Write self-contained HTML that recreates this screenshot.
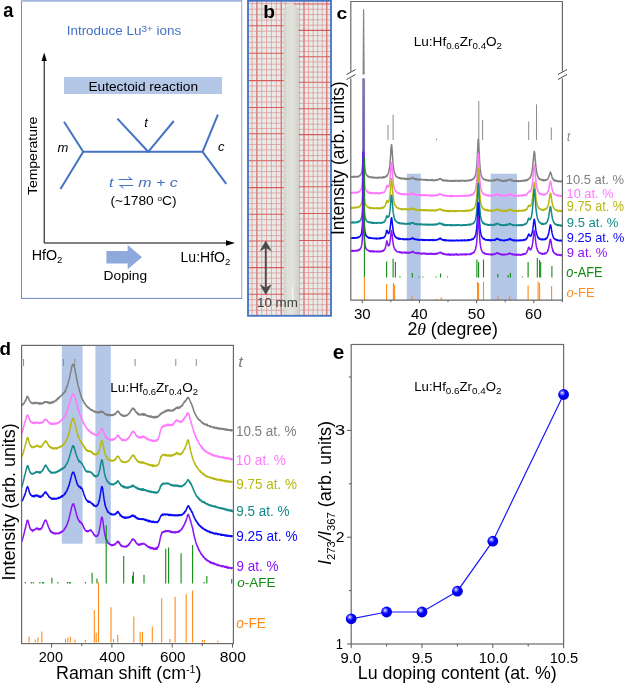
<!DOCTYPE html>
<html><head><meta charset="utf-8"><title>Figure</title><style>
html,body{margin:0;padding:0;background:#fff;width:625px;height:685px;overflow:hidden}
svg{display:block}
text{font-family:"Liberation Sans", Arial, sans-serif}
</style></head><body>
<svg width="625" height="685" viewBox="0 0 625 685">
<line x1="21.5" y1="0.5" x2="21.5" y2="298.9" stroke="#6F8CC8" stroke-width="1"/>
<line x1="21" y1="0.9" x2="242.2" y2="0.9" stroke="#A4B6DC" stroke-width="1.6"/>
<line x1="241.7" y1="0.5" x2="241.7" y2="298.9" stroke="#9CB0DA" stroke-width="1.1"/>
<line x1="21" y1="298.4" x2="242.2" y2="298.4" stroke="#6A88C4" stroke-width="1"/>
<text id="a" x="3.34" y="17.24" font-size="19.57" textLength="10.17" lengthAdjust="spacingAndGlyphs" font-weight="bold">a</text>
<text id="intro" x="66.68" y="34.59" font-size="13.00" textLength="114.45" lengthAdjust="spacingAndGlyphs" fill="#4472C4">Introduce Lu<tspan dy="-2.6" font-size="9.5">3+</tspan><tspan dy="2.6"> ions</tspan></text>
<line x1="44.2" y1="243" x2="44.2" y2="58" stroke="#000" stroke-width="1"/>
<polygon points="44.2,52.5 41.6,61 46.8,61" fill="#000"/>
<line x1="44.2" y1="243" x2="228" y2="243" stroke="#000" stroke-width="1"/>
<polygon points="235,243 226,240.3 226,245.7" fill="#000"/>
<rect x="64" y="77" width="158" height="17" fill="#B4C7E7"/>
<text id="eut" x="88.45" y="91.37" font-size="13.40" textLength="109.58" lengthAdjust="spacingAndGlyphs" >Eutectoid reaction</text>
<polyline points="64,121.8 83.2,151.8 60.5,189" stroke="#4472C4" stroke-width="2" fill="none"/>
<line x1="83.2" y1="151.8" x2="202.6" y2="151.8" stroke="#4472C4" stroke-width="2" fill="none"/>
<polyline points="117.4,118.6 148.2,151.8 173.8,121" stroke="#4472C4" stroke-width="2" fill="none"/>
<polyline points="217.9,114.7 202.6,151.8 226.2,183.8" stroke="#4472C4" stroke-width="2" fill="none"/>
<text id="am" x="57.50" y="152.00" font-size="13.00" font-style="italic">m</text>
<text id="at" x="144.30" y="127.30" font-size="13.00" font-style="italic">t</text>
<text id="ac" x="218.00" y="151.30" font-size="13.00" font-style="italic">c</text>
<text id="eq" x="109.02" y="187.38" font-size="13.13" textLength="68.75" lengthAdjust="spacingAndGlyphs" font-style="italic" fill="#4472C4">t <tspan font-style="normal" font-family="Noto Sans CJK SC" font-weight="400" font-size="13">&#8652;</tspan> m + c</text>
<text id="temp1780" x="110.55" y="204.54" font-size="13.50" textLength="66.00" lengthAdjust="spacingAndGlyphs" >(~1780 <tspan dy="-3.9" font-size="8">o</tspan><tspan dy="3.9">C)</tspan></text>
<text id="temper" transform="translate(37.40,194.99) rotate(-90)" font-size="13.61" textLength="78.31" lengthAdjust="spacingAndGlyphs" >Temperature</text>
<text id="hfo2" x="31.70" y="260.02" font-size="14.22" textLength="30.69" lengthAdjust="spacingAndGlyphs" >HfO<tspan dy="3" font-size="9.5">2</tspan></text>
<text id="luhfo2" x="180.53" y="262.06" font-size="13.92" textLength="49.84" lengthAdjust="spacingAndGlyphs" >Lu:HfO<tspan dy="3" font-size="9.5">2</tspan></text>
<polygon points="106.4,251 127.7,251 127.7,244.9 142,257.2 127.7,269.2 127.7,263.5 106.4,263.5" fill="#8EA9DB"/>
<text id="doping" x="103.61" y="279.86" font-size="13.56" textLength="43.53" lengthAdjust="spacingAndGlyphs" >Doping</text>
<defs><clipPath id="cpb"><rect x="248" y="0.8" width="83" height="315"/></clipPath><linearGradient id="rodg" x1="0" x2="1" y1="0" y2="0"><stop offset="0" stop-color="#D0D0C6"/><stop offset="0.25" stop-color="#DFE0D8"/><stop offset="0.6" stop-color="#E1E2DB"/><stop offset="1" stop-color="#CFCFC4"/></linearGradient></defs>
<g clip-path="url(#cpb)">
<rect x="248" y="0.8" width="83" height="315" fill="#E8EBE8"/>
<line x1="247.18" y1="0" x2="247.18" y2="320" stroke="#DC8A8A" stroke-width="0.65"/><line x1="252.04" y1="0" x2="252.04" y2="320" stroke="#DC8A8A" stroke-width="0.65"/><line x1="256.90" y1="0" x2="256.90" y2="320" stroke="#D65A58" stroke-width="1.1"/><line x1="261.76" y1="0" x2="261.76" y2="320" stroke="#DC8A8A" stroke-width="0.65"/><line x1="266.62" y1="0" x2="266.62" y2="320" stroke="#DC8A8A" stroke-width="0.65"/><line x1="271.48" y1="0" x2="271.48" y2="320" stroke="#DC8A8A" stroke-width="0.65"/><line x1="276.34" y1="0" x2="276.34" y2="320" stroke="#DC8A8A" stroke-width="0.65"/><line x1="281.20" y1="0" x2="281.20" y2="320" stroke="#D65A58" stroke-width="1.1"/><line x1="285.76" y1="0" x2="285.76" y2="320" stroke="#DC8A8A" stroke-width="0.65"/><line x1="290.32" y1="0" x2="290.32" y2="320" stroke="#DC8A8A" stroke-width="0.65"/><line x1="294.88" y1="0" x2="294.88" y2="320" stroke="#DC8A8A" stroke-width="0.65"/><line x1="299.44" y1="0" x2="299.44" y2="320" stroke="#DC8A8A" stroke-width="0.65"/><line x1="304.00" y1="0" x2="304.00" y2="320" stroke="#D65A58" stroke-width="1.1"/><line x1="308.56" y1="0" x2="308.56" y2="320" stroke="#DC8A8A" stroke-width="0.65"/><line x1="313.12" y1="0" x2="313.12" y2="320" stroke="#DC8A8A" stroke-width="0.65"/><line x1="317.68" y1="0" x2="317.68" y2="320" stroke="#DC8A8A" stroke-width="0.65"/><line x1="322.24" y1="0" x2="322.24" y2="320" stroke="#DC8A8A" stroke-width="0.65"/><line x1="326.80" y1="0" x2="326.80" y2="320" stroke="#D65A58" stroke-width="1.1"/><line x1="331.36" y1="0" x2="331.36" y2="320" stroke="#DC8A8A" stroke-width="0.65"/><line x1="248" y1="-12.94" x2="290" y2="-12.94" stroke="#DC8A8A" stroke-width="0.65"/><line x1="290" y1="-6.56" x2="332" y2="-6.56" stroke="#DC8A8A" stroke-width="0.65"/><line x1="248" y1="-7.42" x2="290" y2="-7.42" stroke="#DC8A8A" stroke-width="0.65"/><line x1="290" y1="-1.28" x2="332" y2="-1.28" stroke="#DC8A8A" stroke-width="0.65"/><line x1="248" y1="-1.90" x2="290" y2="-1.90" stroke="#D65A58" stroke-width="1.1"/><line x1="290" y1="4.00" x2="332" y2="4.00" stroke="#D65A58" stroke-width="1.1"/><line x1="248" y1="3.62" x2="290" y2="3.62" stroke="#DC8A8A" stroke-width="0.65"/><line x1="290" y1="9.28" x2="332" y2="9.28" stroke="#DC8A8A" stroke-width="0.65"/><line x1="248" y1="9.14" x2="290" y2="9.14" stroke="#DC8A8A" stroke-width="0.65"/><line x1="290" y1="14.56" x2="332" y2="14.56" stroke="#DC8A8A" stroke-width="0.65"/><line x1="248" y1="14.66" x2="290" y2="14.66" stroke="#DC8A8A" stroke-width="0.65"/><line x1="290" y1="19.84" x2="332" y2="19.84" stroke="#DC8A8A" stroke-width="0.65"/><line x1="248" y1="20.18" x2="290" y2="20.18" stroke="#DC8A8A" stroke-width="0.65"/><line x1="290" y1="25.12" x2="332" y2="25.12" stroke="#DC8A8A" stroke-width="0.65"/><line x1="248" y1="25.70" x2="290" y2="25.70" stroke="#D65A58" stroke-width="1.1"/><line x1="290" y1="30.40" x2="332" y2="30.40" stroke="#D65A58" stroke-width="1.1"/><line x1="248" y1="31.22" x2="290" y2="31.22" stroke="#DC8A8A" stroke-width="0.65"/><line x1="290" y1="35.68" x2="332" y2="35.68" stroke="#DC8A8A" stroke-width="0.65"/><line x1="248" y1="36.74" x2="290" y2="36.74" stroke="#DC8A8A" stroke-width="0.65"/><line x1="290" y1="40.96" x2="332" y2="40.96" stroke="#DC8A8A" stroke-width="0.65"/><line x1="248" y1="42.26" x2="290" y2="42.26" stroke="#DC8A8A" stroke-width="0.65"/><line x1="290" y1="46.24" x2="332" y2="46.24" stroke="#DC8A8A" stroke-width="0.65"/><line x1="248" y1="47.78" x2="290" y2="47.78" stroke="#DC8A8A" stroke-width="0.65"/><line x1="290" y1="51.52" x2="332" y2="51.52" stroke="#DC8A8A" stroke-width="0.65"/><line x1="248" y1="53.30" x2="290" y2="53.30" stroke="#D65A58" stroke-width="1.1"/><line x1="290" y1="56.80" x2="332" y2="56.80" stroke="#D65A58" stroke-width="1.1"/><line x1="248" y1="58.76" x2="290" y2="58.76" stroke="#DC8A8A" stroke-width="0.65"/><line x1="290" y1="61.90" x2="332" y2="61.90" stroke="#DC8A8A" stroke-width="0.65"/><line x1="248" y1="64.22" x2="290" y2="64.22" stroke="#DC8A8A" stroke-width="0.65"/><line x1="290" y1="67.00" x2="332" y2="67.00" stroke="#DC8A8A" stroke-width="0.65"/><line x1="248" y1="69.68" x2="290" y2="69.68" stroke="#DC8A8A" stroke-width="0.65"/><line x1="290" y1="72.10" x2="332" y2="72.10" stroke="#DC8A8A" stroke-width="0.65"/><line x1="248" y1="75.14" x2="290" y2="75.14" stroke="#DC8A8A" stroke-width="0.65"/><line x1="290" y1="77.20" x2="332" y2="77.20" stroke="#DC8A8A" stroke-width="0.65"/><line x1="248" y1="80.60" x2="290" y2="80.60" stroke="#D65A58" stroke-width="1.1"/><line x1="290" y1="82.30" x2="332" y2="82.30" stroke="#D65A58" stroke-width="1.1"/><line x1="248" y1="85.98" x2="290" y2="85.98" stroke="#DC8A8A" stroke-width="0.65"/><line x1="290" y1="87.58" x2="332" y2="87.58" stroke="#DC8A8A" stroke-width="0.65"/><line x1="248" y1="91.36" x2="290" y2="91.36" stroke="#DC8A8A" stroke-width="0.65"/><line x1="290" y1="92.86" x2="332" y2="92.86" stroke="#DC8A8A" stroke-width="0.65"/><line x1="248" y1="96.74" x2="290" y2="96.74" stroke="#DC8A8A" stroke-width="0.65"/><line x1="290" y1="98.14" x2="332" y2="98.14" stroke="#DC8A8A" stroke-width="0.65"/><line x1="248" y1="102.12" x2="290" y2="102.12" stroke="#DC8A8A" stroke-width="0.65"/><line x1="290" y1="103.42" x2="332" y2="103.42" stroke="#DC8A8A" stroke-width="0.65"/><line x1="248" y1="107.50" x2="290" y2="107.50" stroke="#D65A58" stroke-width="1.1"/><line x1="290" y1="108.70" x2="332" y2="108.70" stroke="#D65A58" stroke-width="1.1"/><line x1="248" y1="112.74" x2="290" y2="112.74" stroke="#DC8A8A" stroke-width="0.65"/><line x1="290" y1="113.88" x2="332" y2="113.88" stroke="#DC8A8A" stroke-width="0.65"/><line x1="248" y1="117.98" x2="290" y2="117.98" stroke="#DC8A8A" stroke-width="0.65"/><line x1="290" y1="119.06" x2="332" y2="119.06" stroke="#DC8A8A" stroke-width="0.65"/><line x1="248" y1="123.22" x2="290" y2="123.22" stroke="#DC8A8A" stroke-width="0.65"/><line x1="290" y1="124.24" x2="332" y2="124.24" stroke="#DC8A8A" stroke-width="0.65"/><line x1="248" y1="128.46" x2="290" y2="128.46" stroke="#DC8A8A" stroke-width="0.65"/><line x1="290" y1="129.42" x2="332" y2="129.42" stroke="#DC8A8A" stroke-width="0.65"/><line x1="248" y1="133.70" x2="290" y2="133.70" stroke="#D65A58" stroke-width="1.1"/><line x1="290" y1="134.60" x2="332" y2="134.60" stroke="#D65A58" stroke-width="1.1"/><line x1="248" y1="139.12" x2="290" y2="139.12" stroke="#DC8A8A" stroke-width="0.65"/><line x1="290" y1="139.84" x2="332" y2="139.84" stroke="#DC8A8A" stroke-width="0.65"/><line x1="248" y1="144.54" x2="290" y2="144.54" stroke="#DC8A8A" stroke-width="0.65"/><line x1="290" y1="145.08" x2="332" y2="145.08" stroke="#DC8A8A" stroke-width="0.65"/><line x1="248" y1="149.96" x2="290" y2="149.96" stroke="#DC8A8A" stroke-width="0.65"/><line x1="290" y1="150.32" x2="332" y2="150.32" stroke="#DC8A8A" stroke-width="0.65"/><line x1="248" y1="155.38" x2="290" y2="155.38" stroke="#DC8A8A" stroke-width="0.65"/><line x1="290" y1="155.56" x2="332" y2="155.56" stroke="#DC8A8A" stroke-width="0.65"/><line x1="248" y1="160.80" x2="290" y2="160.80" stroke="#D65A58" stroke-width="1.1"/><line x1="290" y1="160.80" x2="332" y2="160.80" stroke="#D65A58" stroke-width="1.1"/><line x1="248" y1="166.16" x2="290" y2="166.16" stroke="#DC8A8A" stroke-width="0.65"/><line x1="290" y1="166.00" x2="332" y2="166.00" stroke="#DC8A8A" stroke-width="0.65"/><line x1="248" y1="171.52" x2="290" y2="171.52" stroke="#DC8A8A" stroke-width="0.65"/><line x1="290" y1="171.20" x2="332" y2="171.20" stroke="#DC8A8A" stroke-width="0.65"/><line x1="248" y1="176.88" x2="290" y2="176.88" stroke="#DC8A8A" stroke-width="0.65"/><line x1="290" y1="176.40" x2="332" y2="176.40" stroke="#DC8A8A" stroke-width="0.65"/><line x1="248" y1="182.24" x2="290" y2="182.24" stroke="#DC8A8A" stroke-width="0.65"/><line x1="290" y1="181.60" x2="332" y2="181.60" stroke="#DC8A8A" stroke-width="0.65"/><line x1="248" y1="187.60" x2="290" y2="187.60" stroke="#D65A58" stroke-width="1.1"/><line x1="290" y1="186.80" x2="332" y2="186.80" stroke="#D65A58" stroke-width="1.1"/><line x1="248" y1="192.94" x2="290" y2="192.94" stroke="#DC8A8A" stroke-width="0.65"/><line x1="290" y1="192.14" x2="332" y2="192.14" stroke="#DC8A8A" stroke-width="0.65"/><line x1="248" y1="198.28" x2="290" y2="198.28" stroke="#DC8A8A" stroke-width="0.65"/><line x1="290" y1="197.48" x2="332" y2="197.48" stroke="#DC8A8A" stroke-width="0.65"/><line x1="248" y1="203.62" x2="290" y2="203.62" stroke="#DC8A8A" stroke-width="0.65"/><line x1="290" y1="202.82" x2="332" y2="202.82" stroke="#DC8A8A" stroke-width="0.65"/><line x1="248" y1="208.96" x2="290" y2="208.96" stroke="#DC8A8A" stroke-width="0.65"/><line x1="290" y1="208.16" x2="332" y2="208.16" stroke="#DC8A8A" stroke-width="0.65"/><line x1="248" y1="214.30" x2="290" y2="214.30" stroke="#D65A58" stroke-width="1.1"/><line x1="290" y1="213.50" x2="332" y2="213.50" stroke="#D65A58" stroke-width="1.1"/><line x1="248" y1="219.64" x2="290" y2="219.64" stroke="#DC8A8A" stroke-width="0.65"/><line x1="290" y1="218.90" x2="332" y2="218.90" stroke="#DC8A8A" stroke-width="0.65"/><line x1="248" y1="224.98" x2="290" y2="224.98" stroke="#DC8A8A" stroke-width="0.65"/><line x1="290" y1="224.30" x2="332" y2="224.30" stroke="#DC8A8A" stroke-width="0.65"/><line x1="248" y1="230.32" x2="290" y2="230.32" stroke="#DC8A8A" stroke-width="0.65"/><line x1="290" y1="229.70" x2="332" y2="229.70" stroke="#DC8A8A" stroke-width="0.65"/><line x1="248" y1="235.66" x2="290" y2="235.66" stroke="#DC8A8A" stroke-width="0.65"/><line x1="290" y1="235.10" x2="332" y2="235.10" stroke="#DC8A8A" stroke-width="0.65"/><line x1="248" y1="241.00" x2="290" y2="241.00" stroke="#D65A58" stroke-width="1.1"/><line x1="290" y1="240.50" x2="332" y2="240.50" stroke="#D65A58" stroke-width="1.1"/><line x1="248" y1="246.32" x2="290" y2="246.32" stroke="#DC8A8A" stroke-width="0.65"/><line x1="290" y1="245.84" x2="332" y2="245.84" stroke="#DC8A8A" stroke-width="0.65"/><line x1="248" y1="251.64" x2="290" y2="251.64" stroke="#DC8A8A" stroke-width="0.65"/><line x1="290" y1="251.18" x2="332" y2="251.18" stroke="#DC8A8A" stroke-width="0.65"/><line x1="248" y1="256.96" x2="290" y2="256.96" stroke="#DC8A8A" stroke-width="0.65"/><line x1="290" y1="256.52" x2="332" y2="256.52" stroke="#DC8A8A" stroke-width="0.65"/><line x1="248" y1="262.28" x2="290" y2="262.28" stroke="#DC8A8A" stroke-width="0.65"/><line x1="290" y1="261.86" x2="332" y2="261.86" stroke="#DC8A8A" stroke-width="0.65"/><line x1="248" y1="267.60" x2="290" y2="267.60" stroke="#D65A58" stroke-width="1.1"/><line x1="290" y1="267.20" x2="332" y2="267.20" stroke="#D65A58" stroke-width="1.1"/><line x1="248" y1="272.94" x2="290" y2="272.94" stroke="#DC8A8A" stroke-width="0.65"/><line x1="290" y1="272.56" x2="332" y2="272.56" stroke="#DC8A8A" stroke-width="0.65"/><line x1="248" y1="278.28" x2="290" y2="278.28" stroke="#DC8A8A" stroke-width="0.65"/><line x1="290" y1="277.92" x2="332" y2="277.92" stroke="#DC8A8A" stroke-width="0.65"/><line x1="248" y1="283.62" x2="290" y2="283.62" stroke="#DC8A8A" stroke-width="0.65"/><line x1="290" y1="283.28" x2="332" y2="283.28" stroke="#DC8A8A" stroke-width="0.65"/><line x1="248" y1="288.96" x2="290" y2="288.96" stroke="#DC8A8A" stroke-width="0.65"/><line x1="290" y1="288.64" x2="332" y2="288.64" stroke="#DC8A8A" stroke-width="0.65"/><line x1="248" y1="294.30" x2="290" y2="294.30" stroke="#D65A58" stroke-width="1.1"/><line x1="290" y1="294.00" x2="332" y2="294.00" stroke="#D65A58" stroke-width="1.1"/><line x1="248" y1="299.64" x2="290" y2="299.64" stroke="#DC8A8A" stroke-width="0.65"/><line x1="290" y1="299.36" x2="332" y2="299.36" stroke="#DC8A8A" stroke-width="0.65"/><line x1="248" y1="304.98" x2="290" y2="304.98" stroke="#DC8A8A" stroke-width="0.65"/><line x1="290" y1="304.72" x2="332" y2="304.72" stroke="#DC8A8A" stroke-width="0.65"/><line x1="248" y1="310.32" x2="290" y2="310.32" stroke="#DC8A8A" stroke-width="0.65"/><line x1="290" y1="310.08" x2="332" y2="310.08" stroke="#DC8A8A" stroke-width="0.65"/><line x1="248" y1="315.66" x2="290" y2="315.66" stroke="#DC8A8A" stroke-width="0.65"/><line x1="290" y1="315.44" x2="332" y2="315.44" stroke="#DC8A8A" stroke-width="0.65"/><line x1="248" y1="321.00" x2="290" y2="321.00" stroke="#D65A58" stroke-width="1.1"/><line x1="290" y1="320.80" x2="332" y2="320.80" stroke="#D65A58" stroke-width="1.1"/><line x1="248" y1="326.34" x2="290" y2="326.34" stroke="#DC8A8A" stroke-width="0.65"/><line x1="290" y1="326.16" x2="332" y2="326.16" stroke="#DC8A8A" stroke-width="0.65"/>
<path d="M283.6,316 L283.6,12 L290.5,2.2 L297.2,6 L298.6,14 L299.2,316 Z" fill="url(#rodg)"/>
<path d="M291.6,288 L293,286 L293.6,300 L292.2,301 Z" fill="#F4F4F0"/>
</g>
<rect x="248" y="0.8" width="83" height="315" fill="none" stroke="#4472C4" stroke-width="1.8"/>
<text id="b" x="263.28" y="17.52" font-size="19.02" textLength="11.77" lengthAdjust="spacingAndGlyphs" font-weight="bold">b</text>
<line x1="265.75" y1="245" x2="265.75" y2="290" stroke="#4A4A4A" stroke-width="1.9"/>
<path d="M265.75,241.2 L271,250.5 L265.75,247.5 L260.5,250.5 Z" fill="#4A4A4A" stroke="#4A4A4A" stroke-width="0.8" stroke-linejoin="round"/>
<path d="M265.75,294.3 L271,285 L265.75,288 L260.5,285 Z" fill="#4A4A4A" stroke="#4A4A4A" stroke-width="0.8" stroke-linejoin="round"/>
<text id="tenmm" x="256.98" y="307.30" font-size="11.91" textLength="40.81" lengthAdjust="spacingAndGlyphs" fill="#404040">10 mm</text>
<text id="c" x="336.50" y="19.32" font-size="15.86" textLength="10.74" lengthAdjust="spacingAndGlyphs" font-weight="bold">c</text>
<rect x="406.8" y="173.7" width="13.9" height="126.3" fill="#B4C7E7"/>
<rect x="490.7" y="173.7" width="26.3" height="126.3" fill="#B4C7E7"/>
<line x1="388.0" y1="140" x2="388.0" y2="125" stroke="#8C8C8C" stroke-width="1"/>
<line x1="393.1" y1="140" x2="393.1" y2="114.6" stroke="#8C8C8C" stroke-width="1"/>
<line x1="436.6" y1="140" x2="436.6" y2="138.5" stroke="#8C8C8C" stroke-width="1"/>
<line x1="478.8" y1="140" x2="478.8" y2="101" stroke="#8C8C8C" stroke-width="1"/>
<line x1="482.6" y1="140" x2="482.6" y2="120" stroke="#8C8C8C" stroke-width="1"/>
<line x1="528.7" y1="140" x2="528.7" y2="121.5" stroke="#8C8C8C" stroke-width="1"/>
<line x1="536.5" y1="140" x2="536.5" y2="104.4" stroke="#8C8C8C" stroke-width="1"/>
<line x1="551.3" y1="140" x2="551.3" y2="127.5" stroke="#8C8C8C" stroke-width="1"/>
<polyline points="350.91,177.01 351.05,177.07 351.18,176.94 351.31,176.80 351.44,176.89 351.58,176.77 351.71,177.00 351.84,177.27 351.97,176.87 352.10,176.83 352.24,177.07 352.37,177.04 352.50,176.98 352.63,176.74 352.77,176.94 352.90,177.09 353.03,176.64 353.16,176.82 353.29,176.50 353.43,176.63 353.56,176.50 353.69,176.85 353.82,176.62 353.96,176.95 354.09,176.93 354.22,176.85 354.35,176.33 354.48,176.76 354.62,176.87 354.75,176.90 354.88,176.53 355.01,176.76 355.15,176.64 355.28,176.67 355.41,177.08 355.54,176.66 355.67,176.82 355.81,177.01 355.94,176.68 356.07,176.77 356.20,176.81 356.34,176.79 356.47,176.49 356.60,176.76 356.73,177.03 356.86,176.38 357.00,176.89 357.13,176.71 357.26,176.52 357.39,177.08 357.53,176.78 357.66,176.33 357.79,176.58 357.92,176.66 358.05,176.46 358.19,176.62 358.32,176.42 358.45,176.54 358.58,176.67 358.72,176.15 358.85,176.30 358.98,176.10 359.11,176.17 359.24,175.81 359.38,175.87 359.51,175.88 359.64,176.04 359.77,176.00 359.90,175.35 360.04,175.35 360.17,175.54 360.30,174.82 360.43,175.00 360.57,174.91 360.70,175.01 360.83,174.67 360.96,174.20 361.09,173.92 361.23,173.63 361.36,173.66 361.49,172.82 361.62,172.38 361.76,171.98 361.89,171.24 362.02,170.47 362.15,169.37 362.28,168.52 362.42,167.09 362.55,165.74 362.68,163.37 362.81,160.08 362.95,155.47 363.08,150.00 363.21,150.00 363.34,150.00 363.47,150.00 363.61,150.00 363.74,150.00 363.87,150.00 364.00,150.00 364.14,150.00 364.27,154.63 364.40,159.83 364.53,163.55 364.66,165.20 364.80,167.00 364.93,168.56 365.06,169.73 365.19,170.51 365.33,171.27 365.46,172.13 365.59,172.65 365.72,172.80 365.85,173.43 365.99,173.83 366.12,173.91 366.25,174.49 366.38,174.50 366.52,175.13 366.65,175.16 366.78,175.32 366.91,175.34 367.04,175.59 367.18,175.32 367.31,175.63 367.44,176.07 367.57,175.63 367.71,176.38 367.84,175.90 367.97,176.53 368.10,176.25 368.23,176.68 368.37,176.60 368.50,176.29 368.63,176.96 368.76,177.05 368.90,176.77 369.03,176.77 369.16,176.84 369.29,176.70 369.42,177.19 369.56,176.87 369.69,177.01 369.82,176.88 369.95,176.95 370.09,176.83 370.22,177.42 370.35,177.13 370.48,177.40 370.61,177.22 370.75,177.08 370.88,177.18 371.01,177.15 371.14,177.30 371.28,177.23 371.41,177.27 371.54,177.05 371.67,177.19 371.80,177.75 371.94,177.25 372.07,177.18 372.20,177.50 372.33,177.75 372.47,177.13 372.60,177.42 372.73,177.34 372.86,177.10 372.99,177.66 373.13,177.50 373.26,177.54 373.39,177.36 373.52,177.64 373.66,177.43 373.79,177.53 373.92,177.32 374.05,177.31 374.18,177.88 374.32,177.48 374.45,177.66 374.58,177.60 374.71,177.52 374.85,177.51 374.98,177.76 375.11,177.57 375.24,177.60 375.37,177.65 375.51,177.91 375.64,177.80 375.77,177.74 375.90,177.54 376.04,177.36 376.17,177.88 376.30,177.89 376.43,177.65 376.56,177.80 376.70,177.86 376.83,177.87 376.96,177.90 377.09,177.60 377.23,178.03 377.36,177.43 377.49,177.89 377.62,177.81 377.75,177.90 377.89,178.12 378.02,178.03 378.15,177.46 378.28,177.34 378.42,177.89 378.55,177.49 378.68,177.71 378.81,177.89 378.94,177.35 379.08,177.24 379.21,177.76 379.34,177.71 379.47,177.65 379.60,177.71 379.74,177.51 379.87,177.36 380.00,177.65 380.13,177.47 380.27,177.32 380.40,177.79 380.53,177.66 380.66,177.75 380.79,177.44 380.93,177.50 381.06,177.42 381.19,177.44 381.32,177.67 381.46,177.44 381.59,177.68 381.72,177.67 381.85,178.03 381.98,177.27 382.12,177.76 382.25,177.53 382.38,177.53 382.51,177.20 382.65,177.40 382.78,177.65 382.91,177.45 383.04,177.46 383.17,177.36 383.31,177.66 383.44,177.37 383.57,176.87 383.70,177.18 383.84,176.87 383.97,176.55 384.10,177.12 384.23,177.50 384.36,177.18 384.50,176.87 384.63,176.88 384.76,177.30 384.89,177.04 385.03,176.96 385.16,176.89 385.29,176.85 385.42,176.96 385.55,176.84 385.69,176.70 385.82,176.35 385.95,176.61 386.08,176.27 386.22,176.57 386.35,175.95 386.48,176.09 386.61,176.01 386.74,175.60 386.88,176.14 387.01,175.94 387.14,175.36 387.27,175.46 387.41,175.20 387.54,174.34 387.67,174.75 387.80,174.44 387.93,174.22 388.07,173.67 388.20,173.54 388.33,173.21 388.46,173.13 388.60,172.52 388.73,171.97 388.86,171.78 388.99,170.74 389.12,170.12 389.26,169.08 389.39,169.01 389.52,167.96 389.65,166.92 389.79,165.72 389.92,164.31 390.05,162.90 390.18,161.21 390.31,159.48 390.45,157.65 390.58,155.95 390.71,153.64 390.84,151.39 390.98,149.25 391.11,147.42 391.24,146.44 391.37,145.21 391.50,144.71 391.64,144.83 391.77,145.48 391.90,147.04 392.03,148.97 392.17,150.68 392.30,152.82 392.43,154.95 392.56,157.08 392.69,158.65 392.83,160.76 392.96,162.27 393.09,164.15 393.22,165.13 393.36,166.63 393.49,167.92 393.62,168.47 393.75,169.27 393.88,170.21 394.02,170.86 394.15,171.26 394.28,172.13 394.41,172.97 394.55,172.92 394.68,173.34 394.81,173.53 394.94,174.16 395.07,174.12 395.21,174.43 395.34,175.22 395.47,174.97 395.60,175.62 395.74,175.92 395.87,175.82 396.00,176.06 396.13,176.52 396.26,176.20 396.40,176.25 396.53,176.20 396.66,176.63 396.79,177.06 396.93,177.05 397.06,176.72 397.19,176.83 397.32,177.00 397.45,177.25 397.59,177.22 397.72,177.38 397.85,177.47 397.98,177.40 398.12,177.52 398.25,177.63 398.38,177.63 398.51,177.81 398.64,178.16 398.78,177.92 398.91,177.85 399.04,177.51 399.17,178.01 399.30,177.53 399.44,177.69 399.57,178.23 399.70,178.23 399.83,178.07 399.97,177.76 400.10,178.09 400.23,178.05 400.36,178.37 400.49,178.75 400.63,178.33 400.76,178.14 400.89,178.08 401.02,178.34 401.16,178.34 401.29,178.15 401.42,178.45 401.55,178.19 401.68,178.71 401.82,178.72 401.95,178.74 402.08,178.42 402.21,178.65 402.35,178.53 402.48,178.49 402.61,178.52 402.74,178.32 402.87,178.31 403.01,178.81 403.14,178.61 403.27,178.72 403.40,178.90 403.54,178.31 403.67,178.54 403.80,178.76 403.93,178.82 404.06,178.66 404.20,178.98 404.33,178.82 404.46,178.51 404.59,178.59 404.73,178.98 404.86,178.91 404.99,178.40 405.12,179.13 405.25,178.97 405.39,179.15 405.52,178.77 405.65,178.80 405.78,178.63 405.92,179.44 406.05,178.85 406.18,179.25 406.31,178.76 406.44,178.95 406.58,178.55 406.71,178.84 406.84,179.14 406.97,178.65 407.11,179.17 407.24,179.01 407.37,178.71 407.50,178.83 407.63,178.84 407.77,178.93 407.90,178.83 408.03,178.76 408.16,178.88 408.30,178.72 408.43,178.66 408.56,178.93 408.69,179.13 408.82,178.59 408.96,178.92 409.09,178.77 409.22,178.68 409.35,179.08 409.49,178.76 409.62,179.19 409.75,178.67 409.88,178.90 410.01,178.74 410.15,178.60 410.28,178.87 410.41,178.67 410.54,178.80 410.68,178.61 410.81,178.34 410.94,178.51 411.07,178.48 411.20,178.62 411.34,178.15 411.47,178.28 411.60,177.84 411.73,178.29 411.87,177.85 412.00,177.63 412.13,177.96 412.26,178.18 412.39,177.57 412.53,177.66 412.66,177.75 412.79,177.69 412.92,178.06 413.06,177.86 413.19,177.95 413.32,178.31 413.45,178.09 413.58,178.44 413.72,178.21 413.85,178.23 413.98,178.17 414.11,179.06 414.25,178.65 414.38,178.84 414.51,178.83 414.64,178.93 414.77,178.96 414.91,179.41 415.04,178.81 415.17,178.74 415.30,178.89 415.44,178.86 415.57,179.35 415.70,179.39 415.83,179.03 415.96,178.96 416.10,179.21 416.23,179.62 416.36,178.72 416.49,179.47 416.63,179.14 416.76,179.62 416.89,179.17 417.02,179.37 417.15,179.11 417.29,179.24 417.42,179.78 417.55,179.67 417.68,179.41 417.82,179.32 417.95,179.11 418.08,179.45 418.21,179.54 418.34,179.54 418.48,179.55 418.61,179.34 418.74,179.58 418.87,179.59 419.00,179.90 419.14,180.03 419.27,179.60 419.40,179.47 419.53,179.64 419.67,179.53 419.80,179.50 419.93,179.66 420.06,179.45 420.19,179.83 420.33,179.68 420.46,179.76 420.59,179.68 420.72,179.56 420.86,179.52 420.99,179.69 421.12,179.63 421.25,179.81 421.38,179.76 421.52,179.47 421.65,179.79 421.78,179.49 421.91,179.65 422.05,179.73 422.18,179.35 422.31,179.83 422.44,179.85 422.57,179.79 422.71,179.74 422.84,179.75 422.97,179.63 423.10,179.79 423.24,179.73 423.37,179.88 423.50,179.60 423.63,179.93 423.76,179.91 423.90,179.85 424.03,179.79 424.16,180.02 424.29,179.54 424.43,180.01 424.56,179.97 424.69,179.98 424.82,180.01 424.95,179.79 425.09,179.88 425.22,180.08 425.35,180.04 425.48,180.00 425.62,179.63 425.75,180.08 425.88,180.23 426.01,180.20 426.14,180.03 426.28,179.65 426.41,180.20 426.54,179.97 426.67,179.45 426.81,180.09 426.94,179.69 427.07,179.73 427.20,179.88 427.33,180.31 427.47,179.95 427.60,180.10 427.73,180.43 427.86,180.40 428.00,180.03 428.13,180.01 428.26,179.79 428.39,179.92 428.52,180.17 428.66,180.16 428.79,180.11 428.92,180.31 429.05,179.92 429.19,180.08 429.32,180.26 429.45,180.23 429.58,180.34 429.71,180.20 429.85,180.05 429.98,180.20 430.11,179.90 430.24,179.77 430.38,180.26 430.51,180.12 430.64,180.21 430.77,179.77 430.90,180.07 431.04,180.02 431.17,179.96 431.30,179.66 431.43,180.08 431.57,180.36 431.70,180.25 431.83,180.03 431.96,180.17 432.09,180.34 432.23,179.57 432.36,180.15 432.49,180.30 432.62,180.33 432.76,180.55 432.89,180.43 433.02,180.25 433.15,180.25 433.28,180.36 433.42,180.06 433.55,180.17 433.68,180.38 433.81,180.61 433.95,180.15 434.08,180.17 434.21,180.22 434.34,180.47 434.47,180.16 434.61,180.49 434.74,179.95 434.87,180.12 435.00,180.11 435.14,180.32 435.27,180.37 435.40,179.80 435.53,179.92 435.66,180.19 435.80,179.96 435.93,179.76 436.06,180.31 436.19,180.17 436.33,180.16 436.46,179.92 436.59,180.24 436.72,179.93 436.85,180.20 436.99,179.74 437.12,179.72 437.25,179.92 437.38,179.69 437.51,179.95 437.65,179.82 437.78,179.51 437.91,179.68 438.04,179.54 438.18,179.76 438.31,179.36 438.44,179.34 438.57,179.63 438.70,179.79 438.84,179.67 438.97,179.17 439.10,179.13 439.23,179.35 439.37,178.93 439.50,178.68 439.63,178.88 439.76,178.92 439.89,178.62 440.03,178.44 440.16,178.50 440.29,178.99 440.42,178.72 440.56,178.91 440.69,179.05 440.82,179.21 440.95,179.08 441.08,179.34 441.22,179.12 441.35,179.32 441.48,179.25 441.61,179.80 441.75,179.62 441.88,179.54 442.01,179.69 442.14,179.78 442.27,180.04 442.41,179.60 442.54,179.77 442.67,179.96 442.80,180.65 442.94,180.34 443.07,180.15 443.20,180.37 443.33,180.70 443.46,180.23 443.60,180.23 443.73,180.60 443.86,180.47 443.99,180.54 444.13,180.30 444.26,180.86 444.39,180.83 444.52,180.60 444.65,180.65 444.79,180.07 444.92,180.67 445.05,180.51 445.18,180.66 445.32,180.73 445.45,180.52 445.58,180.24 445.71,180.70 445.84,180.47 445.98,180.57 446.11,180.53 446.24,180.59 446.37,180.17 446.51,180.96 446.64,180.76 446.77,180.96 446.90,181.16 447.03,180.74 447.17,180.35 447.30,180.56 447.43,180.50 447.56,180.66 447.70,180.80 447.83,180.35 447.96,180.87 448.09,180.47 448.22,180.87 448.36,180.78 448.49,180.74 448.62,180.80 448.75,180.70 448.89,180.69 449.02,180.45 449.15,180.82 449.28,181.23 449.41,181.27 449.55,181.12 449.68,180.99 449.81,180.69 449.94,181.16 450.08,180.83 450.21,180.83 450.34,180.78 450.47,180.87 450.60,180.75 450.74,180.83 450.87,180.61 451.00,180.77 451.13,181.36 451.27,180.84 451.40,180.80 451.53,180.97 451.66,181.01 451.79,180.61 451.93,180.82 452.06,181.06 452.19,180.92 452.32,180.89 452.46,181.21 452.59,180.72 452.72,180.88 452.85,180.75 452.98,181.20 453.12,180.44 453.25,180.72 453.38,180.75 453.51,181.02 453.65,181.00 453.78,181.18 453.91,180.53 454.04,181.04 454.17,180.81 454.31,180.73 454.44,180.99 454.57,180.67 454.70,180.42 454.84,180.79 454.97,180.54 455.10,180.73 455.23,180.96 455.36,180.94 455.50,181.22 455.63,180.83 455.76,180.54 455.89,180.71 456.03,180.67 456.16,180.61 456.29,180.97 456.42,180.73 456.55,180.44 456.69,181.03 456.82,180.85 456.95,180.95 457.08,180.89 457.21,181.01 457.35,180.88 457.48,181.14 457.61,180.96 457.74,180.95 457.88,180.96 458.01,180.55 458.14,180.83 458.27,180.81 458.40,180.91 458.54,180.56 458.67,181.22 458.80,180.88 458.93,180.59 459.07,180.48 459.20,180.80 459.33,180.84 459.46,180.70 459.59,180.87 459.73,180.71 459.86,180.97 459.99,180.69 460.12,180.84 460.26,181.06 460.39,181.41 460.52,180.62 460.65,180.74 460.78,180.65 460.92,181.01 461.05,180.58 461.18,180.73 461.31,180.82 461.45,180.61 461.58,180.62 461.71,180.72 461.84,180.36 461.97,180.50 462.11,180.73 462.24,180.85 462.37,180.77 462.50,180.42 462.64,180.70 462.77,180.98 462.90,180.92 463.03,180.78 463.16,180.60 463.30,180.93 463.43,180.66 463.56,180.52 463.69,180.60 463.83,181.09 463.96,180.82 464.09,181.02 464.22,180.65 464.35,180.96 464.49,180.62 464.62,180.71 464.75,181.28 464.88,180.90 465.02,180.62 465.15,180.70 465.28,180.79 465.41,180.97 465.54,180.59 465.68,180.31 465.81,180.63 465.94,180.68 466.07,180.70 466.21,180.95 466.34,180.73 466.47,180.83 466.60,180.40 466.73,180.82 466.87,181.08 467.00,180.78 467.13,180.66 467.26,180.62 467.40,180.97 467.53,180.36 467.66,180.53 467.79,180.65 467.92,180.70 468.06,180.42 468.19,180.57 468.32,180.43 468.45,180.50 468.59,180.43 468.72,180.19 468.85,180.42 468.98,180.60 469.11,180.18 469.25,180.32 469.38,180.50 469.51,180.09 469.64,180.35 469.78,180.05 469.91,180.51 470.04,180.74 470.17,180.65 470.30,180.13 470.44,180.31 470.57,180.15 470.70,180.11 470.83,180.39 470.97,179.73 471.10,180.21 471.23,179.93 471.36,180.21 471.49,179.89 471.63,179.66 471.76,179.82 471.89,179.86 472.02,179.65 472.16,179.69 472.29,179.41 472.42,178.98 472.55,179.58 472.68,179.46 472.82,179.25 472.95,179.15 473.08,179.27 473.21,178.84 473.35,178.67 473.48,178.67 473.61,178.85 473.74,178.14 473.87,178.56 474.01,178.00 474.14,177.72 474.27,178.05 474.40,177.54 474.54,177.05 474.67,177.01 474.80,177.02 474.93,176.78 475.06,176.09 475.20,175.91 475.33,175.56 475.46,174.81 475.59,174.52 475.73,173.87 475.86,173.12 475.99,172.41 476.12,171.72 476.25,170.79 476.39,169.62 476.52,168.46 476.65,167.44 476.78,165.71 476.91,164.10 477.05,162.19 477.18,159.82 477.31,157.71 477.44,154.31 477.58,151.76 477.71,148.52 477.84,146.07 477.97,143.39 478.10,140.46 478.24,139.32 478.37,139.28 478.50,139.91 478.63,141.43 478.77,143.50 478.90,146.34 479.03,149.34 479.16,152.17 479.29,155.29 479.43,157.24 479.56,160.31 479.69,162.12 479.82,164.50 479.96,165.94 480.09,167.30 480.22,168.90 480.35,169.77 480.48,170.79 480.62,171.55 480.75,172.68 480.88,173.50 481.01,174.24 481.15,174.54 481.28,175.30 481.41,175.52 481.54,175.89 481.67,176.40 481.81,176.83 481.94,176.82 482.07,177.11 482.20,177.37 482.34,177.65 482.47,177.64 482.60,178.25 482.73,178.11 482.86,178.46 483.00,178.32 483.13,178.72 483.26,178.85 483.39,178.79 483.53,179.43 483.66,179.17 483.79,179.57 483.92,179.48 484.05,179.21 484.19,179.34 484.32,179.60 484.45,179.58 484.58,179.64 484.72,179.63 484.85,179.35 484.98,179.75 485.11,179.36 485.24,179.98 485.38,179.78 485.51,179.82 485.64,179.97 485.77,180.12 485.91,179.78 486.04,179.74 486.17,179.93 486.30,179.74 486.43,180.01 486.57,180.60 486.70,180.04 486.83,180.44 486.96,180.02 487.10,180.41 487.23,180.30 487.36,180.37 487.49,180.53 487.62,180.81 487.76,180.48 487.89,180.49 488.02,180.26 488.15,180.62 488.29,180.45 488.42,180.70 488.55,180.52 488.68,180.93 488.81,180.12 488.95,180.50 489.08,180.77 489.21,180.51 489.34,180.42 489.48,180.54 489.61,180.31 489.74,180.64 489.87,181.16 490.00,180.88 490.14,180.39 490.27,180.45 490.40,180.56 490.53,180.87 490.67,180.47 490.80,180.50 490.93,180.85 491.06,180.85 491.19,180.58 491.33,180.42 491.46,180.32 491.59,180.51 491.72,180.17 491.86,180.82 491.99,180.51 492.12,180.76 492.25,181.06 492.38,180.90 492.52,180.38 492.65,180.82 492.78,180.87 492.91,180.44 493.05,180.38 493.18,180.56 493.31,180.21 493.44,180.87 493.57,180.00 493.71,180.27 493.84,180.43 493.97,180.42 494.10,180.48 494.24,180.47 494.37,180.34 494.50,180.60 494.63,179.84 494.76,180.27 494.90,180.07 495.03,180.21 495.16,180.17 495.29,179.87 495.42,179.87 495.56,180.12 495.69,179.95 495.82,179.66 495.95,180.18 496.09,180.17 496.22,179.26 496.35,179.58 496.48,180.00 496.61,179.55 496.75,179.38 496.88,179.24 497.01,179.14 497.14,179.19 497.28,179.12 497.41,179.42 497.54,179.19 497.67,179.23 497.80,179.12 497.94,179.43 498.07,179.32 498.20,179.55 498.33,179.90 498.47,179.83 498.60,179.93 498.73,179.98 498.86,179.98 498.99,180.01 499.13,180.04 499.26,180.33 499.39,179.99 499.52,180.57 499.66,180.34 499.79,180.21 499.92,180.31 500.05,180.31 500.18,180.53 500.32,180.37 500.45,180.81 500.58,180.41 500.71,180.11 500.85,180.47 500.98,180.22 501.11,180.67 501.24,180.93 501.37,180.86 501.51,180.44 501.64,180.58 501.77,181.15 501.90,180.84 502.04,180.78 502.17,181.02 502.30,181.34 502.43,181.10 502.56,180.85 502.70,180.90 502.83,180.97 502.96,180.70 503.09,180.61 503.23,180.86 503.36,180.64 503.49,180.84 503.62,180.87 503.75,181.37 503.89,180.66 504.02,180.82 504.15,180.81 504.28,180.94 504.42,181.08 504.55,180.73 504.68,180.66 504.81,180.47 504.94,180.62 505.08,180.94 505.21,180.82 505.34,180.58 505.47,180.71 505.61,180.79 505.74,180.88 505.87,180.63 506.00,180.69 506.13,180.33 506.27,180.46 506.40,181.04 506.53,180.19 506.66,180.57 506.80,180.67 506.93,180.51 507.06,180.38 507.19,180.51 507.32,180.49 507.46,180.43 507.59,179.99 507.72,180.32 507.85,180.12 507.99,180.13 508.12,180.25 508.25,180.28 508.38,180.27 508.51,179.90 508.65,180.14 508.78,180.13 508.91,180.06 509.04,180.05 509.18,179.65 509.31,179.60 509.44,179.77 509.57,179.26 509.70,179.59 509.84,179.42 509.97,179.47 510.10,179.19 510.23,179.41 510.37,179.65 510.50,179.91 510.63,179.99 510.76,179.82 510.89,179.86 511.03,179.79 511.16,180.13 511.29,180.05 511.42,180.31 511.56,180.62 511.69,180.29 511.82,180.02 511.95,180.21 512.08,180.13 512.22,180.23 512.35,180.82 512.48,180.62 512.61,180.27 512.75,180.78 512.88,180.94 513.01,180.61 513.14,180.57 513.27,180.67 513.41,180.83 513.54,180.92 513.67,181.06 513.80,181.08 513.94,181.09 514.07,181.15 514.20,181.01 514.33,180.54 514.46,180.86 514.60,180.96 514.73,180.82 514.86,181.11 514.99,180.84 515.12,180.73 515.26,181.25 515.39,181.09 515.52,181.00 515.65,181.16 515.79,181.19 515.92,181.04 516.05,180.43 516.18,180.82 516.31,180.87 516.45,180.76 516.58,181.02 516.71,181.24 516.84,180.88 516.98,180.73 517.11,181.43 517.24,180.89 517.37,180.72 517.50,181.04 517.64,181.08 517.77,180.83 517.90,181.16 518.03,180.88 518.17,180.78 518.30,181.02 518.43,181.15 518.56,180.84 518.69,181.05 518.83,180.96 518.96,181.60 519.09,180.82 519.22,181.27 519.36,180.95 519.49,180.93 519.62,181.12 519.75,181.15 519.88,181.23 520.02,181.02 520.15,180.81 520.28,180.82 520.41,181.05 520.55,181.06 520.68,181.23 520.81,181.01 520.94,181.14 521.07,181.24 521.21,180.93 521.34,180.56 521.47,180.62 521.60,180.56 521.74,181.22 521.87,180.67 522.00,181.12 522.13,180.97 522.26,181.21 522.40,181.04 522.53,180.79 522.66,180.76 522.79,180.81 522.93,180.82 523.06,180.65 523.19,180.75 523.32,181.10 523.45,180.35 523.59,180.77 523.72,180.50 523.85,180.72 523.98,180.85 524.12,180.64 524.25,180.80 524.38,180.27 524.51,180.84 524.64,180.44 524.78,180.69 524.91,180.57 525.04,179.94 525.17,180.32 525.31,180.51 525.44,180.78 525.57,180.47 525.70,180.44 525.83,180.04 525.97,180.64 526.10,180.69 526.23,180.26 526.36,180.17 526.50,179.83 526.63,180.34 526.76,180.70 526.89,180.22 527.02,180.29 527.16,180.08 527.29,179.70 527.42,180.15 527.55,179.53 527.69,179.69 527.82,179.74 527.95,179.80 528.08,179.63 528.21,179.55 528.35,179.21 528.48,179.01 528.61,179.22 528.74,178.95 528.88,178.72 529.01,178.61 529.14,178.67 529.27,178.24 529.40,178.21 529.54,178.00 529.67,178.25 529.80,178.13 529.93,178.30 530.07,177.33 530.20,177.29 530.33,177.41 530.46,176.92 530.59,176.62 530.73,176.77 530.86,176.00 530.99,175.46 531.12,175.04 531.26,174.98 531.39,174.51 531.52,173.63 531.65,173.16 531.78,172.87 531.92,172.20 532.05,171.18 532.18,170.64 532.31,169.71 532.45,168.20 532.58,167.42 532.71,166.38 532.84,164.87 532.97,163.12 533.11,162.05 533.24,160.71 533.37,159.30 533.50,156.87 533.64,156.38 533.77,154.14 533.90,153.38 534.03,152.50 534.16,151.84 534.30,151.45 534.43,151.36 534.56,152.34 534.69,152.98 534.82,153.80 534.96,156.39 535.09,157.46 535.22,159.31 535.35,160.31 535.49,162.39 535.62,163.90 535.75,165.30 535.88,166.25 536.01,167.19 536.15,168.51 536.28,169.07 536.41,170.09 536.54,171.31 536.68,171.83 536.81,172.69 536.94,173.32 537.07,174.33 537.20,174.70 537.34,174.87 537.47,175.57 537.60,175.51 537.73,175.96 537.87,176.56 538.00,176.38 538.13,176.87 538.26,176.89 538.39,177.43 538.53,177.98 538.66,177.65 538.79,178.04 538.92,177.96 539.06,178.06 539.19,178.19 539.32,178.91 539.45,179.24 539.58,178.94 539.72,178.78 539.85,179.20 539.98,179.06 540.11,179.40 540.25,179.37 540.38,179.45 540.51,179.59 540.64,179.40 540.77,179.50 540.91,179.27 541.04,179.60 541.17,179.44 541.30,179.77 541.44,179.64 541.57,179.91 541.70,180.03 541.83,179.65 541.96,179.82 542.10,179.82 542.23,180.22 542.36,180.46 542.49,180.30 542.63,180.06 542.76,180.48 542.89,179.84 543.02,180.52 543.15,180.06 543.29,179.61 543.42,180.81 543.55,180.59 543.68,180.02 543.82,180.29 543.95,180.21 544.08,180.28 544.21,179.93 544.34,180.11 544.48,180.35 544.61,180.29 544.74,180.50 544.87,180.24 545.01,180.72 545.14,180.03 545.27,180.23 545.40,179.73 545.53,179.85 545.67,180.38 545.80,179.85 545.93,180.14 546.06,179.97 546.20,179.70 546.33,179.81 546.46,179.71 546.59,179.65 546.72,179.86 546.86,179.76 546.99,179.40 547.12,179.23 547.25,179.39 547.39,179.19 547.52,179.30 547.65,179.52 547.78,178.96 547.91,178.59 548.05,178.37 548.18,178.00 548.31,177.75 548.44,177.46 548.58,177.30 548.71,176.97 548.84,176.88 548.97,176.25 549.10,175.88 549.24,175.21 549.37,175.38 549.50,174.66 549.63,174.47 549.77,173.79 549.90,173.53 550.03,172.78 550.16,172.72 550.29,172.98 550.43,172.06 550.56,172.65 550.69,172.95 550.82,172.96 550.96,173.40 551.09,173.94 551.22,173.98 551.35,174.71 551.48,174.90 551.62,175.42 551.75,175.89 551.88,176.42 552.01,176.88 552.15,177.31 552.28,177.22 552.41,178.29 552.54,178.39 552.67,178.54 552.81,178.53 552.94,178.80 553.07,179.13 553.20,179.27 553.34,178.96 553.47,179.65 553.60,180.27 553.73,179.31 553.86,180.07 554.00,180.03 554.13,180.01 554.26,180.43 554.39,179.93 554.52,180.31 554.66,180.67 554.79,180.36 554.92,180.37 555.05,180.54 555.19,180.46 555.32,180.96 555.45,180.45 555.58,180.89 555.71,180.45 555.85,180.92 555.98,180.78 556.11,180.26 556.24,180.87 556.38,180.66 556.51,180.83 556.64,181.30 556.77,180.72 556.90,180.76 557.04,181.35 557.17,181.07 557.30,181.41 557.43,181.15 557.57,180.90 557.70,181.10 557.83,181.41 557.96,181.36 558.09,181.16 558.23,181.19 558.36,181.17 558.49,181.07 558.62,181.66 558.76,181.23 558.89,180.99 559.02,181.15 559.15,181.43 559.28,181.42 559.42,181.25 559.55,181.14 559.68,181.31 559.81,180.94 559.95,181.03 560.08,181.51 560.21,181.23 560.34,181.43 560.47,181.63 560.61,181.51 560.74,181.38 560.87,181.86 561.00,181.54 561.14,181.31 561.27,181.56 561.40,181.50 561.53,181.22 561.66,181.43 561.80,181.38 561.93,180.98 562.06,181.39 562.19,181.37 562.33,181.34" fill="none" stroke="#808080" stroke-width="1.5" stroke-linejoin="round"/>
<polyline points="350.91,192.44 351.05,192.73 351.18,192.80 351.31,192.83 351.44,192.54 351.58,192.94 351.71,192.51 351.84,192.73 351.97,193.08 352.10,192.62 352.24,192.65 352.37,193.01 352.50,192.67 352.63,192.69 352.77,192.80 352.90,192.98 353.03,192.24 353.16,192.54 353.29,192.49 353.43,192.47 353.56,192.51 353.69,192.51 353.82,192.76 353.96,192.49 354.09,192.72 354.22,192.77 354.35,192.51 354.48,192.70 354.62,193.04 354.75,192.73 354.88,192.51 355.01,192.63 355.15,192.43 355.28,192.69 355.41,192.82 355.54,192.43 355.67,192.55 355.81,192.84 355.94,192.47 356.07,192.61 356.20,192.32 356.34,192.35 356.47,192.41 356.60,192.98 356.73,192.40 356.86,192.35 357.00,192.32 357.13,192.39 357.26,192.55 357.39,192.42 357.53,192.80 357.66,192.37 357.79,192.61 357.92,192.31 358.05,192.35 358.19,191.86 358.32,192.11 358.45,192.07 358.58,191.98 358.72,191.51 358.85,192.12 358.98,191.77 359.11,191.69 359.24,191.65 359.38,191.58 359.51,191.62 359.64,191.15 359.77,191.12 359.90,191.26 360.04,191.09 360.17,190.82 360.30,190.61 360.43,190.37 360.57,190.33 360.70,190.36 360.83,189.60 360.96,189.86 361.09,189.37 361.23,188.69 361.36,188.50 361.49,187.48 361.62,186.81 361.76,186.19 361.89,185.53 362.02,184.52 362.15,183.21 362.28,181.75 362.42,179.18 362.55,176.90 362.68,172.26 362.81,165.54 362.95,152.61 363.08,150.00 363.21,150.00 363.34,150.00 363.47,150.00 363.61,150.00 363.74,150.00 363.87,158.47 364.00,168.57 364.14,174.20 364.27,178.12 364.40,180.10 364.53,182.70 364.66,183.79 364.80,184.90 364.93,186.11 365.06,187.07 365.19,187.61 365.33,188.35 365.46,188.65 365.59,189.33 365.72,189.72 365.85,189.76 365.99,190.39 366.12,190.38 366.25,190.59 366.38,190.58 366.52,190.91 366.65,191.31 366.78,191.01 366.91,191.58 367.04,191.64 367.18,191.73 367.31,191.29 367.44,191.85 367.57,192.11 367.71,191.88 367.84,192.14 367.97,191.67 368.10,192.40 368.23,192.17 368.37,192.56 368.50,192.02 368.63,192.62 368.76,192.46 368.90,192.74 369.03,192.39 369.16,192.50 369.29,193.16 369.42,192.52 369.56,192.58 369.69,192.70 369.82,192.57 369.95,193.08 370.09,193.22 370.22,192.71 370.35,192.51 370.48,193.17 370.61,193.18 370.75,193.13 370.88,193.22 371.01,192.80 371.14,192.97 371.28,192.72 371.41,192.72 371.54,193.27 371.67,192.92 371.80,193.58 371.94,193.11 372.07,192.96 372.20,193.29 372.33,193.52 372.47,193.24 372.60,192.88 372.73,193.24 372.86,193.47 372.99,193.07 373.13,193.02 373.26,193.42 373.39,193.23 373.52,192.97 373.66,193.13 373.79,193.06 373.92,193.30 374.05,193.26 374.18,193.50 374.32,193.40 374.45,192.91 374.58,193.35 374.71,193.46 374.85,193.37 374.98,193.50 375.11,193.16 375.24,193.07 375.37,193.49 375.51,193.05 375.64,192.82 375.77,193.52 375.90,193.14 376.04,193.23 376.17,192.99 376.30,193.01 376.43,193.05 376.56,193.22 376.70,193.39 376.83,192.80 376.96,193.47 377.09,193.05 377.23,193.07 377.36,193.45 377.49,193.29 377.62,192.96 377.75,193.71 377.89,193.11 378.02,193.35 378.15,193.34 378.28,193.60 378.42,193.19 378.55,193.50 378.68,193.12 378.81,193.52 378.94,193.10 379.08,193.18 379.21,193.67 379.34,193.32 379.47,193.27 379.60,193.73 379.74,193.31 379.87,193.04 380.00,193.37 380.13,192.94 380.27,193.43 380.40,193.44 380.53,193.03 380.66,193.01 380.79,193.17 380.93,193.12 381.06,192.88 381.19,193.21 381.32,192.61 381.46,192.94 381.59,192.93 381.72,192.93 381.85,193.04 381.98,192.67 382.12,193.04 382.25,192.84 382.38,192.70 382.51,192.51 382.65,192.51 382.78,192.81 382.91,192.47 383.04,192.65 383.17,192.82 383.31,192.75 383.44,192.81 383.57,192.33 383.70,192.08 383.84,192.46 383.97,192.21 384.10,192.29 384.23,191.94 384.36,192.08 384.50,191.87 384.63,191.69 384.76,191.47 384.89,191.26 385.03,191.01 385.16,190.77 385.29,190.67 385.42,190.03 385.55,190.18 385.69,189.38 385.82,189.19 385.95,188.48 386.08,187.93 386.22,187.90 386.35,186.85 386.48,186.15 386.61,185.86 386.74,185.65 386.88,186.04 387.01,185.61 387.14,185.89 387.27,185.67 387.41,186.23 387.54,186.56 387.67,187.05 387.80,186.70 387.93,187.12 388.07,187.13 388.20,186.85 388.33,187.01 388.46,186.83 388.60,186.19 388.73,186.57 388.86,186.22 388.99,185.60 389.12,184.92 389.26,184.97 389.39,184.03 389.52,183.43 389.65,182.64 389.79,181.22 389.92,180.38 390.05,178.87 390.18,177.48 390.31,175.90 390.45,174.21 390.58,172.62 390.71,170.49 390.84,168.50 390.98,166.62 391.11,165.09 391.24,163.48 391.37,162.67 391.50,162.41 391.64,162.51 391.77,163.38 391.90,164.52 392.03,166.71 392.17,168.41 392.30,170.18 392.43,172.05 392.56,174.47 392.69,175.87 392.83,177.46 392.96,179.08 393.09,180.48 393.22,181.97 393.36,182.78 393.49,184.25 393.62,184.49 393.75,185.64 393.88,185.98 394.02,187.25 394.15,187.35 394.28,187.93 394.41,188.61 394.55,189.11 394.68,188.97 394.81,189.48 394.94,189.56 395.07,190.19 395.21,190.40 395.34,190.58 395.47,190.73 395.60,191.00 395.74,191.11 395.87,191.56 396.00,191.93 396.13,191.32 396.26,191.86 396.40,191.92 396.53,192.24 396.66,192.03 396.79,192.32 396.93,192.22 397.06,192.69 397.19,192.64 397.32,192.67 397.45,192.86 397.59,192.80 397.72,192.58 397.85,193.11 397.98,193.11 398.12,193.07 398.25,193.37 398.38,193.48 398.51,193.02 398.64,193.13 398.78,193.69 398.91,193.70 399.04,193.27 399.17,193.21 399.30,193.37 399.44,193.43 399.57,193.23 399.70,193.62 399.83,193.36 399.97,193.41 400.10,193.90 400.23,193.58 400.36,193.74 400.49,193.92 400.63,193.99 400.76,193.76 400.89,193.86 401.02,193.70 401.16,194.28 401.29,194.06 401.42,193.70 401.55,193.96 401.68,194.14 401.82,194.10 401.95,194.42 402.08,194.33 402.21,193.93 402.35,194.05 402.48,193.80 402.61,194.15 402.74,194.14 402.87,194.72 403.01,194.16 403.14,193.69 403.27,194.02 403.40,194.20 403.54,193.92 403.67,194.01 403.80,194.14 403.93,194.30 404.06,194.20 404.20,194.05 404.33,194.43 404.46,194.15 404.59,194.17 404.73,193.99 404.86,194.13 404.99,194.45 405.12,193.96 405.25,194.31 405.39,194.49 405.52,194.26 405.65,194.40 405.78,194.11 405.92,194.65 406.05,194.61 406.18,194.42 406.31,193.99 406.44,194.15 406.58,194.60 406.71,194.77 406.84,194.46 406.97,194.67 407.11,194.27 407.24,194.36 407.37,194.41 407.50,194.50 407.63,194.07 407.77,194.62 407.90,194.70 408.03,194.16 408.16,194.11 408.30,194.48 408.43,194.26 408.56,193.87 408.69,194.57 408.82,194.42 408.96,194.27 409.09,194.83 409.22,194.38 409.35,194.18 409.49,194.35 409.62,194.08 409.75,194.12 409.88,194.35 410.01,194.12 410.15,194.12 410.28,194.55 410.41,194.34 410.54,194.29 410.68,194.19 410.81,194.13 410.94,194.29 411.07,193.91 411.20,194.26 411.34,193.58 411.47,193.67 411.60,193.35 411.73,193.51 411.87,193.64 412.00,193.78 412.13,193.26 412.26,193.37 412.39,193.26 412.53,193.17 412.66,193.08 412.79,193.38 412.92,193.03 413.06,193.49 413.19,193.54 413.32,193.46 413.45,193.46 413.58,193.46 413.72,194.26 413.85,193.63 413.98,194.34 414.11,194.20 414.25,194.06 414.38,193.95 414.51,194.49 414.64,194.70 414.77,194.16 414.91,194.35 415.04,194.69 415.17,194.57 415.30,194.97 415.44,194.44 415.57,194.71 415.70,194.35 415.83,195.11 415.96,194.52 416.10,194.21 416.23,194.69 416.36,194.71 416.49,195.18 416.63,194.71 416.76,194.80 416.89,194.95 417.02,195.18 417.15,194.83 417.29,195.09 417.42,194.99 417.55,194.82 417.68,194.92 417.82,194.92 417.95,194.72 418.08,195.20 418.21,194.64 418.34,195.21 418.48,195.18 418.61,194.95 418.74,194.82 418.87,194.94 419.00,195.11 419.14,195.18 419.27,195.08 419.40,195.25 419.53,194.91 419.67,195.10 419.80,194.71 419.93,195.23 420.06,195.10 420.19,194.98 420.33,195.34 420.46,195.24 420.59,194.48 420.72,195.11 420.86,194.79 420.99,195.35 421.12,195.67 421.25,195.01 421.38,195.15 421.52,195.09 421.65,195.23 421.78,195.30 421.91,195.44 422.05,194.95 422.18,195.52 422.31,194.97 422.44,195.24 422.57,195.44 422.71,195.35 422.84,194.99 422.97,195.05 423.10,195.11 423.24,195.21 423.37,195.47 423.50,194.94 423.63,195.34 423.76,195.37 423.90,195.37 424.03,195.35 424.16,195.59 424.29,195.37 424.43,195.45 424.56,195.39 424.69,195.67 424.82,194.86 424.95,195.57 425.09,195.23 425.22,195.23 425.35,195.08 425.48,194.89 425.62,195.22 425.75,195.16 425.88,195.43 426.01,195.00 426.14,195.64 426.28,195.39 426.41,195.28 426.54,195.18 426.67,195.17 426.81,195.10 426.94,195.23 427.07,195.36 427.20,195.32 427.33,195.05 427.47,195.31 427.60,195.18 427.73,195.41 427.86,195.79 428.00,195.52 428.13,195.32 428.26,195.04 428.39,195.09 428.52,195.03 428.66,195.56 428.79,195.24 428.92,195.43 429.05,195.28 429.19,195.44 429.32,195.73 429.45,195.28 429.58,195.35 429.71,195.26 429.85,195.63 429.98,195.21 430.11,195.19 430.24,195.14 430.38,195.14 430.51,195.55 430.64,196.02 430.77,195.24 430.90,195.67 431.04,195.52 431.17,195.22 431.30,195.40 431.43,195.42 431.57,195.32 431.70,195.90 431.83,195.05 431.96,195.56 432.09,195.55 432.23,195.35 432.36,195.51 432.49,195.67 432.62,195.51 432.76,195.57 432.89,195.63 433.02,195.03 433.15,195.81 433.28,195.98 433.42,195.69 433.55,195.70 433.68,195.17 433.81,195.45 433.95,195.29 434.08,195.34 434.21,195.68 434.34,195.29 434.47,195.43 434.61,195.04 434.74,195.42 434.87,195.46 435.00,195.28 435.14,195.27 435.27,195.84 435.40,195.15 435.53,195.17 435.66,195.22 435.80,195.65 435.93,195.83 436.06,195.43 436.19,195.18 436.33,195.23 436.46,195.54 436.59,195.08 436.72,195.58 436.85,195.55 436.99,195.22 437.12,195.32 437.25,195.31 437.38,195.45 437.51,194.84 437.65,195.29 437.78,194.90 437.91,194.77 438.04,194.90 438.18,194.78 438.31,194.55 438.44,194.35 438.57,194.42 438.70,194.88 438.84,194.92 438.97,194.56 439.10,194.60 439.23,194.16 439.37,194.19 439.50,194.22 439.63,193.87 439.76,193.86 439.89,194.08 440.03,193.98 440.16,193.83 440.29,194.18 440.42,194.08 440.56,194.41 440.69,194.25 440.82,194.26 440.95,194.43 441.08,194.44 441.22,194.41 441.35,194.55 441.48,194.89 441.61,194.94 441.75,195.15 441.88,194.57 442.01,194.92 442.14,194.98 442.27,195.17 442.41,195.08 442.54,195.12 442.67,195.45 442.80,195.37 442.94,195.11 443.07,195.70 443.20,195.66 443.33,195.35 443.46,195.69 443.60,195.38 443.73,195.81 443.86,195.54 443.99,195.44 444.13,195.56 444.26,195.49 444.39,195.72 444.52,195.74 444.65,195.73 444.79,195.61 444.92,194.95 445.05,195.79 445.18,195.37 445.32,195.85 445.45,196.06 445.58,195.88 445.71,195.75 445.84,195.81 445.98,195.83 446.11,195.75 446.24,195.75 446.37,195.69 446.51,196.16 446.64,195.91 446.77,196.13 446.90,195.88 447.03,195.96 447.17,195.91 447.30,196.06 447.43,196.15 447.56,196.03 447.70,195.83 447.83,195.82 447.96,196.36 448.09,195.94 448.22,195.94 448.36,196.33 448.49,196.25 448.62,196.13 448.75,195.93 448.89,196.53 449.02,196.10 449.15,196.14 449.28,195.98 449.41,195.71 449.55,195.73 449.68,196.11 449.81,196.11 449.94,195.97 450.08,195.77 450.21,195.71 450.34,195.96 450.47,195.71 450.60,196.23 450.74,196.29 450.87,196.66 451.00,196.23 451.13,195.90 451.27,195.84 451.40,195.28 451.53,195.91 451.66,196.00 451.79,196.25 451.93,196.17 452.06,196.17 452.19,196.08 452.32,196.18 452.46,196.36 452.59,195.80 452.72,195.94 452.85,195.73 452.98,196.39 453.12,196.32 453.25,196.20 453.38,195.77 453.51,196.07 453.65,195.98 453.78,196.05 453.91,195.99 454.04,196.15 454.17,195.95 454.31,196.22 454.44,196.09 454.57,195.97 454.70,196.01 454.84,195.93 454.97,196.21 455.10,195.97 455.23,196.09 455.36,195.94 455.50,195.70 455.63,196.23 455.76,195.79 455.89,196.17 456.03,196.12 456.16,195.66 456.29,195.81 456.42,195.91 456.55,195.84 456.69,195.76 456.82,196.18 456.95,195.96 457.08,196.10 457.21,195.92 457.35,196.08 457.48,195.85 457.61,196.00 457.74,196.14 457.88,196.02 458.01,195.90 458.14,195.76 458.27,196.04 458.40,196.08 458.54,195.94 458.67,195.83 458.80,196.11 458.93,196.54 459.07,195.92 459.20,196.06 459.33,196.07 459.46,195.42 459.59,196.01 459.73,195.82 459.86,196.28 459.99,195.92 460.12,195.80 460.26,195.92 460.39,196.00 460.52,195.84 460.65,195.95 460.78,195.66 460.92,195.91 461.05,196.12 461.18,196.38 461.31,196.10 461.45,196.00 461.58,196.20 461.71,196.16 461.84,196.30 461.97,196.17 462.11,195.90 462.24,195.98 462.37,195.96 462.50,195.98 462.64,195.96 462.77,195.74 462.90,195.44 463.03,195.75 463.16,195.45 463.30,195.90 463.43,195.89 463.56,195.51 463.69,196.03 463.83,196.06 463.96,195.89 464.09,196.23 464.22,196.27 464.35,195.58 464.49,196.07 464.62,195.93 464.75,195.92 464.88,196.03 465.02,195.66 465.15,195.68 465.28,195.62 465.41,195.63 465.54,195.77 465.68,195.46 465.81,195.54 465.94,195.89 466.07,195.74 466.21,195.83 466.34,195.32 466.47,195.56 466.60,195.60 466.73,195.72 466.87,195.57 467.00,195.89 467.13,195.66 467.26,195.67 467.40,195.66 467.53,195.80 467.66,195.52 467.79,195.86 467.92,195.70 468.06,195.62 468.19,195.58 468.32,195.67 468.45,195.76 468.59,195.73 468.72,195.59 468.85,195.68 468.98,195.49 469.11,195.72 469.25,195.42 469.38,194.95 469.51,195.68 469.64,195.38 469.78,195.08 469.91,195.27 470.04,195.09 470.17,195.72 470.30,195.33 470.44,194.85 470.57,195.28 470.70,195.04 470.83,195.51 470.97,194.82 471.10,194.52 471.23,194.99 471.36,194.85 471.49,194.79 471.63,194.36 471.76,194.87 471.89,195.09 472.02,194.25 472.16,194.86 472.29,194.41 472.42,194.99 472.55,194.49 472.68,194.27 472.82,194.47 472.95,194.25 473.08,193.91 473.21,194.09 473.35,193.71 473.48,193.31 473.61,194.02 473.74,193.35 473.87,193.14 474.01,193.19 474.14,192.59 474.27,192.44 474.40,192.41 474.54,192.17 474.67,192.05 474.80,192.00 474.93,191.34 475.06,191.21 475.20,190.86 475.33,190.07 475.46,189.89 475.59,189.11 475.73,188.97 475.86,188.18 475.99,187.35 476.12,186.22 476.25,185.59 476.39,184.33 476.52,183.44 476.65,181.87 476.78,180.14 476.91,178.73 477.05,176.65 477.18,174.08 477.31,171.92 477.44,168.81 477.58,165.84 477.71,162.86 477.84,159.67 477.97,157.03 478.10,154.91 478.24,153.90 478.37,153.48 478.50,153.71 478.63,155.68 478.77,157.62 478.90,160.51 479.03,163.65 479.16,166.57 479.29,169.98 479.43,172.24 479.56,174.42 479.69,177.20 479.82,178.80 479.96,180.57 480.09,181.52 480.22,183.75 480.35,184.89 480.48,185.93 480.62,186.89 480.75,187.86 480.88,188.20 481.01,189.05 481.15,189.25 481.28,189.84 481.41,190.61 481.54,190.87 481.67,190.86 481.81,191.57 481.94,191.75 482.07,191.88 482.20,192.41 482.34,192.45 482.47,192.40 482.60,192.70 482.73,193.51 482.86,192.95 483.00,193.48 483.13,193.70 483.26,193.83 483.39,193.54 483.53,193.85 483.66,194.05 483.79,194.30 483.92,194.07 484.05,194.04 484.19,194.59 484.32,194.68 484.45,194.59 484.58,194.44 484.72,194.72 484.85,194.71 484.98,194.93 485.11,194.52 485.24,194.87 485.38,194.85 485.51,194.68 485.64,195.02 485.77,195.01 485.91,194.95 486.04,195.16 486.17,194.79 486.30,195.13 486.43,195.26 486.57,195.26 486.70,195.46 486.83,194.98 486.96,194.94 487.10,195.34 487.23,195.41 487.36,195.80 487.49,195.49 487.62,195.18 487.76,195.56 487.89,195.22 488.02,195.09 488.15,196.01 488.29,195.52 488.42,195.62 488.55,195.59 488.68,195.88 488.81,195.56 488.95,195.77 489.08,195.29 489.21,195.22 489.34,195.85 489.48,195.86 489.61,195.66 489.74,195.60 489.87,195.60 490.00,195.41 490.14,195.91 490.27,195.72 490.40,195.69 490.53,195.67 490.67,195.82 490.80,195.70 490.93,195.75 491.06,195.33 491.19,195.70 491.33,196.07 491.46,195.48 491.59,195.56 491.72,195.78 491.86,195.79 491.99,195.72 492.12,195.22 492.25,195.68 492.38,195.30 492.52,195.37 492.65,195.67 492.78,195.47 492.91,195.70 493.05,196.21 493.18,195.67 493.31,195.64 493.44,195.27 493.57,195.31 493.71,195.20 493.84,195.29 493.97,195.14 494.10,195.21 494.24,195.28 494.37,195.07 494.50,194.95 494.63,194.92 494.76,195.28 494.90,195.15 495.03,195.31 495.16,195.26 495.29,194.90 495.42,195.06 495.56,194.53 495.69,195.28 495.82,194.97 495.95,194.59 496.09,194.31 496.22,194.57 496.35,194.00 496.48,194.17 496.61,194.45 496.75,194.24 496.88,194.07 497.01,194.36 497.14,193.91 497.28,194.20 497.41,194.04 497.54,193.99 497.67,194.32 497.80,194.05 497.94,194.75 498.07,194.28 498.20,194.92 498.33,194.32 498.47,194.77 498.60,194.45 498.73,194.49 498.86,194.89 498.99,195.07 499.13,194.71 499.26,195.31 499.39,194.93 499.52,195.19 499.66,195.29 499.79,195.38 499.92,194.90 500.05,195.69 500.18,195.49 500.32,195.31 500.45,195.21 500.58,195.09 500.71,195.19 500.85,195.63 500.98,195.46 501.11,195.30 501.24,195.45 501.37,195.93 501.51,195.53 501.64,195.48 501.77,195.92 501.90,195.74 502.04,195.66 502.17,195.52 502.30,195.32 502.43,195.42 502.56,195.57 502.70,195.64 502.83,195.77 502.96,195.82 503.09,195.75 503.23,195.75 503.36,195.48 503.49,195.23 503.62,195.59 503.75,195.50 503.89,195.56 504.02,195.64 504.15,195.43 504.28,195.45 504.42,195.67 504.55,195.72 504.68,195.54 504.81,195.79 504.94,195.63 505.08,195.44 505.21,195.67 505.34,196.06 505.47,195.49 505.61,195.88 505.74,195.92 505.87,195.93 506.00,195.40 506.13,196.01 506.27,195.57 506.40,195.47 506.53,195.45 506.66,195.61 506.80,195.46 506.93,195.38 507.06,195.67 507.19,195.20 507.32,195.09 507.46,195.45 507.59,195.39 507.72,195.42 507.85,194.90 507.99,195.32 508.12,195.13 508.25,195.35 508.38,194.62 508.51,194.88 508.65,194.70 508.78,194.34 508.91,194.47 509.04,194.81 509.18,194.40 509.31,194.29 509.44,194.60 509.57,194.59 509.70,194.58 509.84,194.18 509.97,194.35 510.10,194.61 510.23,194.27 510.37,194.30 510.50,194.70 510.63,194.92 510.76,194.39 510.89,194.14 511.03,194.46 511.16,194.62 511.29,194.88 511.42,195.11 511.56,195.00 511.69,194.94 511.82,195.18 511.95,194.98 512.08,195.23 512.22,195.14 512.35,195.91 512.48,195.54 512.61,195.21 512.75,195.21 512.88,195.36 513.01,195.12 513.14,195.34 513.27,195.36 513.41,195.74 513.54,195.47 513.67,195.41 513.80,195.30 513.94,195.35 514.07,195.61 514.20,195.59 514.33,195.90 514.46,195.52 514.60,195.90 514.73,195.73 514.86,195.68 514.99,195.25 515.12,195.41 515.26,195.87 515.39,196.02 515.52,195.76 515.65,195.88 515.79,195.63 515.92,195.64 516.05,195.58 516.18,195.94 516.31,195.80 516.45,195.68 516.58,195.66 516.71,195.86 516.84,195.80 516.98,195.55 517.11,196.11 517.24,195.79 517.37,195.73 517.50,196.05 517.64,195.95 517.77,195.71 517.90,195.84 518.03,195.49 518.17,195.58 518.30,195.22 518.43,195.98 518.56,195.29 518.69,195.86 518.83,195.52 518.96,195.48 519.09,195.65 519.22,195.75 519.36,195.82 519.49,196.07 519.62,195.75 519.75,195.86 519.88,195.53 520.02,195.81 520.15,195.68 520.28,195.54 520.41,195.61 520.55,195.61 520.68,195.66 520.81,195.70 520.94,195.49 521.07,195.43 521.21,195.75 521.34,195.20 521.47,195.43 521.60,195.89 521.74,194.94 521.87,195.38 522.00,195.67 522.13,195.14 522.26,196.06 522.40,194.91 522.53,195.78 522.66,195.79 522.79,195.63 522.93,195.36 523.06,195.47 523.19,195.18 523.32,195.54 523.45,195.09 523.59,195.26 523.72,195.52 523.85,195.03 523.98,195.17 524.12,195.26 524.25,194.90 524.38,195.43 524.51,195.22 524.64,194.78 524.78,195.07 524.91,194.87 525.04,194.86 525.17,194.98 525.31,194.77 525.44,195.09 525.57,194.68 525.70,194.99 525.83,194.71 525.97,194.85 526.10,194.48 526.23,194.42 526.36,194.20 526.50,194.50 526.63,194.49 526.76,194.66 526.89,194.37 527.02,194.02 527.16,193.79 527.29,193.78 527.42,193.54 527.55,193.70 527.69,193.40 527.82,192.81 527.95,192.64 528.08,192.88 528.21,192.44 528.35,192.13 528.48,192.27 528.61,191.78 528.74,191.70 528.88,191.59 529.01,191.22 529.14,191.83 529.27,191.37 529.40,191.50 529.54,191.45 529.67,191.74 529.80,191.52 529.93,191.46 530.07,190.99 530.20,191.21 530.33,190.75 530.46,190.96 530.59,190.75 530.73,190.42 530.86,190.60 530.99,189.95 531.12,189.61 531.26,189.11 531.39,188.59 531.52,188.35 531.65,187.84 531.78,186.70 531.92,186.55 532.05,185.68 532.18,184.95 532.31,183.93 532.45,182.55 532.58,181.46 532.71,180.91 532.84,179.26 532.97,177.47 533.11,176.36 533.24,174.62 533.37,172.68 533.50,170.96 533.64,169.54 533.77,168.52 533.90,167.21 534.03,166.21 534.16,165.72 534.30,165.59 534.43,165.20 534.56,166.19 534.69,167.03 534.82,168.17 534.96,169.76 535.09,171.43 535.22,173.02 535.35,174.39 535.49,176.19 535.62,178.25 535.75,179.00 535.88,180.18 536.01,181.83 536.15,183.02 536.28,184.01 536.41,184.59 536.54,185.89 536.68,186.26 536.81,186.88 536.94,187.62 537.07,188.30 537.20,189.00 537.34,189.45 537.47,189.74 537.60,190.34 537.73,190.51 537.87,191.01 538.00,190.80 538.13,191.04 538.26,191.81 538.39,191.56 538.53,192.02 538.66,192.26 538.79,192.35 538.92,192.53 539.06,193.09 539.19,192.37 539.32,193.26 539.45,193.69 539.58,193.30 539.72,193.40 539.85,193.67 539.98,194.00 540.11,193.42 540.25,193.78 540.38,193.80 540.51,194.03 540.64,194.01 540.77,194.18 540.91,194.00 541.04,194.15 541.17,194.04 541.30,194.09 541.44,194.24 541.57,194.28 541.70,194.09 541.83,194.72 541.96,194.38 542.10,194.13 542.23,194.70 542.36,194.31 542.49,194.61 542.63,194.51 542.76,194.58 542.89,194.57 543.02,194.42 543.15,194.56 543.29,195.00 543.42,194.06 543.55,194.57 543.68,194.65 543.82,194.31 543.95,194.23 544.08,195.00 544.21,194.43 544.34,194.95 544.48,194.59 544.61,194.47 544.74,194.53 544.87,194.53 545.01,194.62 545.14,194.41 545.27,194.31 545.40,194.27 545.53,194.47 545.67,194.30 545.80,193.84 545.93,193.85 546.06,193.98 546.20,193.69 546.33,193.65 546.46,193.42 546.59,193.47 546.72,193.49 546.86,193.49 546.99,193.12 547.12,193.41 547.25,192.76 547.39,193.29 547.52,192.59 547.65,192.24 547.78,191.75 547.91,190.95 548.05,191.21 548.18,190.93 548.31,190.92 548.44,189.76 548.58,190.00 548.71,189.00 548.84,188.64 548.97,187.29 549.10,187.21 549.24,186.38 549.37,185.86 549.50,184.96 549.63,183.91 549.77,183.62 549.90,182.88 550.03,182.27 550.16,181.91 550.29,181.65 550.43,181.30 550.56,181.11 550.69,181.40 550.82,182.46 550.96,182.91 551.09,183.47 551.22,184.11 551.35,184.99 551.48,185.77 551.62,186.46 551.75,187.11 551.88,188.42 552.01,188.63 552.15,189.04 552.28,189.42 552.41,190.04 552.54,190.81 552.67,191.22 552.81,191.38 552.94,191.77 553.07,192.00 553.20,192.10 553.34,192.88 553.47,192.91 553.60,193.58 553.73,193.06 553.86,193.37 554.00,193.76 554.13,193.66 554.26,193.54 554.39,193.76 554.52,194.11 554.66,194.27 554.79,194.27 554.92,194.60 555.05,194.69 555.19,194.62 555.32,194.63 555.45,194.64 555.58,194.88 555.71,195.02 555.85,194.89 555.98,195.02 556.11,194.90 556.24,194.71 556.38,194.85 556.51,195.28 556.64,195.25 556.77,195.53 556.90,195.23 557.04,195.44 557.17,195.58 557.30,195.53 557.43,195.21 557.57,195.33 557.70,195.42 557.83,195.20 557.96,195.55 558.09,195.69 558.23,195.38 558.36,195.94 558.49,195.46 558.62,195.50 558.76,195.51 558.89,195.43 559.02,195.69 559.15,195.62 559.28,195.99 559.42,195.78 559.55,195.78 559.68,195.62 559.81,195.37 559.95,195.68 560.08,195.52 560.21,195.93 560.34,195.72 560.47,196.11 560.61,195.91 560.74,195.95 560.87,195.82 561.00,195.83 561.14,195.93 561.27,196.00 561.40,195.65 561.53,195.92 561.66,196.40 561.80,195.81 561.93,195.78 562.06,195.69 562.19,195.53 562.33,196.12" fill="none" stroke="#FF78FF" stroke-width="1.5" stroke-linejoin="round"/>
<polyline points="350.91,207.83 351.05,207.88 351.18,208.21 351.31,208.35 351.44,207.60 351.58,208.03 351.71,207.93 351.84,207.87 351.97,207.89 352.10,207.77 352.24,208.12 352.37,207.90 352.50,207.83 352.63,208.03 352.77,207.94 352.90,207.84 353.03,207.81 353.16,208.11 353.29,207.83 353.43,207.69 353.56,207.52 353.69,207.62 353.82,207.47 353.96,207.72 354.09,207.74 354.22,207.23 354.35,207.68 354.48,207.82 354.62,207.70 354.75,207.45 354.88,207.93 355.01,207.49 355.15,207.37 355.28,207.39 355.41,207.62 355.54,207.83 355.67,207.86 355.81,207.64 355.94,207.32 356.07,207.42 356.20,207.36 356.34,207.50 356.47,207.13 356.60,207.53 356.73,207.63 356.86,207.44 357.00,207.55 357.13,207.22 357.26,207.08 357.39,207.24 357.53,207.60 357.66,207.55 357.79,207.19 357.92,207.52 358.05,207.15 358.19,207.51 358.32,207.24 358.45,206.99 358.58,207.21 358.72,206.81 358.85,206.72 358.98,206.54 359.11,206.85 359.24,206.70 359.38,206.61 359.51,206.44 359.64,206.75 359.77,206.23 359.90,206.04 360.04,206.33 360.17,206.22 360.30,205.81 360.43,205.17 360.57,205.21 360.70,205.24 360.83,204.84 360.96,204.87 361.09,203.88 361.23,203.94 361.36,203.20 361.49,203.10 361.62,202.18 361.76,201.70 361.89,200.48 362.02,199.28 362.15,198.08 362.28,196.60 362.42,194.42 362.55,192.06 362.68,187.87 362.81,180.74 362.95,167.48 363.08,150.00 363.21,150.00 363.34,150.00 363.47,150.00 363.61,150.00 363.74,152.27 363.87,173.25 364.00,183.57 364.14,189.16 364.27,193.11 364.40,195.57 364.53,197.26 364.66,198.81 364.80,200.42 364.93,200.83 365.06,201.65 365.19,202.48 365.33,202.97 365.46,203.53 365.59,204.18 365.72,204.83 365.85,204.39 365.99,205.07 366.12,205.35 366.25,205.56 366.38,205.74 366.52,205.90 366.65,206.36 366.78,206.19 366.91,206.41 367.04,206.56 367.18,206.70 367.31,206.74 367.44,207.10 367.57,206.96 367.71,207.09 367.84,207.11 367.97,206.97 368.10,207.08 368.23,207.09 368.37,207.42 368.50,207.27 368.63,207.24 368.76,207.57 368.90,207.68 369.03,207.21 369.16,208.01 369.29,207.68 369.42,207.68 369.56,207.97 369.69,207.78 369.82,207.66 369.95,208.31 370.09,207.61 370.22,207.85 370.35,208.08 370.48,207.68 370.61,207.91 370.75,208.04 370.88,208.50 371.01,207.80 371.14,208.00 371.28,208.17 371.41,208.06 371.54,207.79 371.67,208.16 371.80,208.11 371.94,208.19 372.07,208.36 372.20,208.34 372.33,208.22 372.47,208.21 372.60,207.91 372.73,208.13 372.86,208.22 372.99,208.09 373.13,208.21 373.26,208.02 373.39,208.55 373.52,208.69 373.66,208.14 373.79,208.32 373.92,208.19 374.05,208.52 374.18,208.35 374.32,208.27 374.45,208.21 374.58,208.29 374.71,208.05 374.85,208.43 374.98,208.12 375.11,208.40 375.24,208.32 375.37,208.53 375.51,208.29 375.64,208.53 375.77,208.10 375.90,208.44 376.04,208.26 376.17,208.35 376.30,208.33 376.43,208.52 376.56,207.87 376.70,208.39 376.83,207.99 376.96,208.58 377.09,207.88 377.23,208.10 377.36,207.95 377.49,208.68 377.62,208.03 377.75,208.34 377.89,208.19 378.02,207.91 378.15,208.23 378.28,208.45 378.42,208.26 378.55,208.51 378.68,208.21 378.81,208.29 378.94,208.20 379.08,208.35 379.21,208.69 379.34,208.35 379.47,208.30 379.60,208.12 379.74,208.08 379.87,208.56 380.00,207.98 380.13,208.02 380.27,208.18 380.40,208.10 380.53,208.61 380.66,207.65 380.79,208.23 380.93,208.30 381.06,207.88 381.19,207.96 381.32,208.18 381.46,208.42 381.59,207.84 381.72,207.67 381.85,208.21 381.98,208.31 382.12,207.87 382.25,207.42 382.38,208.20 382.51,207.80 382.65,208.05 382.78,207.75 382.91,207.64 383.04,207.57 383.17,207.94 383.31,207.88 383.44,207.03 383.57,207.23 383.70,207.75 383.84,207.20 383.97,206.89 384.10,207.10 384.23,206.96 384.36,206.85 384.50,206.63 384.63,206.52 384.76,206.32 384.89,206.31 385.03,205.84 385.16,205.72 385.29,205.48 385.42,205.50 385.55,204.95 385.69,204.46 385.82,204.17 385.95,203.67 386.08,203.31 386.22,202.66 386.35,202.41 386.48,201.83 386.61,201.12 386.74,200.74 386.88,200.88 387.01,200.80 387.14,200.80 387.27,200.71 387.41,200.90 387.54,201.65 387.67,201.99 387.80,202.21 387.93,201.90 388.07,202.49 388.20,202.17 388.33,202.33 388.46,202.23 388.60,201.79 388.73,201.60 388.86,200.96 388.99,200.84 389.12,200.18 389.26,200.14 389.39,199.43 389.52,198.89 389.65,197.93 389.79,196.76 389.92,195.90 390.05,194.53 390.18,193.40 390.31,191.83 390.45,189.92 390.58,188.39 390.71,186.58 390.84,184.66 390.98,183.17 391.11,181.77 391.24,180.03 391.37,179.18 391.50,178.42 391.64,179.10 391.77,179.76 391.90,180.58 392.03,182.65 392.17,184.48 392.30,186.06 392.43,188.03 392.56,189.73 392.69,191.83 392.83,192.94 392.96,194.67 393.09,196.49 393.22,197.27 393.36,198.43 393.49,199.25 393.62,199.88 393.75,200.89 393.88,201.67 394.02,201.97 394.15,202.82 394.28,203.51 394.41,203.92 394.55,203.74 394.68,204.23 394.81,204.42 394.94,205.31 395.07,205.49 395.21,205.76 395.34,205.64 395.47,205.78 395.60,206.25 395.74,206.43 395.87,206.39 396.00,206.76 396.13,207.01 396.26,207.05 396.40,206.89 396.53,206.77 396.66,207.29 396.79,207.48 396.93,207.48 397.06,207.53 397.19,207.55 397.32,207.94 397.45,207.84 397.59,207.95 397.72,207.77 397.85,207.91 397.98,208.14 398.12,207.94 398.25,207.94 398.38,208.19 398.51,208.58 398.64,208.40 398.78,208.72 398.91,208.41 399.04,208.41 399.17,208.21 399.30,208.43 399.44,208.90 399.57,208.69 399.70,208.81 399.83,208.84 399.97,208.71 400.10,208.69 400.23,208.79 400.36,208.94 400.49,208.92 400.63,208.95 400.76,208.90 400.89,208.72 401.02,208.85 401.16,208.72 401.29,209.17 401.42,208.51 401.55,208.94 401.68,209.53 401.82,208.95 401.95,208.79 402.08,209.05 402.21,209.36 402.35,209.05 402.48,209.24 402.61,209.14 402.74,209.05 402.87,209.84 403.01,209.18 403.14,209.05 403.27,209.08 403.40,209.28 403.54,209.30 403.67,209.39 403.80,209.26 403.93,208.93 404.06,209.37 404.20,209.20 404.33,209.21 404.46,208.96 404.59,209.17 404.73,209.14 404.86,209.30 404.99,209.00 405.12,209.34 405.25,209.36 405.39,209.10 405.52,209.21 405.65,209.17 405.78,209.57 405.92,208.82 406.05,209.30 406.18,209.02 406.31,209.29 406.44,209.58 406.58,209.26 406.71,209.43 406.84,209.22 406.97,209.84 407.11,209.61 407.24,209.66 407.37,209.13 407.50,209.18 407.63,209.66 407.77,209.38 407.90,209.36 408.03,209.49 408.16,209.14 408.30,209.58 408.43,209.41 408.56,209.51 408.69,209.25 408.82,209.50 408.96,209.23 409.09,209.58 409.22,209.61 409.35,209.55 409.49,209.45 409.62,209.46 409.75,208.70 409.88,209.46 410.01,209.19 410.15,209.24 410.28,209.13 410.41,208.85 410.54,209.00 410.68,209.22 410.81,209.34 410.94,208.84 411.07,208.72 411.20,209.18 411.34,208.60 411.47,209.19 411.60,208.67 411.73,208.40 411.87,208.74 412.00,208.84 412.13,208.10 412.26,208.72 412.39,208.29 412.53,208.67 412.66,208.26 412.79,208.03 412.92,208.53 413.06,208.67 413.19,209.00 413.32,208.99 413.45,208.84 413.58,208.72 413.72,208.74 413.85,208.86 413.98,208.82 414.11,209.02 414.25,208.58 414.38,209.25 414.51,209.26 414.64,209.88 414.77,209.54 414.91,209.31 415.04,209.58 415.17,209.23 415.30,209.40 415.44,209.16 415.57,209.91 415.70,209.76 415.83,209.40 415.96,209.67 416.10,209.91 416.23,209.83 416.36,209.83 416.49,209.58 416.63,209.64 416.76,209.82 416.89,210.02 417.02,209.65 417.15,209.60 417.29,210.12 417.42,209.67 417.55,210.13 417.68,209.96 417.82,210.11 417.95,210.31 418.08,210.09 418.21,210.12 418.34,209.76 418.48,209.82 418.61,210.12 418.74,210.32 418.87,210.30 419.00,210.52 419.14,210.08 419.27,210.07 419.40,210.25 419.53,210.04 419.67,210.03 419.80,209.82 419.93,210.28 420.06,209.83 420.19,210.19 420.33,209.77 420.46,210.33 420.59,209.87 420.72,210.29 420.86,209.76 420.99,210.02 421.12,210.38 421.25,209.95 421.38,210.15 421.52,210.04 421.65,209.64 421.78,210.22 421.91,210.26 422.05,209.92 422.18,210.30 422.31,210.00 422.44,209.96 422.57,210.19 422.71,210.05 422.84,210.71 422.97,209.87 423.10,210.38 423.24,210.44 423.37,209.79 423.50,209.85 423.63,210.36 423.76,210.13 423.90,210.33 424.03,210.50 424.16,210.17 424.29,210.03 424.43,209.67 424.56,210.32 424.69,210.07 424.82,210.35 424.95,210.34 425.09,209.99 425.22,210.67 425.35,210.54 425.48,210.49 425.62,210.05 425.75,210.22 425.88,210.20 426.01,210.23 426.14,210.08 426.28,210.43 426.41,210.39 426.54,210.42 426.67,210.23 426.81,210.63 426.94,210.39 427.07,209.76 427.20,210.22 427.33,210.35 427.47,210.58 427.60,210.31 427.73,210.32 427.86,210.24 428.00,210.53 428.13,210.29 428.26,210.26 428.39,210.23 428.52,210.52 428.66,210.29 428.79,210.04 428.92,210.55 429.05,210.26 429.19,210.50 429.32,210.51 429.45,210.69 429.58,210.66 429.71,210.31 429.85,210.40 429.98,210.16 430.11,210.81 430.24,210.54 430.38,210.76 430.51,210.38 430.64,210.00 430.77,210.79 430.90,210.48 431.04,210.49 431.17,210.48 431.30,210.61 431.43,210.59 431.57,210.12 431.70,210.71 431.83,210.36 431.96,210.37 432.09,210.86 432.23,210.68 432.36,210.40 432.49,210.07 432.62,210.52 432.76,210.60 432.89,210.46 433.02,210.21 433.15,210.31 433.28,210.20 433.42,210.53 433.55,210.66 433.68,210.70 433.81,210.31 433.95,210.52 434.08,210.59 434.21,210.36 434.34,210.43 434.47,210.93 434.61,210.50 434.74,210.65 434.87,210.35 435.00,210.45 435.14,210.06 435.27,210.42 435.40,210.68 435.53,210.87 435.66,210.66 435.80,210.54 435.93,210.38 436.06,210.22 436.19,210.31 436.33,210.46 436.46,210.13 436.59,210.49 436.72,210.05 436.85,209.85 436.99,209.99 437.12,209.81 437.25,209.85 437.38,210.36 437.51,210.03 437.65,210.08 437.78,210.24 437.91,210.21 438.04,209.77 438.18,210.12 438.31,209.85 438.44,209.70 438.57,209.73 438.70,209.25 438.84,209.31 438.97,209.39 439.10,209.48 439.23,209.19 439.37,209.18 439.50,209.37 439.63,209.42 439.76,209.25 439.89,209.34 440.03,208.97 440.16,209.00 440.29,209.16 440.42,209.07 440.56,209.08 440.69,209.61 440.82,209.28 440.95,209.19 441.08,209.59 441.22,209.96 441.35,209.66 441.48,209.99 441.61,209.70 441.75,209.76 441.88,209.79 442.01,209.98 442.14,210.47 442.27,209.87 442.41,210.54 442.54,210.01 442.67,210.23 442.80,210.51 442.94,210.51 443.07,210.47 443.20,210.08 443.33,210.56 443.46,210.28 443.60,211.10 443.73,210.52 443.86,210.63 443.99,210.36 444.13,210.53 444.26,210.38 444.39,210.90 444.52,210.64 444.65,210.84 444.79,210.58 444.92,210.64 445.05,211.05 445.18,210.57 445.32,210.40 445.45,210.90 445.58,210.57 445.71,210.74 445.84,211.05 445.98,210.68 446.11,211.06 446.24,210.73 446.37,211.22 446.51,211.19 446.64,210.81 446.77,210.87 446.90,210.75 447.03,210.98 447.17,211.20 447.30,210.64 447.43,211.17 447.56,210.68 447.70,210.79 447.83,210.59 447.96,211.46 448.09,211.01 448.22,211.06 448.36,210.86 448.49,211.24 448.62,210.55 448.75,211.02 448.89,211.50 449.02,210.94 449.15,211.03 449.28,211.17 449.41,210.85 449.55,211.03 449.68,211.24 449.81,211.07 449.94,211.11 450.08,210.96 450.21,211.11 450.34,211.05 450.47,211.36 450.60,211.20 450.74,210.99 450.87,210.50 451.00,211.20 451.13,211.21 451.27,210.84 451.40,210.61 451.53,210.80 451.66,211.25 451.79,210.81 451.93,210.95 452.06,211.10 452.19,211.32 452.32,211.05 452.46,211.03 452.59,210.93 452.72,211.41 452.85,211.29 452.98,211.03 453.12,210.75 453.25,210.88 453.38,211.18 453.51,210.90 453.65,211.25 453.78,211.13 453.91,211.12 454.04,211.20 454.17,211.16 454.31,210.87 454.44,210.98 454.57,211.57 454.70,210.79 454.84,210.95 454.97,211.29 455.10,211.02 455.23,210.87 455.36,210.76 455.50,211.17 455.63,211.28 455.76,211.36 455.89,211.06 456.03,211.28 456.16,210.82 456.29,211.09 456.42,210.90 456.55,211.09 456.69,211.21 456.82,211.28 456.95,210.83 457.08,211.32 457.21,210.94 457.35,210.82 457.48,211.00 457.61,210.72 457.74,211.04 457.88,211.10 458.01,210.99 458.14,211.15 458.27,210.97 458.40,211.03 458.54,210.71 458.67,211.04 458.80,210.84 458.93,210.93 459.07,211.01 459.20,211.07 459.33,210.66 459.46,210.68 459.59,210.95 459.73,211.12 459.86,211.09 459.99,211.21 460.12,211.30 460.26,211.12 460.39,211.00 460.52,210.78 460.65,210.79 460.78,210.90 460.92,211.06 461.05,211.04 461.18,210.99 461.31,210.96 461.45,211.13 461.58,211.03 461.71,211.05 461.84,211.05 461.97,210.86 462.11,210.75 462.24,211.08 462.37,211.06 462.50,210.91 462.64,210.87 462.77,211.46 462.90,210.78 463.03,210.90 463.16,211.00 463.30,210.69 463.43,210.96 463.56,211.33 463.69,211.13 463.83,211.06 463.96,211.05 464.09,210.94 464.22,211.12 464.35,210.87 464.49,210.80 464.62,210.91 464.75,211.08 464.88,210.95 465.02,211.02 465.15,210.42 465.28,211.12 465.41,211.37 465.54,211.14 465.68,210.77 465.81,210.64 465.94,210.88 466.07,210.60 466.21,210.96 466.34,210.68 466.47,211.00 466.60,211.08 466.73,210.32 466.87,210.82 467.00,210.59 467.13,210.43 467.26,210.59 467.40,210.67 467.53,210.93 467.66,210.36 467.79,210.91 467.92,211.11 468.06,210.78 468.19,210.76 468.32,210.62 468.45,210.35 468.59,210.71 468.72,210.66 468.85,210.71 468.98,211.10 469.11,210.68 469.25,210.59 469.38,210.82 469.51,210.16 469.64,210.18 469.78,210.32 469.91,210.24 470.04,210.51 470.17,210.26 470.30,210.68 470.44,210.60 470.57,210.40 470.70,210.12 470.83,210.30 470.97,210.31 471.10,209.85 471.23,210.12 471.36,210.16 471.49,210.01 471.63,210.25 471.76,210.12 471.89,209.62 472.02,209.77 472.16,209.50 472.29,209.74 472.42,209.36 472.55,209.68 472.68,209.48 472.82,209.52 472.95,209.19 473.08,208.80 473.21,209.40 473.35,208.87 473.48,209.09 473.61,208.75 473.74,208.66 473.87,208.76 474.01,208.27 474.14,208.32 474.27,207.49 474.40,207.80 474.54,207.32 474.67,207.09 474.80,206.84 474.93,206.61 475.06,206.56 475.20,205.41 475.33,205.40 475.46,204.77 475.59,204.67 475.73,203.73 475.86,203.27 475.99,202.35 476.12,201.75 476.25,200.88 476.39,199.50 476.52,198.38 476.65,196.67 476.78,195.48 476.91,193.80 477.05,191.46 477.18,189.55 477.31,186.30 477.44,183.57 477.58,180.69 477.71,177.83 477.84,174.94 477.97,172.20 478.10,170.03 478.24,168.82 478.37,168.15 478.50,168.59 478.63,170.15 478.77,173.20 478.90,175.01 479.03,178.51 479.16,181.93 479.29,184.66 479.43,187.11 479.56,189.78 479.69,192.21 479.82,194.26 479.96,195.55 480.09,197.45 480.22,198.69 480.35,200.06 480.48,201.17 480.62,201.70 480.75,202.27 480.88,203.40 481.01,204.34 481.15,204.67 481.28,205.08 481.41,206.01 481.54,205.66 481.67,206.46 481.81,206.47 481.94,206.91 482.07,207.19 482.20,207.76 482.34,207.45 482.47,207.74 482.60,207.70 482.73,208.34 482.86,208.29 483.00,208.63 483.13,208.44 483.26,208.73 483.39,209.15 483.53,209.00 483.66,209.28 483.79,209.35 483.92,209.25 484.05,209.06 484.19,209.70 484.32,209.60 484.45,209.84 484.58,209.25 484.72,209.39 484.85,209.34 484.98,209.67 485.11,210.14 485.24,210.08 485.38,210.00 485.51,210.08 485.64,210.26 485.77,210.06 485.91,210.25 486.04,210.23 486.17,209.75 486.30,210.18 486.43,210.59 486.57,210.23 486.70,210.31 486.83,210.24 486.96,210.29 487.10,210.66 487.23,210.38 487.36,210.23 487.49,209.79 487.62,210.37 487.76,210.08 487.89,210.13 488.02,210.72 488.15,210.72 488.29,210.15 488.42,210.78 488.55,210.70 488.68,210.44 488.81,210.79 488.95,210.28 489.08,210.38 489.21,210.34 489.34,210.42 489.48,210.87 489.61,210.39 489.74,210.43 489.87,210.48 490.00,210.74 490.14,210.63 490.27,210.90 490.40,210.56 490.53,210.44 490.67,210.61 490.80,210.73 490.93,210.52 491.06,210.79 491.19,211.13 491.33,210.60 491.46,210.74 491.59,211.02 491.72,210.58 491.86,210.53 491.99,210.48 492.12,210.80 492.25,210.82 492.38,210.67 492.52,210.70 492.65,210.97 492.78,210.87 492.91,210.36 493.05,210.65 493.18,210.66 493.31,210.78 493.44,210.56 493.57,210.45 493.71,210.47 493.84,210.16 493.97,210.52 494.10,210.37 494.24,210.57 494.37,210.21 494.50,210.31 494.63,210.15 494.76,210.09 494.90,210.43 495.03,210.13 495.16,210.27 495.29,209.87 495.42,210.08 495.56,209.62 495.69,209.82 495.82,209.75 495.95,209.91 496.09,209.75 496.22,209.59 496.35,209.74 496.48,209.53 496.61,209.55 496.75,209.54 496.88,209.31 497.01,209.23 497.14,209.35 497.28,209.19 497.41,209.38 497.54,209.57 497.67,209.56 497.80,209.34 497.94,209.20 498.07,209.54 498.20,209.60 498.33,209.95 498.47,209.70 498.60,209.82 498.73,210.10 498.86,209.91 498.99,210.04 499.13,210.52 499.26,210.53 499.39,210.40 499.52,210.37 499.66,210.15 499.79,210.53 499.92,210.46 500.05,210.54 500.18,210.41 500.32,210.56 500.45,210.55 500.58,210.69 500.71,210.96 500.85,210.75 500.98,210.33 501.11,210.50 501.24,210.38 501.37,210.57 501.51,210.88 501.64,210.86 501.77,210.66 501.90,210.86 502.04,210.64 502.17,210.51 502.30,210.52 502.43,210.65 502.56,211.16 502.70,210.56 502.83,211.13 502.96,211.15 503.09,210.82 503.23,210.86 503.36,210.74 503.49,210.87 503.62,211.02 503.75,210.87 503.89,211.09 504.02,211.13 504.15,210.95 504.28,210.94 504.42,210.85 504.55,210.94 504.68,210.61 504.81,210.94 504.94,210.89 505.08,210.65 505.21,211.30 505.34,210.61 505.47,210.62 505.61,210.86 505.74,210.36 505.87,210.60 506.00,210.42 506.13,210.53 506.27,210.69 506.40,210.77 506.53,210.92 506.66,210.83 506.80,210.89 506.93,210.73 507.06,210.46 507.19,210.78 507.32,210.39 507.46,210.32 507.59,210.75 507.72,210.54 507.85,210.36 507.99,210.42 508.12,210.39 508.25,209.84 508.38,210.05 508.51,209.75 508.65,209.97 508.78,209.73 508.91,210.11 509.04,209.86 509.18,209.51 509.31,209.63 509.44,209.33 509.57,209.57 509.70,209.66 509.84,209.60 509.97,209.12 510.10,209.50 510.23,209.72 510.37,209.72 510.50,209.96 510.63,209.48 510.76,209.94 510.89,209.75 511.03,210.01 511.16,210.12 511.29,210.25 511.42,210.04 511.56,210.26 511.69,210.02 511.82,210.02 511.95,210.51 512.08,210.42 512.22,210.12 512.35,210.33 512.48,210.56 512.61,210.93 512.75,210.85 512.88,210.82 513.01,210.28 513.14,210.68 513.27,210.83 513.41,210.83 513.54,210.85 513.67,210.73 513.80,211.18 513.94,211.13 514.07,210.80 514.20,210.62 514.33,211.30 514.46,210.73 514.60,211.13 514.73,211.29 514.86,210.67 514.99,210.95 515.12,210.82 515.26,211.02 515.39,210.98 515.52,211.34 515.65,211.05 515.79,210.92 515.92,211.17 516.05,210.87 516.18,210.85 516.31,211.42 516.45,210.75 516.58,210.83 516.71,210.94 516.84,210.70 516.98,210.47 517.11,211.17 517.24,210.76 517.37,210.82 517.50,210.85 517.64,210.72 517.77,210.69 517.90,210.96 518.03,211.45 518.17,211.09 518.30,211.09 518.43,210.59 518.56,210.91 518.69,210.65 518.83,211.08 518.96,210.85 519.09,210.91 519.22,210.88 519.36,210.76 519.49,210.55 519.62,211.01 519.75,210.57 519.88,210.61 520.02,210.79 520.15,210.70 520.28,210.90 520.41,211.06 520.55,210.89 520.68,210.87 520.81,210.82 520.94,210.99 521.07,210.39 521.21,210.87 521.34,210.57 521.47,210.49 521.60,210.75 521.74,210.65 521.87,210.86 522.00,210.96 522.13,210.19 522.26,210.67 522.40,211.10 522.53,210.85 522.66,210.96 522.79,210.64 522.93,210.29 523.06,210.34 523.19,210.72 523.32,210.75 523.45,210.36 523.59,210.44 523.72,210.53 523.85,210.06 523.98,210.34 524.12,210.74 524.25,210.84 524.38,210.30 524.51,210.69 524.64,210.14 524.78,210.04 524.91,209.68 525.04,210.34 525.17,210.00 525.31,210.54 525.44,210.04 525.57,209.95 525.70,209.45 525.83,210.10 525.97,209.62 526.10,209.58 526.23,209.04 526.36,209.63 526.50,209.53 526.63,209.06 526.76,209.08 526.89,208.99 527.02,208.95 527.16,208.58 527.29,208.74 527.42,208.08 527.55,207.75 527.69,207.51 527.82,206.77 527.95,206.85 528.08,206.94 528.21,206.48 528.35,205.97 528.48,206.00 528.61,205.31 528.74,205.58 528.88,205.73 529.01,205.80 529.14,205.54 529.27,206.01 529.40,206.33 529.54,205.92 529.67,206.26 529.80,205.80 529.93,205.74 530.07,206.29 530.20,206.12 530.33,206.08 530.46,205.79 530.59,205.70 530.73,205.76 530.86,205.74 530.99,205.05 531.12,204.43 531.26,204.74 531.39,204.20 531.52,203.78 531.65,203.18 531.78,203.10 531.92,201.99 532.05,201.41 532.18,200.13 532.31,199.57 532.45,198.61 532.58,197.74 532.71,196.70 532.84,195.24 532.97,194.47 533.11,192.46 533.24,191.12 533.37,189.77 533.50,187.93 533.64,186.87 533.77,185.55 533.90,184.19 534.03,183.79 534.16,182.83 534.30,182.68 534.43,182.60 534.56,183.01 534.69,184.13 534.82,185.35 534.96,186.67 535.09,188.41 535.22,189.23 535.35,191.03 535.49,192.36 535.62,194.48 535.75,195.39 535.88,196.64 536.01,197.65 536.15,199.13 536.28,199.80 536.41,200.80 536.54,201.09 536.68,202.51 536.81,202.99 536.94,203.61 537.07,204.29 537.20,204.46 537.34,204.91 537.47,205.50 537.60,205.80 537.73,205.99 537.87,206.36 538.00,206.52 538.13,207.04 538.26,207.32 538.39,207.33 538.53,207.95 538.66,207.38 538.79,207.83 538.92,208.42 539.06,208.09 539.19,207.96 539.32,208.75 539.45,208.68 539.58,208.40 539.72,208.93 539.85,208.63 539.98,208.64 540.11,208.98 540.25,208.98 540.38,208.91 540.51,209.14 540.64,209.06 540.77,209.34 540.91,209.38 541.04,209.59 541.17,209.37 541.30,209.21 541.44,209.25 541.57,209.52 541.70,209.94 541.83,209.82 541.96,209.51 542.10,209.88 542.23,209.44 542.36,209.93 542.49,209.63 542.63,209.90 542.76,209.87 542.89,209.68 543.02,209.82 543.15,209.51 543.29,209.72 543.42,209.97 543.55,210.63 543.68,209.87 543.82,209.72 543.95,209.46 544.08,209.90 544.21,209.28 544.34,209.44 544.48,209.66 544.61,209.28 544.74,209.85 544.87,209.71 545.01,209.30 545.14,209.25 545.27,209.03 545.40,208.95 545.53,209.28 545.67,209.25 545.80,209.11 545.93,209.00 546.06,208.72 546.20,208.82 546.33,208.30 546.46,208.50 546.59,208.68 546.72,208.49 546.86,207.93 546.99,207.78 547.12,207.95 547.25,207.82 547.39,206.85 547.52,206.82 547.65,206.67 547.78,206.56 547.91,205.74 548.05,205.67 548.18,205.02 548.31,205.12 548.44,204.15 548.58,203.43 548.71,202.74 548.84,202.33 548.97,201.48 549.10,200.25 549.24,199.66 549.37,198.38 549.50,197.56 549.63,196.48 549.77,195.56 549.90,194.85 550.03,194.06 550.16,193.83 550.29,193.54 550.43,193.19 550.56,193.12 550.69,193.90 550.82,193.84 550.96,194.60 551.09,196.04 551.22,196.95 551.35,197.99 551.48,198.69 551.62,199.40 551.75,200.46 551.88,201.55 552.01,202.04 552.15,202.77 552.28,203.29 552.41,203.94 552.54,204.94 552.67,205.35 552.81,205.45 552.94,205.88 553.07,206.37 553.20,206.96 553.34,206.89 553.47,207.39 553.60,207.21 553.73,207.64 553.86,208.23 554.00,208.53 554.13,208.26 554.26,208.51 554.39,209.01 554.52,208.89 554.66,208.99 554.79,209.35 554.92,209.39 555.05,209.70 555.19,209.72 555.32,209.51 555.45,209.70 555.58,209.79 555.71,209.58 555.85,209.73 555.98,210.23 556.11,209.72 556.24,210.35 556.38,210.25 556.51,210.21 556.64,210.40 556.77,210.44 556.90,210.64 557.04,210.33 557.17,210.40 557.30,210.44 557.43,210.94 557.57,210.77 557.70,210.39 557.83,210.55 557.96,210.50 558.09,210.68 558.23,210.75 558.36,211.24 558.49,210.35 558.62,211.00 558.76,210.90 558.89,210.67 559.02,210.81 559.15,210.75 559.28,210.89 559.42,211.12 559.55,210.58 559.68,211.22 559.81,210.86 559.95,211.29 560.08,211.07 560.21,211.26 560.34,211.13 560.47,211.26 560.61,211.04 560.74,210.86 560.87,211.20 561.00,211.22 561.14,211.54 561.27,210.65 561.40,211.06 561.53,211.34 561.66,210.84 561.80,211.08 561.93,211.60 562.06,211.46 562.19,210.96 562.33,211.48" fill="none" stroke="#B8B812" stroke-width="1.5" stroke-linejoin="round"/>
<polyline points="350.91,222.87 351.05,222.77 351.18,222.68 351.31,222.65 351.44,222.40 351.58,222.47 351.71,222.74 351.84,222.61 351.97,222.98 352.10,222.49 352.24,222.03 352.37,222.48 352.50,222.61 352.63,222.63 352.77,222.56 352.90,222.35 353.03,222.86 353.16,222.37 353.29,222.67 353.43,222.44 353.56,222.24 353.69,222.80 353.82,221.94 353.96,222.30 354.09,222.57 354.22,222.39 354.35,222.63 354.48,222.44 354.62,222.35 354.75,222.92 354.88,222.39 355.01,222.40 355.15,222.18 355.28,222.25 355.41,222.55 355.54,222.52 355.67,222.38 355.81,222.22 355.94,222.51 356.07,221.97 356.20,222.25 356.34,222.26 356.47,222.11 356.60,222.31 356.73,222.11 356.86,222.06 357.00,222.62 357.13,222.36 357.26,222.44 357.39,222.16 357.53,222.33 357.66,222.26 357.79,222.32 357.92,222.54 358.05,221.93 358.19,222.00 358.32,221.89 358.45,221.08 358.58,221.49 358.72,221.75 358.85,221.82 358.98,221.49 359.11,221.80 359.24,221.75 359.38,221.29 359.51,221.60 359.64,221.57 359.77,221.18 359.90,220.74 360.04,221.14 360.17,220.62 360.30,220.41 360.43,220.33 360.57,219.97 360.70,220.09 360.83,219.75 360.96,219.54 361.09,219.06 361.23,218.36 361.36,218.04 361.49,217.74 361.62,216.85 361.76,216.86 361.89,215.31 362.02,214.20 362.15,213.32 362.28,211.63 362.42,209.38 362.55,206.48 362.68,202.40 362.81,195.60 362.95,182.60 363.08,152.29 363.21,150.00 363.34,150.00 363.47,150.00 363.61,150.00 363.74,166.89 363.87,188.25 364.00,198.42 364.14,204.17 364.27,207.95 364.40,210.41 364.53,212.13 364.66,213.62 364.80,215.18 364.93,215.63 365.06,216.64 365.19,217.60 365.33,217.91 365.46,217.89 365.59,218.86 365.72,219.07 365.85,219.47 365.99,220.02 366.12,220.16 366.25,220.23 366.38,220.69 366.52,220.78 366.65,220.87 366.78,221.07 366.91,221.20 367.04,221.19 367.18,221.28 367.31,221.49 367.44,221.37 367.57,221.39 367.71,222.03 367.84,221.77 367.97,221.89 368.10,221.93 368.23,222.02 368.37,222.07 368.50,222.13 368.63,221.99 368.76,222.42 368.90,222.10 369.03,222.52 369.16,221.91 369.29,222.13 369.42,222.61 369.56,222.39 369.69,222.31 369.82,222.57 369.95,222.28 370.09,222.55 370.22,222.07 370.35,222.48 370.48,222.46 370.61,222.74 370.75,222.83 370.88,222.47 371.01,223.03 371.14,222.56 371.28,222.25 371.41,222.19 371.54,223.07 371.67,222.73 371.80,222.61 371.94,222.60 372.07,222.54 372.20,223.09 372.33,222.78 372.47,223.21 372.60,222.78 372.73,222.31 372.86,223.03 372.99,222.77 373.13,222.80 373.26,223.21 373.39,222.81 373.52,223.13 373.66,222.88 373.79,222.73 373.92,223.01 374.05,222.77 374.18,223.18 374.32,223.13 374.45,222.93 374.58,223.06 374.71,223.05 374.85,222.87 374.98,223.13 375.11,222.89 375.24,223.08 375.37,222.74 375.51,222.97 375.64,223.04 375.77,222.78 375.90,222.86 376.04,222.84 376.17,223.12 376.30,222.80 376.43,223.06 376.56,223.30 376.70,223.04 376.83,222.61 376.96,222.99 377.09,223.19 377.23,222.90 377.36,223.21 377.49,223.10 377.62,223.05 377.75,222.90 377.89,222.84 378.02,222.90 378.15,222.96 378.28,223.06 378.42,223.04 378.55,222.87 378.68,222.95 378.81,223.02 378.94,222.57 379.08,222.75 379.21,222.74 379.34,222.86 379.47,222.84 379.60,222.84 379.74,222.69 379.87,223.02 380.00,222.93 380.13,222.50 380.27,222.85 380.40,222.59 380.53,223.20 380.66,222.71 380.79,222.71 380.93,222.80 381.06,222.72 381.19,222.73 381.32,223.07 381.46,222.76 381.59,222.87 381.72,222.92 381.85,222.43 381.98,222.99 382.12,222.74 382.25,222.77 382.38,222.34 382.51,222.68 382.65,222.55 382.78,222.31 382.91,222.88 383.04,222.46 383.17,222.23 383.31,222.28 383.44,222.38 383.57,222.36 383.70,222.17 383.84,222.24 383.97,222.21 384.10,221.52 384.23,221.59 384.36,221.38 384.50,221.48 384.63,221.64 384.76,221.31 384.89,220.76 385.03,220.73 385.16,220.80 385.29,220.21 385.42,220.03 385.55,219.80 385.69,218.97 385.82,219.15 385.95,218.62 386.08,218.20 386.22,217.37 386.35,216.93 386.48,216.52 386.61,216.33 386.74,216.02 386.88,215.89 387.01,216.25 387.14,216.26 387.27,216.01 387.41,216.26 387.54,217.02 387.67,216.80 387.80,217.35 387.93,217.53 388.07,217.13 388.20,217.20 388.33,217.23 388.46,216.91 388.60,216.71 388.73,216.61 388.86,216.58 388.99,215.93 389.12,215.54 389.26,214.97 389.39,214.17 389.52,214.10 389.65,212.47 389.79,211.93 389.92,211.18 390.05,209.59 390.18,208.74 390.31,207.46 390.45,205.45 390.58,204.02 390.71,202.00 390.84,200.61 390.98,198.84 391.11,197.37 391.24,196.41 391.37,195.40 391.50,195.26 391.64,195.30 391.77,195.60 391.90,197.05 392.03,198.56 392.17,199.81 392.30,202.19 392.43,203.70 392.56,205.51 392.69,206.87 392.83,208.61 392.96,210.05 393.09,211.17 393.22,212.39 393.36,212.92 393.49,214.59 393.62,214.86 393.75,215.35 393.88,216.27 394.02,216.88 394.15,217.70 394.28,217.85 394.41,218.53 394.55,218.64 394.68,219.68 394.81,219.63 394.94,220.22 395.07,219.83 395.21,220.43 395.34,220.29 395.47,220.83 395.60,221.04 395.74,220.70 395.87,220.96 396.00,221.10 396.13,221.16 396.26,221.45 396.40,221.51 396.53,221.51 396.66,221.95 396.79,222.15 396.93,221.82 397.06,222.07 397.19,222.27 397.32,222.29 397.45,222.26 397.59,222.66 397.72,222.72 397.85,222.74 397.98,222.60 398.12,223.14 398.25,223.13 398.38,222.71 398.51,222.81 398.64,223.14 398.78,222.75 398.91,223.05 399.04,223.01 399.17,222.88 399.30,223.01 399.44,222.75 399.57,223.01 399.70,222.72 399.83,223.68 399.97,223.54 400.10,223.51 400.23,223.33 400.36,223.50 400.49,223.59 400.63,223.55 400.76,223.55 400.89,223.17 401.02,223.48 401.16,223.29 401.29,223.17 401.42,223.19 401.55,223.56 401.68,223.71 401.82,223.19 401.95,223.89 402.08,223.85 402.21,223.45 402.35,223.45 402.48,223.55 402.61,223.80 402.74,223.51 402.87,223.36 403.01,223.69 403.14,223.17 403.27,223.67 403.40,223.90 403.54,223.73 403.67,223.84 403.80,223.79 403.93,223.85 404.06,223.73 404.20,223.53 404.33,223.67 404.46,223.71 404.59,224.01 404.73,224.10 404.86,223.84 404.99,223.59 405.12,223.60 405.25,223.73 405.39,224.08 405.52,223.86 405.65,223.78 405.78,223.62 405.92,223.99 406.05,223.87 406.18,223.80 406.31,223.83 406.44,224.19 406.58,223.78 406.71,224.19 406.84,224.10 406.97,223.84 407.11,224.02 407.24,223.80 407.37,223.65 407.50,223.77 407.63,223.63 407.77,223.94 407.90,223.83 408.03,223.95 408.16,224.00 408.30,223.13 408.43,223.88 408.56,223.41 408.69,223.84 408.82,223.60 408.96,223.80 409.09,224.07 409.22,223.38 409.35,223.79 409.49,223.71 409.62,223.29 409.75,223.83 409.88,223.67 410.01,223.53 410.15,223.45 410.28,224.29 410.41,223.46 410.54,223.11 410.68,223.26 410.81,223.33 410.94,223.27 411.07,223.28 411.20,223.01 411.34,223.29 411.47,223.00 411.60,222.74 411.73,222.79 411.87,222.82 412.00,223.03 412.13,222.89 412.26,222.67 412.39,222.72 412.53,222.76 412.66,223.16 412.79,222.60 412.92,222.88 413.06,223.00 413.19,222.69 413.32,223.02 413.45,223.09 413.58,223.03 413.72,223.34 413.85,223.51 413.98,223.61 414.11,223.39 414.25,223.54 414.38,224.08 414.51,223.38 414.64,223.72 414.77,223.92 414.91,223.80 415.04,223.95 415.17,223.88 415.30,224.05 415.44,224.20 415.57,223.89 415.70,224.01 415.83,223.99 415.96,223.93 416.10,224.04 416.23,223.82 416.36,224.25 416.49,224.48 416.63,224.50 416.76,224.42 416.89,223.94 417.02,224.50 417.15,224.02 417.29,224.18 417.42,224.61 417.55,223.98 417.68,224.42 417.82,224.30 417.95,224.22 418.08,224.07 418.21,224.36 418.34,224.18 418.48,224.52 418.61,224.57 418.74,224.00 418.87,224.20 419.00,224.25 419.14,224.07 419.27,224.09 419.40,224.37 419.53,224.31 419.67,224.00 419.80,224.25 419.93,224.49 420.06,224.11 420.19,224.18 420.33,224.74 420.46,224.69 420.59,224.05 420.72,224.11 420.86,224.50 420.99,224.16 421.12,224.37 421.25,224.33 421.38,224.56 421.52,223.89 421.65,223.96 421.78,224.18 421.91,224.68 422.05,224.43 422.18,224.09 422.31,224.58 422.44,224.63 422.57,224.43 422.71,224.41 422.84,224.59 422.97,224.76 423.10,224.53 423.24,224.62 423.37,224.50 423.50,224.43 423.63,224.32 423.76,224.58 423.90,224.46 424.03,224.48 424.16,224.74 424.29,224.65 424.43,224.73 424.56,224.20 424.69,224.67 424.82,224.42 424.95,224.38 425.09,224.37 425.22,224.83 425.35,224.75 425.48,224.42 425.62,224.33 425.75,224.58 425.88,224.48 426.01,224.95 426.14,224.27 426.28,224.19 426.41,224.54 426.54,224.60 426.67,224.63 426.81,224.77 426.94,225.07 427.07,224.54 427.20,224.50 427.33,224.23 427.47,224.68 427.60,224.81 427.73,224.57 427.86,224.89 428.00,224.64 428.13,224.97 428.26,224.72 428.39,224.41 428.52,224.51 428.66,224.31 428.79,224.27 428.92,224.71 429.05,224.85 429.19,225.09 429.32,224.65 429.45,224.61 429.58,224.42 429.71,224.89 429.85,224.76 429.98,224.54 430.11,224.83 430.24,224.80 430.38,224.27 430.51,224.85 430.64,224.71 430.77,224.60 430.90,224.60 431.04,225.07 431.17,225.03 431.30,225.09 431.43,224.44 431.57,224.55 431.70,224.89 431.83,224.43 431.96,224.54 432.09,224.30 432.23,225.10 432.36,224.93 432.49,224.80 432.62,224.74 432.76,224.60 432.89,224.61 433.02,224.83 433.15,224.54 433.28,224.96 433.42,224.58 433.55,224.49 433.68,224.97 433.81,224.65 433.95,224.80 434.08,224.58 434.21,224.18 434.34,224.79 434.47,224.37 434.61,224.89 434.74,224.31 434.87,224.23 435.00,224.70 435.14,224.72 435.27,224.64 435.40,224.34 435.53,224.79 435.66,224.27 435.80,224.47 435.93,224.39 436.06,224.46 436.19,224.72 436.33,224.37 436.46,224.62 436.59,224.62 436.72,224.07 436.85,224.16 436.99,224.31 437.12,224.23 437.25,224.40 437.38,223.87 437.51,224.41 437.65,224.37 437.78,224.12 437.91,223.81 438.04,224.06 438.18,223.88 438.31,224.06 438.44,223.85 438.57,223.96 438.70,223.63 438.84,223.97 438.97,223.08 439.10,223.29 439.23,223.55 439.37,223.04 439.50,223.48 439.63,223.01 439.76,223.26 439.89,223.02 440.03,223.12 440.16,223.26 440.29,223.23 440.42,223.21 440.56,223.82 440.69,223.41 440.82,223.26 440.95,223.76 441.08,223.81 441.22,223.98 441.35,224.18 441.48,223.66 441.61,224.18 441.75,224.27 441.88,224.09 442.01,224.21 442.14,223.55 442.27,224.15 442.41,224.72 442.54,223.98 442.67,224.30 442.80,224.53 442.94,224.63 443.07,224.90 443.20,224.19 443.33,224.62 443.46,224.83 443.60,224.38 443.73,224.69 443.86,225.14 443.99,225.04 444.13,224.89 444.26,224.21 444.39,224.78 444.52,224.91 444.65,224.78 444.79,224.85 444.92,225.55 445.05,224.84 445.18,224.69 445.32,224.97 445.45,224.86 445.58,224.87 445.71,224.93 445.84,225.14 445.98,225.03 446.11,224.72 446.24,224.97 446.37,225.11 446.51,224.91 446.64,225.28 446.77,225.20 446.90,224.82 447.03,225.12 447.17,225.49 447.30,225.41 447.43,225.06 447.56,225.27 447.70,224.93 447.83,224.77 447.96,225.22 448.09,225.16 448.22,225.22 448.36,225.10 448.49,225.18 448.62,225.00 448.75,225.22 448.89,225.30 449.02,225.11 449.15,225.31 449.28,224.74 449.41,224.96 449.55,225.45 449.68,225.52 449.81,225.19 449.94,225.12 450.08,224.86 450.21,225.22 450.34,225.32 450.47,224.82 450.60,225.27 450.74,225.26 450.87,225.25 451.00,224.91 451.13,225.28 451.27,224.83 451.40,225.49 451.53,225.19 451.66,224.91 451.79,225.46 451.93,225.42 452.06,225.02 452.19,225.65 452.32,224.95 452.46,225.24 452.59,225.43 452.72,224.67 452.85,225.39 452.98,225.16 453.12,225.17 453.25,224.94 453.38,225.25 453.51,224.93 453.65,224.96 453.78,225.08 453.91,224.91 454.04,225.52 454.17,224.89 454.31,225.01 454.44,225.11 454.57,225.18 454.70,225.35 454.84,225.36 454.97,225.11 455.10,225.10 455.23,225.19 455.36,225.36 455.50,225.34 455.63,225.07 455.76,224.73 455.89,225.65 456.03,225.39 456.16,225.24 456.29,225.26 456.42,225.07 456.55,224.96 456.69,225.11 456.82,225.13 456.95,225.04 457.08,224.86 457.21,225.11 457.35,225.31 457.48,225.07 457.61,225.18 457.74,224.72 457.88,225.13 458.01,225.15 458.14,224.91 458.27,224.80 458.40,225.27 458.54,225.00 458.67,225.28 458.80,225.08 458.93,225.31 459.07,225.10 459.20,224.84 459.33,225.15 459.46,225.09 459.59,225.31 459.73,225.07 459.86,225.08 459.99,225.35 460.12,225.42 460.26,225.33 460.39,225.39 460.52,225.26 460.65,225.32 460.78,225.35 460.92,225.24 461.05,225.16 461.18,225.18 461.31,225.67 461.45,225.15 461.58,225.09 461.71,225.06 461.84,225.13 461.97,225.19 462.11,224.88 462.24,224.69 462.37,225.19 462.50,224.77 462.64,225.18 462.77,225.15 462.90,225.37 463.03,225.48 463.16,225.19 463.30,224.98 463.43,224.84 463.56,224.92 463.69,225.10 463.83,224.63 463.96,225.10 464.09,225.08 464.22,225.22 464.35,225.00 464.49,225.09 464.62,224.90 464.75,224.95 464.88,224.66 465.02,225.07 465.15,225.38 465.28,225.07 465.41,225.11 465.54,224.80 465.68,225.33 465.81,224.84 465.94,225.17 466.07,225.01 466.21,224.77 466.34,225.20 466.47,224.97 466.60,225.00 466.73,225.05 466.87,224.94 467.00,224.85 467.13,225.02 467.26,224.82 467.40,224.91 467.53,224.74 467.66,224.55 467.79,224.72 467.92,224.74 468.06,224.84 468.19,225.09 468.32,224.44 468.45,224.82 468.59,224.29 468.72,224.53 468.85,224.64 468.98,224.23 469.11,224.30 469.25,224.73 469.38,224.69 469.51,224.63 469.64,224.45 469.78,225.08 469.91,224.55 470.04,224.37 470.17,224.90 470.30,224.64 470.44,224.39 470.57,224.70 470.70,224.44 470.83,224.52 470.97,224.39 471.10,224.08 471.23,224.48 471.36,224.26 471.49,223.95 471.63,223.96 471.76,224.29 471.89,223.94 472.02,223.98 472.16,224.05 472.29,223.87 472.42,223.44 472.55,223.85 472.68,223.83 472.82,223.74 472.95,223.81 473.08,223.44 473.21,223.43 473.35,223.50 473.48,222.97 473.61,223.29 473.74,223.15 473.87,222.80 474.01,222.87 474.14,222.48 474.27,221.90 474.40,222.14 474.54,221.74 474.67,221.51 474.80,221.18 474.93,221.14 475.06,220.63 475.20,219.99 475.33,219.84 475.46,219.44 475.59,218.61 475.73,218.11 475.86,217.48 475.99,216.71 476.12,216.11 476.25,215.34 476.39,214.48 476.52,213.14 476.65,211.75 476.78,210.24 476.91,208.53 477.05,206.17 477.18,204.17 477.31,201.61 477.44,198.79 477.58,195.81 477.71,192.81 477.84,189.93 477.97,187.07 478.10,185.33 478.24,183.86 478.37,183.49 478.50,184.14 478.63,185.75 478.77,187.71 478.90,190.55 479.03,193.17 479.16,196.03 479.29,198.96 479.43,202.40 479.56,204.10 479.69,206.78 479.82,208.94 479.96,210.22 480.09,212.18 480.22,213.55 480.35,214.51 480.48,215.85 480.62,216.36 480.75,216.86 480.88,217.83 481.01,218.25 481.15,218.61 481.28,219.12 481.41,220.35 481.54,220.13 481.67,220.60 481.81,220.79 481.94,221.26 482.07,221.44 482.20,221.65 482.34,221.70 482.47,221.86 482.60,222.19 482.73,222.60 482.86,223.15 483.00,223.07 483.13,223.37 483.26,223.20 483.39,223.20 483.53,223.03 483.66,223.42 483.79,223.05 483.92,223.54 484.05,224.05 484.19,223.84 484.32,224.08 484.45,223.82 484.58,223.66 484.72,223.92 484.85,224.00 484.98,224.40 485.11,224.62 485.24,224.07 485.38,224.20 485.51,224.29 485.64,224.28 485.77,224.12 485.91,224.45 486.04,224.55 486.17,224.58 486.30,224.27 486.43,224.53 486.57,224.20 486.70,224.81 486.83,224.41 486.96,224.60 487.10,224.59 487.23,224.58 487.36,224.49 487.49,224.36 487.62,225.15 487.76,224.84 487.89,224.86 488.02,225.28 488.15,224.81 488.29,224.97 488.42,224.86 488.55,225.13 488.68,224.99 488.81,224.96 488.95,224.85 489.08,224.98 489.21,225.18 489.34,224.48 489.48,224.92 489.61,224.86 489.74,224.89 489.87,224.53 490.00,225.13 490.14,224.79 490.27,224.93 490.40,224.88 490.53,224.63 490.67,224.90 490.80,224.59 490.93,224.79 491.06,224.93 491.19,225.00 491.33,225.02 491.46,224.97 491.59,225.47 491.72,225.10 491.86,224.73 491.99,224.86 492.12,224.85 492.25,224.95 492.38,224.85 492.52,224.79 492.65,225.33 492.78,224.97 492.91,224.87 493.05,224.88 493.18,224.88 493.31,225.22 493.44,225.00 493.57,225.12 493.71,224.17 493.84,224.91 493.97,225.05 494.10,225.22 494.24,224.76 494.37,224.35 494.50,224.82 494.63,224.52 494.76,224.22 494.90,224.43 495.03,224.75 495.16,224.73 495.29,224.57 495.42,224.12 495.56,224.84 495.69,223.97 495.82,224.13 495.95,223.76 496.09,224.29 496.22,224.03 496.35,224.05 496.48,223.81 496.61,223.71 496.75,223.71 496.88,223.21 497.01,223.82 497.14,223.78 497.28,223.50 497.41,223.59 497.54,223.69 497.67,224.02 497.80,223.82 497.94,223.80 498.07,223.75 498.20,223.60 498.33,223.88 498.47,224.11 498.60,224.11 498.73,224.26 498.86,224.48 498.99,224.48 499.13,224.51 499.26,224.66 499.39,224.61 499.52,224.62 499.66,224.78 499.79,224.34 499.92,225.04 500.05,224.52 500.18,225.02 500.32,224.87 500.45,225.15 500.58,224.94 500.71,224.75 500.85,225.22 500.98,225.04 501.11,225.05 501.24,225.06 501.37,225.28 501.51,225.26 501.64,225.14 501.77,224.76 501.90,225.03 502.04,225.15 502.17,225.53 502.30,225.23 502.43,225.13 502.56,225.43 502.70,225.14 502.83,225.17 502.96,225.21 503.09,224.85 503.23,225.40 503.36,225.28 503.49,225.13 503.62,224.94 503.75,225.24 503.89,225.50 504.02,225.05 504.15,224.96 504.28,225.28 504.42,224.84 504.55,224.70 504.68,225.08 504.81,225.02 504.94,225.11 505.08,225.04 505.21,225.23 505.34,225.10 505.47,225.00 505.61,225.02 505.74,225.25 505.87,225.31 506.00,225.28 506.13,225.22 506.27,224.32 506.40,224.81 506.53,224.94 506.66,225.03 506.80,224.60 506.93,225.24 507.06,224.96 507.19,224.73 507.32,224.86 507.46,224.71 507.59,224.57 507.72,224.81 507.85,224.54 507.99,224.28 508.12,224.39 508.25,224.45 508.38,224.17 508.51,224.62 508.65,224.03 508.78,224.59 508.91,224.34 509.04,223.87 509.18,224.05 509.31,224.23 509.44,223.88 509.57,223.63 509.70,223.90 509.84,224.31 509.97,223.55 510.10,224.03 510.23,223.94 510.37,223.96 510.50,223.95 510.63,224.03 510.76,224.39 510.89,224.36 511.03,224.08 511.16,224.71 511.29,224.15 511.42,224.65 511.56,224.60 511.69,224.88 511.82,224.75 511.95,224.95 512.08,224.76 512.22,225.03 512.35,224.93 512.48,225.36 512.61,224.77 512.75,225.22 512.88,225.09 513.01,225.05 513.14,224.91 513.27,225.16 513.41,224.75 513.54,224.80 513.67,225.27 513.80,224.79 513.94,225.46 514.07,225.10 514.20,225.23 514.33,225.20 514.46,225.28 514.60,225.14 514.73,225.13 514.86,225.19 514.99,225.45 515.12,225.48 515.26,225.52 515.39,225.32 515.52,225.20 515.65,224.88 515.79,225.39 515.92,225.44 516.05,225.17 516.18,225.44 516.31,225.54 516.45,225.28 516.58,225.50 516.71,225.33 516.84,224.88 516.98,225.16 517.11,225.17 517.24,225.38 517.37,225.07 517.50,225.16 517.64,225.04 517.77,225.24 517.90,225.27 518.03,225.46 518.17,225.42 518.30,225.28 518.43,225.29 518.56,225.26 518.69,225.25 518.83,225.56 518.96,224.67 519.09,225.17 519.22,225.27 519.36,225.45 519.49,224.95 519.62,225.26 519.75,225.37 519.88,225.07 520.02,224.74 520.15,225.07 520.28,224.88 520.41,225.28 520.55,224.94 520.68,225.50 520.81,225.13 520.94,224.91 521.07,224.97 521.21,224.82 521.34,225.14 521.47,225.37 521.60,224.98 521.74,225.21 521.87,224.78 522.00,225.04 522.13,225.46 522.26,224.63 522.40,225.19 522.53,225.16 522.66,224.47 522.79,224.54 522.93,224.62 523.06,225.02 523.19,224.69 523.32,224.72 523.45,224.89 523.59,224.73 523.72,224.72 523.85,224.57 523.98,224.85 524.12,224.39 524.25,224.89 524.38,224.41 524.51,224.27 524.64,224.54 524.78,224.44 524.91,223.86 525.04,224.28 525.17,223.88 525.31,223.92 525.44,224.21 525.57,223.77 525.70,223.95 525.83,223.70 525.97,224.11 526.10,223.56 526.23,223.21 526.36,223.10 526.50,223.00 526.63,223.07 526.76,222.87 526.89,222.89 527.02,222.51 527.16,222.26 527.29,222.05 527.42,221.66 527.55,221.44 527.69,221.20 527.82,220.83 527.95,220.16 528.08,219.50 528.21,219.33 528.35,219.22 528.48,218.31 528.61,218.54 528.74,218.61 528.88,218.35 529.01,218.27 529.14,219.00 529.27,219.04 529.40,218.82 529.54,219.30 529.67,219.40 529.80,218.94 529.93,219.81 530.07,219.00 530.20,219.09 530.33,218.81 530.46,218.93 530.59,218.44 530.73,218.49 530.86,218.45 530.99,217.94 531.12,217.45 531.26,217.42 531.39,216.39 531.52,216.25 531.65,215.35 531.78,214.78 531.92,213.96 532.05,213.12 532.18,212.13 532.31,210.91 532.45,209.78 532.58,208.71 532.71,207.18 532.84,205.41 532.97,203.85 533.11,202.09 533.24,200.37 533.37,198.52 533.50,196.59 533.64,194.59 533.77,193.05 533.90,191.29 534.03,189.84 534.16,189.75 534.30,189.16 534.43,189.56 534.56,190.22 534.69,191.75 534.82,192.80 534.96,194.83 535.09,196.52 535.22,198.28 535.35,200.13 535.49,202.45 535.62,204.23 535.75,205.99 535.88,207.79 536.01,208.89 536.15,210.21 536.28,211.33 536.41,212.47 536.54,213.37 536.68,214.15 536.81,215.60 536.94,215.50 537.07,216.64 537.20,217.29 537.34,217.78 537.47,218.04 537.60,218.68 537.73,219.04 537.87,219.29 538.00,219.87 538.13,220.11 538.26,220.38 538.39,220.93 538.53,220.80 538.66,221.36 538.79,221.34 538.92,221.77 539.06,221.87 539.19,222.08 539.32,221.97 539.45,222.16 539.58,222.28 539.72,222.64 539.85,222.88 539.98,223.06 540.11,222.82 540.25,223.04 540.38,222.75 540.51,222.70 540.64,223.08 540.77,223.19 540.91,223.06 541.04,223.07 541.17,223.64 541.30,223.40 541.44,223.25 541.57,224.18 541.70,223.74 541.83,223.67 541.96,223.93 542.10,223.64 542.23,224.18 542.36,223.52 542.49,223.59 542.63,223.86 542.76,223.74 542.89,224.23 543.02,223.58 543.15,223.77 543.29,223.99 543.42,224.06 543.55,224.15 543.68,224.00 543.82,224.40 543.95,223.80 544.08,223.92 544.21,224.05 544.34,223.77 544.48,223.75 544.61,223.68 544.74,223.61 544.87,223.46 545.01,223.54 545.14,223.27 545.27,223.64 545.40,223.14 545.53,223.88 545.67,223.72 545.80,223.51 545.93,223.13 546.06,222.95 546.20,223.23 546.33,222.88 546.46,222.83 546.59,222.41 546.72,222.64 546.86,222.06 546.99,222.07 547.12,221.45 547.25,221.46 547.39,221.45 547.52,220.96 547.65,220.65 547.78,220.58 547.91,220.01 548.05,219.88 548.18,218.61 548.31,218.75 548.44,218.17 548.58,217.10 548.71,216.46 548.84,216.19 548.97,214.95 549.10,214.17 549.24,213.51 549.37,212.32 549.50,211.49 549.63,210.19 549.77,209.48 549.90,208.76 550.03,207.83 550.16,206.69 550.29,206.94 550.43,206.69 550.56,206.61 550.69,207.49 550.82,207.40 550.96,208.97 551.09,209.32 551.22,210.79 551.35,211.45 551.48,212.19 551.62,213.50 551.75,214.50 551.88,215.44 552.01,216.38 552.15,216.72 552.28,217.72 552.41,218.42 552.54,218.78 552.67,219.16 552.81,219.64 552.94,220.45 553.07,220.86 553.20,220.86 553.34,221.08 553.47,221.94 553.60,221.61 553.73,222.23 553.86,222.25 554.00,222.25 554.13,222.85 554.26,222.96 554.39,223.48 554.52,223.82 554.66,223.42 554.79,223.81 554.92,223.94 555.05,223.70 555.19,223.73 555.32,224.37 555.45,224.03 555.58,224.19 555.71,224.21 555.85,224.32 555.98,224.29 556.11,224.65 556.24,224.82 556.38,224.52 556.51,224.36 556.64,224.72 556.77,224.43 556.90,224.67 557.04,225.12 557.17,225.40 557.30,225.01 557.43,224.74 557.57,225.18 557.70,224.55 557.83,224.92 557.96,225.44 558.09,225.30 558.23,224.86 558.36,224.83 558.49,225.40 558.62,225.23 558.76,225.14 558.89,225.38 559.02,225.18 559.15,224.91 559.28,225.53 559.42,225.23 559.55,225.17 559.68,225.12 559.81,225.48 559.95,225.27 560.08,225.60 560.21,225.42 560.34,225.73 560.47,225.42 560.61,225.38 560.74,225.10 560.87,225.31 561.00,225.72 561.14,226.24 561.27,225.31 561.40,225.37 561.53,225.68 561.66,225.72 561.80,225.48 561.93,225.65 562.06,225.29 562.19,225.59 562.33,225.86" fill="none" stroke="#148A8A" stroke-width="1.5" stroke-linejoin="round"/>
<polyline points="350.91,238.46 351.05,238.06 351.18,238.04 351.31,238.19 351.44,238.33 351.58,238.19 351.71,237.91 351.84,238.15 351.97,238.28 352.10,237.91 352.24,237.76 352.37,238.16 352.50,238.13 352.63,238.25 352.77,238.05 352.90,237.89 353.03,237.93 353.16,237.79 353.29,237.80 353.43,237.88 353.56,237.89 353.69,238.23 353.82,237.71 353.96,237.97 354.09,237.84 354.22,238.29 354.35,238.02 354.48,237.87 354.62,238.13 354.75,237.96 354.88,237.83 355.01,238.26 355.15,238.07 355.28,238.29 355.41,238.15 355.54,238.06 355.67,237.90 355.81,237.63 355.94,238.01 356.07,237.85 356.20,237.97 356.34,237.80 356.47,237.64 356.60,237.55 356.73,237.91 356.86,238.02 357.00,237.65 357.13,237.79 357.26,237.97 357.39,237.46 357.53,237.54 357.66,237.33 357.79,237.80 357.92,237.57 358.05,237.37 358.19,237.07 358.32,237.35 358.45,237.56 358.58,237.23 358.72,237.14 358.85,237.31 358.98,236.84 359.11,237.05 359.24,237.09 359.38,236.70 359.51,236.60 359.64,236.73 359.77,236.54 359.90,236.39 360.04,236.35 360.17,236.20 360.30,235.78 360.43,235.64 360.57,235.68 360.70,235.58 360.83,235.37 360.96,234.58 361.09,234.66 361.23,234.19 361.36,233.56 361.49,233.15 361.62,232.61 361.76,232.10 361.89,230.62 362.02,229.95 362.15,228.52 362.28,226.91 362.42,225.13 362.55,222.20 362.68,217.58 362.81,210.84 362.95,197.97 363.08,167.54 363.21,150.00 363.34,150.00 363.47,150.00 363.61,150.00 363.74,182.97 363.87,203.92 364.00,213.88 364.14,220.00 364.27,223.13 364.40,225.65 364.53,227.34 364.66,229.34 364.80,230.34 364.93,231.35 365.06,232.09 365.19,232.71 365.33,233.15 365.46,233.66 365.59,234.36 365.72,234.67 365.85,235.34 365.99,235.11 366.12,235.44 366.25,235.55 366.38,236.28 366.52,235.90 366.65,236.51 366.78,236.81 366.91,236.60 367.04,236.91 367.18,236.41 367.31,236.89 367.44,236.71 367.57,237.20 367.71,237.24 367.84,237.15 367.97,237.59 368.10,237.52 368.23,237.39 368.37,237.45 368.50,237.29 368.63,237.62 368.76,238.16 368.90,237.59 369.03,237.88 369.16,237.70 369.29,238.03 369.42,237.98 369.56,237.87 369.69,237.56 369.82,237.86 369.95,238.26 370.09,237.97 370.22,238.18 370.35,237.97 370.48,237.68 370.61,238.20 370.75,238.20 370.88,238.02 371.01,238.08 371.14,238.24 371.28,238.07 371.41,238.29 371.54,238.18 371.67,237.73 371.80,238.22 371.94,238.13 372.07,238.09 372.20,238.37 372.33,238.19 372.47,238.43 372.60,238.56 372.73,238.36 372.86,238.00 372.99,238.19 373.13,238.55 373.26,238.31 373.39,238.19 373.52,238.36 373.66,238.49 373.79,238.45 373.92,238.54 374.05,238.22 374.18,238.35 374.32,238.36 374.45,238.41 374.58,237.97 374.71,238.38 374.85,238.14 374.98,238.74 375.11,238.78 375.24,238.81 375.37,238.62 375.51,238.35 375.64,238.66 375.77,238.41 375.90,238.59 376.04,238.27 376.17,238.34 376.30,238.57 376.43,238.85 376.56,238.46 376.70,238.96 376.83,239.07 376.96,238.19 377.09,238.46 377.23,238.26 377.36,238.44 377.49,238.35 377.62,238.45 377.75,238.68 377.89,238.67 378.02,238.52 378.15,238.46 378.28,238.49 378.42,238.48 378.55,238.58 378.68,238.45 378.81,238.55 378.94,238.16 379.08,238.61 379.21,238.81 379.34,238.46 379.47,238.11 379.60,238.71 379.74,238.33 379.87,237.75 380.00,238.34 380.13,238.51 380.27,238.45 380.40,238.63 380.53,238.48 380.66,238.36 380.79,237.89 380.93,238.06 381.06,238.33 381.19,238.42 381.32,238.03 381.46,238.10 381.59,238.32 381.72,237.78 381.85,237.75 381.98,238.10 382.12,238.17 382.25,237.99 382.38,237.56 382.51,238.03 382.65,237.70 382.78,238.09 382.91,237.88 383.04,237.91 383.17,237.94 383.31,237.63 383.44,237.87 383.57,237.89 383.70,237.63 383.84,237.75 383.97,237.24 384.10,237.47 384.23,237.22 384.36,236.82 384.50,236.88 384.63,236.63 384.76,236.44 384.89,236.39 385.03,236.37 385.16,235.82 385.29,235.62 385.42,234.95 385.55,234.92 385.69,234.72 385.82,234.18 385.95,233.59 386.08,232.81 386.22,232.13 386.35,231.75 386.48,230.96 386.61,230.55 386.74,230.74 386.88,230.22 387.01,230.87 387.14,230.38 387.27,231.11 387.41,231.14 387.54,231.84 387.67,231.95 387.80,232.53 387.93,232.77 388.07,232.92 388.20,233.29 388.33,233.60 388.46,233.18 388.60,233.47 388.73,233.21 388.86,233.04 388.99,233.32 389.12,232.11 389.26,232.11 389.39,231.46 389.52,231.32 389.65,230.79 389.79,231.03 389.92,229.55 390.05,229.04 390.18,228.01 390.31,226.60 390.45,225.68 390.58,224.73 390.71,223.15 390.84,221.89 390.98,220.73 391.11,219.20 391.24,218.47 391.37,218.13 391.50,217.94 391.64,217.78 391.77,218.43 391.90,219.31 392.03,220.39 392.17,221.82 392.30,223.00 392.43,224.34 392.56,225.28 392.69,226.58 392.83,228.00 392.96,228.61 393.09,229.95 393.22,230.59 393.36,231.31 393.49,232.30 393.62,232.61 393.75,233.11 393.88,233.63 394.02,234.22 394.15,235.20 394.28,234.48 394.41,235.26 394.55,235.49 394.68,236.01 394.81,235.95 394.94,235.71 395.07,236.73 395.21,236.38 395.34,236.76 395.47,236.63 395.60,236.82 395.74,237.08 395.87,237.49 396.00,237.60 396.13,237.38 396.26,237.72 396.40,237.61 396.53,237.80 396.66,237.88 396.79,238.06 396.93,237.85 397.06,238.02 397.19,238.15 397.32,238.18 397.45,238.04 397.59,238.64 397.72,238.21 397.85,238.52 397.98,238.44 398.12,238.70 398.25,237.99 398.38,238.95 398.51,238.49 398.64,238.30 398.78,238.63 398.91,239.12 399.04,238.77 399.17,238.42 399.30,238.61 399.44,239.03 399.57,238.45 399.70,238.74 399.83,238.74 399.97,239.30 400.10,238.78 400.23,239.15 400.36,238.73 400.49,238.72 400.63,239.14 400.76,239.07 400.89,238.57 401.02,239.11 401.16,239.12 401.29,238.86 401.42,239.06 401.55,239.08 401.68,238.93 401.82,238.92 401.95,238.91 402.08,239.01 402.21,238.79 402.35,239.09 402.48,238.78 402.61,239.13 402.74,239.11 402.87,238.91 403.01,239.33 403.14,239.58 403.27,239.45 403.40,238.87 403.54,239.46 403.67,239.24 403.80,239.18 403.93,239.07 404.06,239.21 404.20,239.52 404.33,239.34 404.46,239.14 404.59,239.09 404.73,239.15 404.86,239.38 404.99,239.66 405.12,239.03 405.25,239.27 405.39,239.19 405.52,239.11 405.65,239.37 405.78,239.40 405.92,238.98 406.05,239.07 406.18,239.56 406.31,239.37 406.44,239.41 406.58,239.19 406.71,239.22 406.84,239.41 406.97,239.20 407.11,239.07 407.24,239.31 407.37,239.50 407.50,239.08 407.63,239.54 407.77,239.46 407.90,239.11 408.03,239.30 408.16,239.28 408.30,239.43 408.43,239.43 408.56,238.99 408.69,238.97 408.82,239.48 408.96,239.27 409.09,239.33 409.22,239.30 409.35,239.54 409.49,238.93 409.62,239.41 409.75,238.97 409.88,239.29 410.01,239.39 410.15,238.77 410.28,239.13 410.41,238.94 410.54,238.90 410.68,238.93 410.81,238.64 410.94,238.61 411.07,238.90 411.20,238.88 411.34,238.51 411.47,238.24 411.60,238.99 411.73,238.66 411.87,238.43 412.00,238.07 412.13,238.11 412.26,238.25 412.39,237.96 412.53,238.51 412.66,238.19 412.79,238.27 412.92,238.01 413.06,238.09 413.19,238.18 413.32,238.48 413.45,238.44 413.58,238.51 413.72,238.72 413.85,238.78 413.98,239.13 414.11,238.83 414.25,238.72 414.38,239.00 414.51,239.38 414.64,238.99 414.77,239.17 414.91,239.13 415.04,239.34 415.17,239.34 415.30,239.15 415.44,239.30 415.57,239.59 415.70,239.65 415.83,239.64 415.96,239.65 416.10,239.41 416.23,239.42 416.36,239.72 416.49,239.29 416.63,239.55 416.76,239.17 416.89,239.51 417.02,239.45 417.15,239.36 417.29,239.76 417.42,239.48 417.55,239.57 417.68,239.61 417.82,239.52 417.95,239.99 418.08,239.59 418.21,239.75 418.34,239.43 418.48,239.62 418.61,239.66 418.74,239.67 418.87,239.62 419.00,239.79 419.14,240.10 419.27,239.74 419.40,239.75 419.53,239.70 419.67,240.34 419.80,240.14 419.93,239.92 420.06,239.96 420.19,239.66 420.33,239.79 420.46,239.87 420.59,239.86 420.72,239.65 420.86,239.67 420.99,239.96 421.12,239.92 421.25,239.40 421.38,239.88 421.52,240.14 421.65,239.73 421.78,239.93 421.91,239.57 422.05,240.07 422.18,239.65 422.31,239.63 422.44,239.83 422.57,240.42 422.71,239.78 422.84,239.64 422.97,240.02 423.10,239.97 423.24,240.29 423.37,239.66 423.50,239.59 423.63,239.87 423.76,240.03 423.90,240.02 424.03,240.19 424.16,239.63 424.29,239.78 424.43,239.93 424.56,240.15 424.69,240.07 424.82,239.88 424.95,239.76 425.09,240.17 425.22,240.19 425.35,240.57 425.48,239.95 425.62,240.35 425.75,239.74 425.88,239.89 426.01,239.86 426.14,239.91 426.28,239.82 426.41,239.90 426.54,240.01 426.67,239.93 426.81,240.17 426.94,240.01 427.07,240.03 427.20,240.35 427.33,240.11 427.47,240.07 427.60,240.04 427.73,240.06 427.86,240.17 428.00,239.88 428.13,240.30 428.26,240.40 428.39,240.31 428.52,239.96 428.66,239.72 428.79,239.97 428.92,240.10 429.05,240.25 429.19,240.04 429.32,240.01 429.45,240.41 429.58,239.94 429.71,240.31 429.85,240.28 429.98,239.80 430.11,240.15 430.24,239.97 430.38,239.89 430.51,239.70 430.64,239.76 430.77,240.19 430.90,240.01 431.04,240.16 431.17,239.87 431.30,240.03 431.43,240.04 431.57,239.77 431.70,239.75 431.83,240.20 431.96,240.14 432.09,239.90 432.23,240.08 432.36,240.25 432.49,240.50 432.62,239.91 432.76,240.24 432.89,240.56 433.02,240.12 433.15,240.42 433.28,239.54 433.42,240.41 433.55,240.09 433.68,239.69 433.81,240.26 433.95,240.31 434.08,240.34 434.21,240.34 434.34,240.07 434.47,239.91 434.61,239.96 434.74,240.05 434.87,240.14 435.00,239.94 435.14,240.04 435.27,240.21 435.40,240.09 435.53,240.50 435.66,240.46 435.80,239.73 435.93,239.84 436.06,239.67 436.19,239.68 436.33,240.03 436.46,239.68 436.59,239.65 436.72,239.79 436.85,240.00 436.99,239.72 437.12,239.69 437.25,239.93 437.38,239.80 437.51,239.75 437.65,239.82 437.78,239.35 437.91,239.56 438.04,239.32 438.18,239.62 438.31,239.51 438.44,239.05 438.57,239.49 438.70,238.88 438.84,239.31 438.97,239.03 439.10,238.72 439.23,238.60 439.37,238.71 439.50,238.72 439.63,238.52 439.76,238.76 439.89,238.32 440.03,238.61 440.16,238.62 440.29,238.25 440.42,238.76 440.56,238.47 440.69,238.26 440.82,238.74 440.95,238.90 441.08,239.23 441.22,239.00 441.35,239.51 441.48,239.58 441.61,239.58 441.75,239.70 441.88,239.56 442.01,239.43 442.14,239.75 442.27,239.88 442.41,239.78 442.54,239.72 442.67,239.48 442.80,240.01 442.94,239.98 443.07,239.66 443.20,240.00 443.33,240.17 443.46,240.02 443.60,240.24 443.73,240.26 443.86,239.80 443.99,240.08 444.13,240.27 444.26,240.38 444.39,240.51 444.52,239.81 444.65,240.22 444.79,240.41 444.92,240.54 445.05,240.65 445.18,240.10 445.32,240.23 445.45,240.10 445.58,240.51 445.71,240.06 445.84,240.62 445.98,240.57 446.11,240.49 446.24,239.92 446.37,240.25 446.51,240.57 446.64,240.11 446.77,240.37 446.90,240.41 447.03,240.63 447.17,240.51 447.30,240.52 447.43,240.37 447.56,240.47 447.70,240.45 447.83,240.64 447.96,240.45 448.09,240.72 448.22,240.13 448.36,240.76 448.49,240.47 448.62,240.75 448.75,240.53 448.89,240.70 449.02,240.84 449.15,240.39 449.28,240.53 449.41,240.48 449.55,240.57 449.68,240.17 449.81,240.49 449.94,240.47 450.08,240.36 450.21,240.49 450.34,240.20 450.47,240.84 450.60,240.63 450.74,240.94 450.87,240.35 451.00,240.28 451.13,240.60 451.27,240.18 451.40,240.59 451.53,240.39 451.66,240.47 451.79,240.60 451.93,240.55 452.06,240.95 452.19,240.68 452.32,240.26 452.46,240.76 452.59,240.25 452.72,240.56 452.85,240.27 452.98,240.37 453.12,240.83 453.25,240.43 453.38,240.41 453.51,240.43 453.65,240.48 453.78,240.86 453.91,240.29 454.04,240.28 454.17,240.67 454.31,240.20 454.44,240.47 454.57,240.79 454.70,240.55 454.84,240.44 454.97,240.39 455.10,240.35 455.23,240.42 455.36,240.57 455.50,240.82 455.63,240.75 455.76,240.42 455.89,240.38 456.03,240.69 456.16,240.15 456.29,240.45 456.42,240.47 456.55,240.30 456.69,240.32 456.82,240.61 456.95,240.18 457.08,240.34 457.21,240.39 457.35,240.55 457.48,240.24 457.61,240.77 457.74,240.46 457.88,240.47 458.01,240.45 458.14,240.38 458.27,240.31 458.40,240.77 458.54,240.57 458.67,240.50 458.80,240.74 458.93,240.36 459.07,240.65 459.20,240.52 459.33,240.32 459.46,240.68 459.59,240.19 459.73,240.65 459.86,240.32 459.99,240.59 460.12,240.80 460.26,240.62 460.39,240.37 460.52,240.49 460.65,240.42 460.78,240.24 460.92,240.25 461.05,240.50 461.18,240.60 461.31,240.10 461.45,240.47 461.58,240.59 461.71,240.50 461.84,240.26 461.97,240.69 462.11,240.20 462.24,240.60 462.37,240.81 462.50,240.02 462.64,240.51 462.77,240.52 462.90,240.50 463.03,240.28 463.16,240.37 463.30,240.13 463.43,240.46 463.56,240.54 463.69,240.28 463.83,240.22 463.96,240.31 464.09,240.41 464.22,240.42 464.35,240.38 464.49,240.41 464.62,240.11 464.75,239.80 464.88,240.51 465.02,240.68 465.15,240.06 465.28,240.22 465.41,240.42 465.54,240.56 465.68,240.48 465.81,240.61 465.94,240.32 466.07,240.41 466.21,240.40 466.34,240.21 466.47,240.56 466.60,240.43 466.73,240.49 466.87,240.19 467.00,240.49 467.13,240.03 467.26,240.33 467.40,239.67 467.53,240.01 467.66,240.37 467.79,240.10 467.92,240.23 468.06,239.83 468.19,240.50 468.32,240.28 468.45,240.13 468.59,240.21 468.72,240.18 468.85,240.40 468.98,240.12 469.11,239.74 469.25,239.99 469.38,240.30 469.51,240.13 469.64,239.89 469.78,240.09 469.91,239.96 470.04,240.05 470.17,239.55 470.30,239.67 470.44,239.98 470.57,239.76 470.70,239.86 470.83,240.17 470.97,239.65 471.10,239.73 471.23,239.52 471.36,239.47 471.49,239.55 471.63,239.21 471.76,239.02 471.89,239.72 472.02,239.35 472.16,239.56 472.29,239.29 472.42,239.23 472.55,239.28 472.68,239.22 472.82,238.73 472.95,239.17 473.08,238.62 473.21,238.78 473.35,239.18 473.48,238.54 473.61,238.77 473.74,238.21 473.87,238.28 474.01,238.02 474.14,237.94 474.27,237.49 474.40,237.29 474.54,237.35 474.67,236.72 474.80,236.63 474.93,236.67 475.06,236.10 475.20,235.71 475.33,235.30 475.46,235.15 475.59,234.58 475.73,234.18 475.86,233.53 475.99,233.31 476.12,232.09 476.25,230.93 476.39,230.43 476.52,229.33 476.65,228.14 476.78,226.36 476.91,225.37 477.05,223.32 477.18,221.30 477.31,218.72 477.44,216.70 477.58,213.96 477.71,211.55 477.84,208.52 477.97,205.95 478.10,204.32 478.24,202.88 478.37,202.80 478.50,203.02 478.63,204.60 478.77,206.62 478.90,209.13 479.03,211.70 479.16,214.34 479.29,217.10 479.43,219.41 479.56,221.77 479.69,223.65 479.82,224.98 479.96,226.99 480.09,228.66 480.22,229.62 480.35,230.73 480.48,231.62 480.62,232.24 480.75,232.77 480.88,233.86 481.01,234.48 481.15,234.88 481.28,235.30 481.41,235.69 481.54,235.97 481.67,236.36 481.81,236.60 481.94,236.93 482.07,236.90 482.20,237.19 482.34,237.65 482.47,237.64 482.60,237.36 482.73,238.06 482.86,237.69 483.00,238.72 483.13,238.59 483.26,238.69 483.39,238.51 483.53,238.51 483.66,238.79 483.79,238.93 483.92,238.84 484.05,239.11 484.19,239.29 484.32,239.34 484.45,239.05 484.58,238.87 484.72,239.38 484.85,239.29 484.98,239.57 485.11,239.87 485.24,239.91 485.38,239.67 485.51,239.88 485.64,240.02 485.77,239.72 485.91,239.80 486.04,239.95 486.17,239.79 486.30,239.72 486.43,239.70 486.57,239.88 486.70,239.77 486.83,240.09 486.96,239.88 487.10,240.27 487.23,240.24 487.36,239.74 487.49,240.25 487.62,239.95 487.76,240.34 487.89,240.17 488.02,240.07 488.15,240.23 488.29,239.99 488.42,240.19 488.55,240.21 488.68,240.11 488.81,240.23 488.95,239.95 489.08,240.28 489.21,239.92 489.34,240.31 489.48,240.29 489.61,240.35 489.74,240.09 489.87,240.85 490.00,240.17 490.14,240.25 490.27,240.06 490.40,240.53 490.53,240.13 490.67,240.44 490.80,240.04 490.93,240.30 491.06,240.16 491.19,240.43 491.33,240.17 491.46,240.05 491.59,240.33 491.72,239.98 491.86,240.03 491.99,240.38 492.12,239.83 492.25,240.37 492.38,240.12 492.52,240.01 492.65,240.24 492.78,240.31 492.91,240.05 493.05,240.12 493.18,240.31 493.31,240.28 493.44,240.10 493.57,239.93 493.71,239.88 493.84,239.93 493.97,240.17 494.10,240.12 494.24,240.03 494.37,240.23 494.50,239.84 494.63,239.79 494.76,239.74 494.90,240.18 495.03,239.30 495.16,239.74 495.29,239.71 495.42,239.57 495.56,239.98 495.69,239.67 495.82,239.52 495.95,239.10 496.09,239.31 496.22,239.06 496.35,239.07 496.48,239.03 496.61,238.83 496.75,239.01 496.88,239.17 497.01,239.01 497.14,238.83 497.28,238.38 497.41,239.02 497.54,239.05 497.67,238.83 497.80,238.82 497.94,239.12 498.07,238.89 498.20,239.30 498.33,238.99 498.47,239.10 498.60,239.37 498.73,239.14 498.86,239.51 498.99,239.69 499.13,239.37 499.26,239.90 499.39,239.65 499.52,239.93 499.66,239.91 499.79,239.82 499.92,239.84 500.05,239.64 500.18,239.88 500.32,239.90 500.45,240.43 500.58,240.33 500.71,239.86 500.85,240.33 500.98,240.24 501.11,240.13 501.24,240.32 501.37,240.41 501.51,240.14 501.64,240.22 501.77,240.32 501.90,240.10 502.04,240.35 502.17,240.30 502.30,240.19 502.43,240.16 502.56,240.41 502.70,240.53 502.83,240.42 502.96,240.18 503.09,240.52 503.23,240.40 503.36,240.49 503.49,240.61 503.62,240.19 503.75,240.34 503.89,240.25 504.02,240.19 504.15,240.78 504.28,240.56 504.42,240.00 504.55,240.45 504.68,240.24 504.81,240.59 504.94,240.36 505.08,240.30 505.21,240.36 505.34,240.40 505.47,240.32 505.61,240.25 505.74,240.26 505.87,240.38 506.00,240.03 506.13,240.24 506.27,240.20 506.40,240.10 506.53,240.33 506.66,239.89 506.80,240.05 506.93,239.92 507.06,240.18 507.19,239.94 507.32,240.01 507.46,240.04 507.59,239.58 507.72,239.96 507.85,239.66 507.99,239.71 508.12,239.68 508.25,239.81 508.38,239.73 508.51,239.87 508.65,239.48 508.78,239.28 508.91,239.21 509.04,239.38 509.18,239.52 509.31,239.21 509.44,238.98 509.57,239.12 509.70,239.10 509.84,239.05 509.97,238.90 510.10,238.55 510.23,239.00 510.37,239.37 510.50,239.25 510.63,238.82 510.76,239.34 510.89,239.02 511.03,239.88 511.16,239.58 511.29,239.36 511.42,239.83 511.56,239.57 511.69,239.90 511.82,239.85 511.95,239.65 512.08,240.08 512.22,239.71 512.35,240.30 512.48,240.07 512.61,239.88 512.75,239.76 512.88,240.49 513.01,240.48 513.14,239.95 513.27,240.57 513.41,240.29 513.54,240.23 513.67,240.27 513.80,240.25 513.94,240.61 514.07,240.37 514.20,239.97 514.33,240.79 514.46,240.55 514.60,240.16 514.73,240.32 514.86,240.21 514.99,240.41 515.12,240.49 515.26,240.47 515.39,240.30 515.52,240.26 515.65,240.61 515.79,240.42 515.92,240.90 516.05,240.28 516.18,240.61 516.31,240.46 516.45,240.30 516.58,240.73 516.71,240.48 516.84,240.27 516.98,240.39 517.11,240.67 517.24,240.21 517.37,240.74 517.50,240.60 517.64,240.40 517.77,240.74 517.90,240.81 518.03,240.58 518.17,240.49 518.30,240.83 518.43,240.75 518.56,240.25 518.69,240.40 518.83,240.39 518.96,240.35 519.09,240.12 519.22,240.61 519.36,240.44 519.49,240.44 519.62,240.70 519.75,240.29 519.88,240.39 520.02,240.45 520.15,240.30 520.28,240.36 520.41,240.54 520.55,240.37 520.68,240.64 520.81,240.20 520.94,240.39 521.07,240.04 521.21,240.30 521.34,240.17 521.47,240.59 521.60,240.45 521.74,240.39 521.87,240.66 522.00,240.56 522.13,240.40 522.26,240.09 522.40,239.92 522.53,240.20 522.66,240.12 522.79,240.04 522.93,240.09 523.06,239.79 523.19,240.42 523.32,239.86 523.45,239.93 523.59,240.17 523.72,239.69 523.85,240.19 523.98,240.16 524.12,239.87 524.25,239.68 524.38,239.77 524.51,239.45 524.64,240.08 524.78,239.76 524.91,239.55 525.04,239.47 525.17,239.72 525.31,239.86 525.44,239.22 525.57,239.30 525.70,238.98 525.83,239.40 525.97,239.21 526.10,239.55 526.23,238.94 526.36,238.76 526.50,238.57 526.63,238.75 526.76,238.07 526.89,238.38 527.02,238.07 527.16,237.68 527.29,237.35 527.42,237.47 527.55,237.32 527.69,236.50 527.82,236.33 527.95,236.20 528.08,235.32 528.21,235.02 528.35,234.48 528.48,234.43 528.61,234.26 528.74,234.11 528.88,234.07 529.01,234.00 529.14,234.24 529.27,234.54 529.40,235.12 529.54,235.11 529.67,235.26 529.80,235.76 529.93,235.89 530.07,235.73 530.20,235.83 530.33,236.14 530.46,236.08 530.59,235.79 530.73,235.95 530.86,235.79 530.99,235.88 531.12,235.30 531.26,235.45 531.39,235.11 531.52,234.51 531.65,234.61 531.78,234.21 531.92,233.31 532.05,233.52 532.18,232.33 532.31,231.77 532.45,231.23 532.58,230.72 532.71,229.87 532.84,228.84 532.97,228.19 533.11,226.97 533.24,226.10 533.37,225.30 533.50,223.64 533.64,221.99 533.77,221.46 533.90,220.49 534.03,220.09 534.16,219.68 534.30,219.26 534.43,219.43 534.56,220.03 534.69,220.71 534.82,221.06 534.96,222.81 535.09,223.70 535.22,224.81 535.35,226.00 535.49,226.82 535.62,228.07 535.75,229.28 535.88,230.21 536.01,230.92 536.15,231.53 536.28,232.12 536.41,233.22 536.54,233.63 536.68,233.95 536.81,234.06 536.94,234.77 537.07,234.94 537.20,235.97 537.34,236.07 537.47,236.17 537.60,236.54 537.73,237.40 537.87,237.33 538.00,236.98 538.13,237.43 538.26,237.37 538.39,237.42 538.53,237.98 538.66,238.59 538.79,238.53 538.92,238.32 539.06,238.34 539.19,238.56 539.32,238.83 539.45,238.38 539.58,238.37 539.72,239.25 539.85,238.97 539.98,239.32 540.11,239.08 540.25,239.40 540.38,239.00 540.51,239.28 540.64,239.55 540.77,239.48 540.91,239.19 541.04,239.52 541.17,239.21 541.30,239.07 541.44,239.52 541.57,239.73 541.70,239.63 541.83,239.19 541.96,239.67 542.10,239.64 542.23,239.40 542.36,238.97 542.49,239.74 542.63,239.71 542.76,239.63 542.89,239.14 543.02,239.19 543.15,239.74 543.29,239.68 543.42,239.61 543.55,239.44 543.68,239.56 543.82,239.34 543.95,239.37 544.08,239.23 544.21,239.45 544.34,239.28 544.48,239.55 544.61,239.47 544.74,239.10 544.87,239.64 545.01,238.95 545.14,239.24 545.27,239.33 545.40,239.32 545.53,238.49 545.67,239.12 545.80,239.10 545.93,239.06 546.06,238.17 546.20,238.42 546.33,238.44 546.46,238.25 546.59,238.51 546.72,237.93 546.86,238.20 546.99,237.89 547.12,237.27 547.25,237.17 547.39,237.07 547.52,236.95 547.65,236.88 547.78,236.33 547.91,236.25 548.05,235.34 548.18,234.63 548.31,234.79 548.44,234.48 548.58,233.77 548.71,233.05 548.84,232.73 548.97,232.38 549.10,231.19 549.24,230.26 549.37,229.41 549.50,229.18 549.63,227.89 549.77,227.22 549.90,226.60 550.03,225.92 550.16,224.98 550.29,225.08 550.43,224.95 550.56,224.98 550.69,225.41 550.82,225.57 550.96,226.33 551.09,226.98 551.22,228.09 551.35,228.64 551.48,229.73 551.62,230.23 551.75,231.25 551.88,231.94 552.01,232.70 552.15,233.39 552.28,233.91 552.41,234.44 552.54,234.53 552.67,235.67 552.81,235.69 552.94,236.14 553.07,236.35 553.20,237.05 553.34,236.91 553.47,237.47 553.60,237.85 553.73,238.16 553.86,238.25 554.00,238.30 554.13,238.06 554.26,238.76 554.39,238.87 554.52,238.92 554.66,239.03 554.79,238.98 554.92,238.95 555.05,239.39 555.19,239.52 555.32,239.09 555.45,239.60 555.58,239.52 555.71,239.73 555.85,239.65 555.98,239.90 556.11,239.93 556.24,239.95 556.38,239.50 556.51,240.03 556.64,239.90 556.77,239.69 556.90,240.13 557.04,239.71 557.17,240.24 557.30,240.45 557.43,240.00 557.57,240.34 557.70,240.26 557.83,240.33 557.96,239.92 558.09,240.37 558.23,240.29 558.36,240.45 558.49,240.31 558.62,240.57 558.76,240.41 558.89,240.52 559.02,240.68 559.15,240.44 559.28,240.64 559.42,240.48 559.55,240.56 559.68,240.35 559.81,240.65 559.95,240.76 560.08,240.49 560.21,240.69 560.34,240.62 560.47,240.30 560.61,240.63 560.74,240.85 560.87,240.47 561.00,240.20 561.14,240.64 561.27,240.47 561.40,241.03 561.53,240.61 561.66,240.63 561.80,240.50 561.93,240.70 562.06,240.53 562.19,240.47 562.33,240.66" fill="none" stroke="#0A0AF5" stroke-width="1.5" stroke-linejoin="round"/>
<polyline points="350.91,250.75 351.05,251.20 351.18,250.66 351.31,250.89 351.44,250.76 351.58,250.60 351.71,251.26 351.84,250.44 351.97,251.20 352.10,250.58 352.24,250.90 352.37,251.36 352.50,250.41 352.63,250.56 352.77,251.14 352.90,250.89 353.03,250.72 353.16,250.83 353.29,250.62 353.43,250.85 353.56,251.14 353.69,250.72 353.82,250.83 353.96,251.06 354.09,251.23 354.22,250.67 354.35,250.85 354.48,250.66 354.62,250.64 354.75,250.69 354.88,250.63 355.01,250.39 355.15,250.32 355.28,250.59 355.41,250.77 355.54,250.99 355.67,250.60 355.81,250.67 355.94,250.84 356.07,250.84 356.20,250.65 356.34,250.65 356.47,251.05 356.60,250.55 356.73,250.50 356.86,250.24 357.00,250.66 357.13,250.49 357.26,250.94 357.39,250.43 357.53,250.65 357.66,250.65 357.79,250.77 357.92,250.10 358.05,250.68 358.19,250.31 358.32,250.24 358.45,250.15 358.58,250.08 358.72,250.04 358.85,249.55 358.98,250.10 359.11,249.94 359.24,249.64 359.38,249.75 359.51,250.16 359.64,249.65 359.77,249.37 359.90,249.70 360.04,249.03 360.17,249.01 360.30,248.76 360.43,248.64 360.57,248.64 360.70,248.37 360.83,247.82 360.96,247.64 361.09,247.34 361.23,246.84 361.36,246.47 361.49,245.80 361.62,245.18 361.76,244.63 361.89,243.54 362.02,242.83 362.15,241.43 362.28,239.68 362.42,237.67 362.55,234.84 362.68,230.69 362.81,223.86 362.95,210.81 363.08,180.59 363.21,150.00 363.34,150.00 363.47,150.00 363.61,150.00 363.74,195.58 363.87,216.79 364.00,226.92 364.14,233.13 364.27,236.40 364.40,238.93 364.53,240.51 364.66,242.19 364.80,243.72 364.93,244.29 365.06,245.24 365.19,245.96 365.33,246.42 365.46,247.12 365.59,247.28 365.72,247.72 365.85,247.81 365.99,248.81 366.12,248.57 366.25,248.77 366.38,249.25 366.52,249.04 366.65,249.31 366.78,249.30 366.91,249.61 367.04,249.65 367.18,249.96 367.31,249.93 367.44,249.92 367.57,250.08 367.71,250.20 367.84,250.19 367.97,250.57 368.10,250.58 368.23,250.53 368.37,250.30 368.50,250.71 368.63,250.38 368.76,250.74 368.90,250.75 369.03,250.66 369.16,250.65 369.29,250.71 369.42,251.33 369.56,250.87 369.69,250.91 369.82,251.19 369.95,251.10 370.09,251.26 370.22,250.80 370.35,250.85 370.48,251.81 370.61,251.12 370.75,251.09 370.88,251.20 371.01,251.40 371.14,250.95 371.28,251.28 371.41,251.23 371.54,251.40 371.67,251.30 371.80,251.17 371.94,251.11 372.07,250.79 372.20,251.53 372.33,251.02 372.47,251.26 372.60,251.71 372.73,251.28 372.86,251.51 372.99,251.34 373.13,251.55 373.26,251.41 373.39,251.31 373.52,251.71 373.66,251.38 373.79,251.16 373.92,251.38 374.05,251.57 374.18,251.23 374.32,251.64 374.45,251.64 374.58,251.93 374.71,251.35 374.85,251.63 374.98,251.15 375.11,251.41 375.24,251.53 375.37,251.60 375.51,251.51 375.64,251.50 375.77,251.40 375.90,251.43 376.04,251.60 376.17,251.65 376.30,251.67 376.43,251.75 376.56,251.79 376.70,251.16 376.83,251.43 376.96,251.51 377.09,251.41 377.23,251.77 377.36,251.71 377.49,251.53 377.62,251.57 377.75,251.81 377.89,251.47 378.02,251.48 378.15,251.73 378.28,251.64 378.42,251.84 378.55,251.61 378.68,251.69 378.81,251.41 378.94,251.32 379.08,251.52 379.21,250.95 379.34,251.59 379.47,251.70 379.60,251.51 379.74,251.44 379.87,251.70 380.00,251.46 380.13,251.66 380.27,251.91 380.40,251.58 380.53,251.62 380.66,251.51 380.79,251.44 380.93,251.43 381.06,251.37 381.19,251.56 381.32,250.98 381.46,251.24 381.59,251.41 381.72,251.07 381.85,251.19 381.98,251.04 382.12,251.25 382.25,251.30 382.38,251.39 382.51,251.14 382.65,250.84 382.78,251.00 382.91,251.01 383.04,251.13 383.17,250.32 383.31,250.78 383.44,250.24 383.57,250.69 383.70,250.54 383.84,250.44 383.97,250.41 384.10,250.18 384.23,249.82 384.36,249.87 384.50,249.87 384.63,249.39 384.76,249.19 384.89,248.68 385.03,248.88 385.16,248.20 385.29,247.77 385.42,247.40 385.55,246.82 385.69,246.39 385.82,246.09 385.95,245.31 386.08,244.70 386.22,243.95 386.35,242.70 386.48,242.30 386.61,241.96 386.74,241.76 386.88,240.85 387.01,240.97 387.14,241.69 387.27,242.00 387.41,242.43 387.54,243.30 387.67,243.62 387.80,243.83 387.93,244.74 388.07,245.14 388.20,245.53 388.33,245.80 388.46,245.77 388.60,245.74 388.73,245.64 388.86,245.36 388.99,245.46 389.12,245.55 389.26,245.20 389.39,245.13 389.52,244.24 389.65,243.38 389.79,243.32 389.92,242.66 390.05,241.40 390.18,240.40 390.31,239.76 390.45,238.78 390.58,237.20 390.71,236.12 390.84,234.77 390.98,233.48 391.11,232.37 391.24,231.80 391.37,231.12 391.50,230.83 391.64,230.59 391.77,232.03 391.90,232.32 392.03,233.58 392.17,234.61 392.30,236.25 392.43,237.19 392.56,238.82 392.69,239.98 392.83,241.34 392.96,241.96 393.09,242.99 393.22,243.92 393.36,245.17 393.49,245.09 393.62,246.07 393.75,246.41 393.88,247.10 394.02,247.61 394.15,247.89 394.28,248.27 394.41,248.59 394.55,248.70 394.68,249.03 394.81,248.97 394.94,249.46 395.07,249.57 395.21,249.85 395.34,250.23 395.47,250.30 395.60,250.46 395.74,250.72 395.87,250.11 396.00,250.81 396.13,250.82 396.26,250.90 396.40,250.74 396.53,251.21 396.66,251.41 396.79,251.46 396.93,251.30 397.06,251.51 397.19,251.63 397.32,251.88 397.45,251.81 397.59,251.63 397.72,251.67 397.85,251.73 397.98,251.79 398.12,251.68 398.25,251.98 398.38,251.71 398.51,251.73 398.64,252.00 398.78,251.84 398.91,251.94 399.04,251.59 399.17,252.22 399.30,252.08 399.44,252.08 399.57,252.23 399.70,252.20 399.83,252.03 399.97,252.62 400.10,252.13 400.23,252.45 400.36,252.65 400.49,252.16 400.63,252.33 400.76,252.15 400.89,252.56 401.02,252.29 401.16,252.15 401.29,252.67 401.42,252.60 401.55,252.24 401.68,252.69 401.82,252.50 401.95,253.04 402.08,252.84 402.21,252.38 402.35,252.45 402.48,252.34 402.61,252.56 402.74,252.56 402.87,252.71 403.01,252.59 403.14,252.27 403.27,252.42 403.40,252.90 403.54,252.85 403.67,252.59 403.80,252.60 403.93,252.61 404.06,252.66 404.20,252.31 404.33,252.86 404.46,252.54 404.59,252.72 404.73,252.16 404.86,252.75 404.99,252.99 405.12,252.25 405.25,253.04 405.39,252.83 405.52,252.58 405.65,252.41 405.78,252.99 405.92,252.81 406.05,252.88 406.18,252.71 406.31,252.60 406.44,252.96 406.58,252.58 406.71,252.97 406.84,252.43 406.97,252.59 407.11,252.48 407.24,253.07 407.37,252.42 407.50,252.55 407.63,252.93 407.77,252.84 407.90,253.25 408.03,253.18 408.16,252.92 408.30,252.93 408.43,252.40 408.56,252.59 408.69,252.70 408.82,252.73 408.96,252.47 409.09,252.55 409.22,252.55 409.35,252.94 409.49,252.79 409.62,252.62 409.75,252.61 409.88,252.71 410.01,252.47 410.15,252.54 410.28,252.20 410.41,252.67 410.54,252.69 410.68,252.52 410.81,252.50 410.94,252.42 411.07,252.72 411.20,252.27 411.34,251.89 411.47,251.88 411.60,252.18 411.73,252.19 411.87,252.06 412.00,252.01 412.13,251.83 412.26,251.43 412.39,251.57 412.53,251.33 412.66,251.64 412.79,251.46 412.92,251.81 413.06,251.81 413.19,251.50 413.32,252.14 413.45,252.22 413.58,251.85 413.72,252.25 413.85,252.45 413.98,252.32 414.11,252.63 414.25,252.56 414.38,252.81 414.51,252.68 414.64,252.66 414.77,252.85 414.91,252.95 415.04,252.88 415.17,252.78 415.30,252.74 415.44,252.86 415.57,252.85 415.70,253.05 415.83,253.07 415.96,253.04 416.10,253.08 416.23,253.14 416.36,253.45 416.49,253.40 416.63,253.04 416.76,253.27 416.89,253.13 417.02,253.19 417.15,253.18 417.29,253.11 417.42,252.97 417.55,252.75 417.68,253.32 417.82,253.54 417.95,253.11 418.08,253.42 418.21,253.25 418.34,253.40 418.48,253.18 418.61,253.31 418.74,253.35 418.87,252.87 419.00,253.43 419.14,253.37 419.27,252.88 419.40,253.55 419.53,253.42 419.67,253.47 419.80,253.52 419.93,253.36 420.06,253.23 420.19,253.37 420.33,253.38 420.46,253.95 420.59,253.88 420.72,253.39 420.86,253.41 420.99,253.57 421.12,253.63 421.25,253.37 421.38,253.31 421.52,253.94 421.65,253.76 421.78,253.21 421.91,253.18 422.05,253.38 422.18,253.61 422.31,253.69 422.44,253.50 422.57,253.24 422.71,253.64 422.84,253.72 422.97,253.60 423.10,253.50 423.24,253.73 423.37,253.61 423.50,253.38 423.63,253.65 423.76,253.36 423.90,253.85 424.03,253.75 424.16,253.44 424.29,253.70 424.43,253.93 424.56,253.21 424.69,253.64 424.82,254.03 424.95,253.35 425.09,253.65 425.22,253.39 425.35,253.69 425.48,253.19 425.62,253.36 425.75,253.60 425.88,253.75 426.01,253.81 426.14,253.82 426.28,253.98 426.41,253.89 426.54,253.90 426.67,253.54 426.81,253.72 426.94,254.44 427.07,254.25 427.20,253.95 427.33,253.93 427.47,253.99 427.60,253.70 427.73,254.21 427.86,253.71 428.00,253.78 428.13,254.27 428.26,253.36 428.39,253.89 428.52,253.44 428.66,253.68 428.79,253.80 428.92,253.75 429.05,253.87 429.19,253.67 429.32,253.82 429.45,253.59 429.58,253.76 429.71,253.55 429.85,254.00 429.98,253.58 430.11,254.01 430.24,253.77 430.38,253.80 430.51,254.13 430.64,253.90 430.77,253.47 430.90,253.99 431.04,253.25 431.17,253.94 431.30,253.80 431.43,253.59 431.57,253.91 431.70,253.83 431.83,254.33 431.96,253.81 432.09,254.32 432.23,254.20 432.36,253.77 432.49,253.73 432.62,254.20 432.76,253.88 432.89,253.94 433.02,253.86 433.15,253.65 433.28,253.83 433.42,253.70 433.55,253.58 433.68,253.85 433.81,254.30 433.95,254.26 434.08,253.89 434.21,253.93 434.34,254.01 434.47,254.19 434.61,253.96 434.74,253.78 434.87,253.80 435.00,254.12 435.14,254.44 435.27,253.73 435.40,253.41 435.53,254.02 435.66,253.82 435.80,253.86 435.93,254.08 436.06,253.81 436.19,253.49 436.33,253.34 436.46,253.74 436.59,253.48 436.72,253.77 436.85,253.40 436.99,253.58 437.12,253.30 437.25,253.51 437.38,253.46 437.51,253.65 437.65,253.77 437.78,253.39 437.91,253.20 438.04,253.76 438.18,253.36 438.31,253.35 438.44,253.28 438.57,253.40 438.70,253.23 438.84,253.09 438.97,253.04 439.10,252.61 439.23,252.60 439.37,252.64 439.50,252.63 439.63,252.57 439.76,252.60 439.89,252.52 440.03,252.42 440.16,252.17 440.29,252.74 440.42,252.72 440.56,252.46 440.69,252.82 440.82,252.87 440.95,252.88 441.08,252.54 441.22,252.76 441.35,252.97 441.48,253.54 441.61,253.07 441.75,253.26 441.88,253.16 442.01,253.37 442.14,253.61 442.27,253.14 442.41,253.03 442.54,253.85 442.67,253.76 442.80,253.66 442.94,254.05 443.07,254.09 443.20,253.46 443.33,253.91 443.46,254.23 443.60,253.87 443.73,253.97 443.86,254.28 443.99,254.03 444.13,253.85 444.26,253.99 444.39,253.87 444.52,254.30 444.65,253.82 444.79,254.44 444.92,253.87 445.05,254.26 445.18,253.94 445.32,254.21 445.45,254.52 445.58,254.55 445.71,254.61 445.84,254.31 445.98,254.37 446.11,254.41 446.24,254.50 446.37,254.29 446.51,254.63 446.64,254.47 446.77,254.66 446.90,254.52 447.03,254.58 447.17,254.28 447.30,254.36 447.43,254.17 447.56,254.40 447.70,254.43 447.83,254.67 447.96,254.21 448.09,255.21 448.22,254.47 448.36,254.78 448.49,254.73 448.62,253.96 448.75,254.45 448.89,254.84 449.02,253.99 449.15,254.69 449.28,254.32 449.41,254.42 449.55,254.58 449.68,254.12 449.81,254.58 449.94,254.39 450.08,254.37 450.21,254.69 450.34,255.31 450.47,254.62 450.60,254.67 450.74,254.54 450.87,254.39 451.00,254.61 451.13,254.89 451.27,254.60 451.40,254.75 451.53,254.51 451.66,255.11 451.79,254.20 451.93,254.69 452.06,254.68 452.19,254.62 452.32,254.32 452.46,254.32 452.59,254.51 452.72,254.59 452.85,254.30 452.98,254.33 453.12,254.69 453.25,254.80 453.38,254.45 453.51,254.42 453.65,254.41 453.78,255.12 453.91,254.68 454.04,254.56 454.17,254.80 454.31,255.08 454.44,254.83 454.57,254.26 454.70,254.56 454.84,254.49 454.97,254.50 455.10,254.31 455.23,254.49 455.36,254.34 455.50,254.65 455.63,254.59 455.76,254.27 455.89,254.20 456.03,254.47 456.16,254.72 456.29,254.69 456.42,254.57 456.55,253.85 456.69,254.47 456.82,254.42 456.95,254.51 457.08,254.31 457.21,254.48 457.35,254.43 457.48,255.18 457.61,254.73 457.74,254.54 457.88,254.57 458.01,254.55 458.14,254.62 458.27,254.49 458.40,254.57 458.54,254.80 458.67,254.76 458.80,254.64 458.93,254.87 459.07,254.62 459.20,254.35 459.33,254.18 459.46,254.42 459.59,254.55 459.73,254.66 459.86,254.80 459.99,254.44 460.12,254.39 460.26,254.73 460.39,254.82 460.52,254.45 460.65,254.63 460.78,254.86 460.92,254.63 461.05,254.54 461.18,254.09 461.31,254.84 461.45,254.69 461.58,254.57 461.71,254.44 461.84,254.27 461.97,254.52 462.11,254.52 462.24,254.78 462.37,254.27 462.50,254.85 462.64,254.54 462.77,254.79 462.90,254.31 463.03,254.60 463.16,254.79 463.30,254.54 463.43,254.19 463.56,254.44 463.69,254.62 463.83,254.19 463.96,254.18 464.09,254.55 464.22,254.28 464.35,254.64 464.49,254.22 464.62,254.07 464.75,254.30 464.88,254.80 465.02,254.27 465.15,254.46 465.28,254.51 465.41,254.24 465.54,254.68 465.68,254.47 465.81,254.53 465.94,254.05 466.07,254.03 466.21,253.80 466.34,254.36 466.47,254.34 466.60,254.55 466.73,254.71 466.87,254.32 467.00,254.30 467.13,254.45 467.26,254.68 467.40,254.15 467.53,254.46 467.66,254.26 467.79,254.23 467.92,254.47 468.06,254.11 468.19,254.03 468.32,254.40 468.45,254.24 468.59,254.17 468.72,254.18 468.85,254.31 468.98,254.10 469.11,254.34 469.25,254.24 469.38,254.46 469.51,254.39 469.64,254.28 469.78,254.03 469.91,254.08 470.04,253.90 470.17,254.63 470.30,253.93 470.44,254.08 470.57,254.22 470.70,253.60 470.83,253.68 470.97,253.75 471.10,253.58 471.23,253.48 471.36,253.61 471.49,253.97 471.63,253.80 471.76,253.60 471.89,253.56 472.02,253.13 472.16,253.60 472.29,253.48 472.42,253.09 472.55,253.31 472.68,253.15 472.82,253.00 472.95,252.82 473.08,252.80 473.21,252.65 473.35,252.86 473.48,252.74 473.61,252.61 473.74,252.38 473.87,252.19 474.01,252.59 474.14,251.57 474.27,252.07 474.40,251.70 474.54,251.43 474.67,251.08 474.80,250.90 474.93,250.41 475.06,250.07 475.20,250.01 475.33,249.31 475.46,249.44 475.59,249.05 475.73,247.53 475.86,247.37 475.99,247.12 476.12,246.37 476.25,245.51 476.39,244.64 476.52,243.63 476.65,242.44 476.78,241.25 476.91,239.27 477.05,237.66 477.18,235.10 477.31,233.18 477.44,230.48 477.58,228.43 477.71,225.93 477.84,222.88 477.97,220.08 478.10,218.42 478.24,217.23 478.37,216.90 478.50,217.64 478.63,218.99 478.77,220.24 478.90,223.59 479.03,225.85 479.16,228.54 479.29,231.58 479.43,233.63 479.56,235.59 479.69,237.57 479.82,239.63 479.96,241.36 480.09,242.85 480.22,243.68 480.35,244.66 480.48,246.04 480.62,246.40 480.75,247.54 480.88,247.90 481.01,248.47 481.15,248.87 481.28,249.44 481.41,249.67 481.54,249.99 481.67,250.43 481.81,250.62 481.94,251.09 482.07,251.29 482.20,251.43 482.34,251.65 482.47,251.83 482.60,252.43 482.73,252.20 482.86,252.22 483.00,252.42 483.13,252.75 483.26,252.67 483.39,252.79 483.53,252.87 483.66,253.05 483.79,253.18 483.92,253.28 484.05,252.89 484.19,253.09 484.32,252.81 484.45,253.62 484.58,253.75 484.72,253.84 484.85,253.64 484.98,253.91 485.11,253.69 485.24,253.72 485.38,253.45 485.51,253.65 485.64,253.73 485.77,254.10 485.91,254.29 486.04,253.85 486.17,254.07 486.30,254.07 486.43,253.87 486.57,253.69 486.70,253.92 486.83,253.79 486.96,254.06 487.10,254.12 487.23,254.13 487.36,254.15 487.49,254.31 487.62,254.02 487.76,254.44 487.89,253.89 488.02,254.28 488.15,254.37 488.29,254.12 488.42,253.96 488.55,254.46 488.68,254.18 488.81,254.51 488.95,254.52 489.08,254.36 489.21,254.37 489.34,254.59 489.48,254.47 489.61,254.19 489.74,254.43 489.87,254.53 490.00,254.45 490.14,254.46 490.27,254.39 490.40,254.40 490.53,254.22 490.67,254.11 490.80,254.68 490.93,254.29 491.06,254.48 491.19,254.10 491.33,254.47 491.46,254.25 491.59,255.08 491.72,254.21 491.86,254.21 491.99,254.63 492.12,254.67 492.25,253.95 492.38,254.46 492.52,254.59 492.65,254.12 492.78,254.53 492.91,254.26 493.05,254.14 493.18,254.27 493.31,254.23 493.44,254.01 493.57,254.79 493.71,254.18 493.84,254.09 493.97,254.42 494.10,254.19 494.24,254.47 494.37,254.09 494.50,254.19 494.63,254.09 494.76,254.07 494.90,253.94 495.03,253.92 495.16,254.25 495.29,253.68 495.42,253.65 495.56,253.63 495.69,253.76 495.82,253.66 495.95,253.70 496.09,253.13 496.22,253.40 496.35,253.24 496.48,253.14 496.61,253.18 496.75,252.66 496.88,253.10 497.01,253.05 497.14,252.69 497.28,252.98 497.41,253.35 497.54,252.96 497.67,253.21 497.80,253.09 497.94,253.03 498.07,253.07 498.20,253.26 498.33,253.71 498.47,253.68 498.60,253.43 498.73,253.88 498.86,253.70 498.99,253.65 499.13,253.96 499.26,253.73 499.39,253.64 499.52,254.32 499.66,253.69 499.79,254.25 499.92,253.84 500.05,254.21 500.18,254.21 500.32,254.19 500.45,253.84 500.58,254.32 500.71,254.36 500.85,254.20 500.98,254.40 501.11,254.65 501.24,254.30 501.37,254.53 501.51,254.24 501.64,254.59 501.77,254.66 501.90,255.07 502.04,254.74 502.17,254.65 502.30,254.87 502.43,254.35 502.56,254.81 502.70,254.47 502.83,254.45 502.96,254.83 503.09,254.65 503.23,254.89 503.36,254.29 503.49,254.67 503.62,254.50 503.75,254.55 503.89,254.20 504.02,254.81 504.15,254.66 504.28,254.39 504.42,254.31 504.55,254.41 504.68,254.90 504.81,254.57 504.94,254.52 505.08,254.69 505.21,254.58 505.34,254.62 505.47,254.72 505.61,254.62 505.74,254.72 505.87,254.26 506.00,254.52 506.13,254.41 506.27,254.49 506.40,254.44 506.53,254.29 506.66,254.33 506.80,254.58 506.93,254.23 507.06,254.05 507.19,254.41 507.32,254.46 507.46,254.15 507.59,254.19 507.72,253.94 507.85,254.03 507.99,254.25 508.12,254.13 508.25,253.93 508.38,253.78 508.51,253.42 508.65,253.77 508.78,253.73 508.91,253.80 509.04,253.94 509.18,253.53 509.31,253.60 509.44,253.12 509.57,253.59 509.70,253.50 509.84,253.60 509.97,253.46 510.10,253.44 510.23,253.69 510.37,253.28 510.50,253.61 510.63,253.77 510.76,253.43 510.89,253.42 511.03,253.83 511.16,253.83 511.29,254.00 511.42,254.08 511.56,253.83 511.69,254.13 511.82,254.35 511.95,254.09 512.08,254.15 512.22,254.01 512.35,254.47 512.48,254.75 512.61,254.07 512.75,254.56 512.88,254.62 513.01,254.34 513.14,254.40 513.27,254.28 513.41,254.36 513.54,254.58 513.67,254.70 513.80,254.61 513.94,254.78 514.07,254.66 514.20,254.37 514.33,254.95 514.46,254.90 514.60,254.51 514.73,255.05 514.86,254.78 514.99,254.71 515.12,255.10 515.26,254.16 515.39,254.36 515.52,254.86 515.65,254.66 515.79,254.52 515.92,255.05 516.05,254.83 516.18,254.45 516.31,254.59 516.45,254.91 516.58,255.12 516.71,254.31 516.84,254.79 516.98,254.66 517.11,254.36 517.24,254.70 517.37,254.40 517.50,254.62 517.64,255.09 517.77,254.85 517.90,254.90 518.03,254.86 518.17,254.81 518.30,254.94 518.43,254.48 518.56,254.65 518.69,254.90 518.83,254.56 518.96,254.62 519.09,254.97 519.22,255.04 519.36,254.57 519.49,254.52 519.62,254.82 519.75,254.74 519.88,254.54 520.02,254.80 520.15,254.79 520.28,254.68 520.41,255.28 520.55,254.94 520.68,254.81 520.81,254.85 520.94,255.25 521.07,254.84 521.21,254.44 521.34,254.65 521.47,254.59 521.60,254.44 521.74,254.60 521.87,254.59 522.00,254.51 522.13,254.40 522.26,254.67 522.40,254.13 522.53,254.63 522.66,254.44 522.79,254.48 522.93,253.89 523.06,254.74 523.19,253.98 523.32,254.14 523.45,254.44 523.59,254.15 523.72,254.16 523.85,253.74 523.98,254.09 524.12,254.19 524.25,254.26 524.38,254.01 524.51,254.08 524.64,254.08 524.78,253.79 524.91,253.72 525.04,254.25 525.17,253.58 525.31,253.96 525.44,253.64 525.57,253.86 525.70,253.32 525.83,253.47 525.97,253.33 526.10,253.09 526.23,253.08 526.36,252.71 526.50,252.70 526.63,252.45 526.76,252.51 526.89,252.11 527.02,251.58 527.16,251.53 527.29,251.29 527.42,250.77 527.55,250.88 527.69,250.27 527.82,249.93 527.95,249.12 528.08,248.74 528.21,248.59 528.35,247.67 528.48,247.73 528.61,247.46 528.74,247.24 528.88,247.40 529.01,247.29 529.14,247.79 529.27,247.76 529.40,248.04 529.54,248.90 529.67,248.72 529.80,248.64 529.93,249.50 530.07,249.27 530.20,248.77 530.33,249.58 530.46,249.80 530.59,249.65 530.73,249.87 530.86,249.36 530.99,249.37 531.12,248.83 531.26,248.84 531.39,248.86 531.52,248.31 531.65,247.86 531.78,246.97 531.92,246.83 532.05,246.08 532.18,245.92 532.31,244.91 532.45,244.38 532.58,243.25 532.71,242.95 532.84,241.27 532.97,240.47 533.11,239.84 533.24,238.10 533.37,236.60 533.50,235.66 533.64,234.53 533.77,233.38 533.90,231.81 534.03,231.54 534.16,230.57 534.30,231.29 534.43,231.06 534.56,231.43 534.69,232.43 534.82,233.37 534.96,234.15 535.09,236.00 535.22,236.88 535.35,237.84 535.49,239.78 535.62,241.00 535.75,242.07 535.88,242.96 536.01,243.61 536.15,244.89 536.28,245.90 536.41,246.40 536.54,247.24 536.68,247.33 536.81,248.26 536.94,248.74 537.07,248.67 537.20,249.05 537.34,249.62 537.47,250.13 537.60,250.52 537.73,250.65 537.87,250.95 538.00,251.17 538.13,251.44 538.26,251.74 538.39,251.91 538.53,251.96 538.66,252.18 538.79,252.17 538.92,252.57 539.06,252.41 539.19,252.99 539.32,252.74 539.45,252.90 539.58,252.76 539.72,252.94 539.85,253.13 539.98,253.17 540.11,253.10 540.25,253.04 540.38,253.36 540.51,253.44 540.64,253.58 540.77,253.78 540.91,253.48 541.04,253.15 541.17,253.59 541.30,253.25 541.44,253.40 541.57,253.94 541.70,253.86 541.83,253.62 541.96,253.64 542.10,253.78 542.23,253.43 542.36,253.93 542.49,253.76 542.63,254.25 542.76,253.62 542.89,254.07 543.02,253.71 543.15,254.08 543.29,253.64 543.42,254.01 543.55,253.74 543.68,253.65 543.82,253.78 543.95,253.91 544.08,253.87 544.21,254.11 544.34,253.92 544.48,253.14 544.61,253.59 544.74,253.21 544.87,253.53 545.01,253.71 545.14,253.23 545.27,253.22 545.40,253.45 545.53,253.30 545.67,253.64 545.80,253.29 545.93,253.26 546.06,253.44 546.20,252.85 546.33,252.86 546.46,252.53 546.59,252.68 546.72,252.71 546.86,252.64 546.99,252.17 547.12,251.84 547.25,251.63 547.39,251.28 547.52,251.37 547.65,251.38 547.78,250.27 547.91,249.99 548.05,250.42 548.18,249.37 548.31,249.36 548.44,248.53 548.58,248.45 548.71,247.87 548.84,247.11 548.97,246.56 549.10,245.66 549.24,244.98 549.37,244.43 549.50,243.43 549.63,242.19 549.77,241.34 549.90,240.72 550.03,240.07 550.16,239.64 550.29,239.18 550.43,239.35 550.56,239.33 550.69,239.72 550.82,240.14 550.96,240.93 551.09,241.29 551.22,242.72 551.35,243.31 551.48,244.19 551.62,245.06 551.75,245.97 551.88,246.64 552.01,247.23 552.15,247.78 552.28,248.05 552.41,249.00 552.54,249.38 552.67,249.82 552.81,250.82 552.94,250.25 553.07,251.01 553.20,251.57 553.34,251.79 553.47,252.10 553.60,251.78 553.73,252.06 553.86,252.60 554.00,252.57 554.13,253.18 554.26,253.00 554.39,253.13 554.52,253.31 554.66,253.27 554.79,253.46 554.92,253.39 555.05,253.63 555.19,253.61 555.32,253.86 555.45,253.57 555.58,253.62 555.71,254.12 555.85,254.13 555.98,253.93 556.11,254.14 556.24,254.01 556.38,254.74 556.51,254.00 556.64,254.76 556.77,254.24 556.90,254.56 557.04,254.44 557.17,254.45 557.30,254.78 557.43,254.78 557.57,254.57 557.70,254.46 557.83,255.14 557.96,255.02 558.09,254.77 558.23,254.70 558.36,254.85 558.49,254.83 558.62,255.09 558.76,254.64 558.89,254.87 559.02,254.71 559.15,255.19 559.28,255.32 559.42,254.92 559.55,255.07 559.68,255.28 559.81,254.92 559.95,254.79 560.08,255.24 560.21,255.14 560.34,254.99 560.47,255.37 560.61,255.12 560.74,254.68 560.87,255.16 561.00,255.08 561.14,255.52 561.27,255.11 561.40,255.08 561.53,255.23 561.66,255.20 561.80,254.84 561.93,255.19 562.06,255.10 562.19,255.48 562.33,255.71" fill="none" stroke="#8A14F5" stroke-width="1.5" stroke-linejoin="round"/>
<polygon points="363.0,9.3 364.2,9.3 364.7,74.5 362.5,74.5" fill="#878787"/>
<defs><linearGradient id="pk" x1="0" x2="0" y1="0" y2="1"><stop offset="0" stop-color="#8078B8"/><stop offset="0.5" stop-color="#7060C8"/><stop offset="1" stop-color="#6048D8"/></linearGradient></defs>
<rect x="362.1" y="78.4" width="3.0" height="73" fill="#9A96AE"/>
<rect x="362.8" y="78.4" width="1.7" height="73" fill="url(#pk)"/>
<line x1="364.4" y1="277.5" x2="364.4" y2="157" stroke="#128C12" stroke-width="1.1"/>
<line x1="386.6" y1="277.5" x2="386.6" y2="261.4" stroke="#128C12" stroke-width="1.1"/>
<line x1="393.1" y1="277.5" x2="393.1" y2="258.8" stroke="#128C12" stroke-width="1.1"/>
<line x1="395.4" y1="277.5" x2="395.4" y2="262" stroke="#128C12" stroke-width="1.1"/>
<line x1="400.0" y1="277.5" x2="400.0" y2="276.3" stroke="#128C12" stroke-width="1.1"/>
<line x1="412.3" y1="277.5" x2="412.3" y2="272.9" stroke="#128C12" stroke-width="1.1"/>
<line x1="418.9" y1="277.5" x2="418.9" y2="276.5" stroke="#128C12" stroke-width="1.1"/>
<line x1="422.9" y1="277.5" x2="422.9" y2="276.5" stroke="#128C12" stroke-width="1.1"/>
<line x1="436.0" y1="277.5" x2="436.0" y2="276.5" stroke="#128C12" stroke-width="1.1"/>
<line x1="440.6" y1="277.5" x2="440.6" y2="273.4" stroke="#128C12" stroke-width="1.1"/>
<line x1="447.5" y1="277.5" x2="447.5" y2="276.5" stroke="#128C12" stroke-width="1.1"/>
<line x1="476.9" y1="277.5" x2="476.9" y2="259.5" stroke="#128C12" stroke-width="1.1"/>
<line x1="478.6" y1="277.5" x2="478.6" y2="262" stroke="#128C12" stroke-width="1.1"/>
<line x1="483.5" y1="277.5" x2="483.5" y2="259.5" stroke="#128C12" stroke-width="1.1"/>
<line x1="497.8" y1="277.5" x2="497.8" y2="274" stroke="#128C12" stroke-width="1.1"/>
<line x1="508.1" y1="277.5" x2="508.1" y2="275" stroke="#128C12" stroke-width="1.1"/>
<line x1="510.4" y1="277.5" x2="510.4" y2="273" stroke="#128C12" stroke-width="1.1"/>
<line x1="522.4" y1="277.5" x2="522.4" y2="276.5" stroke="#128C12" stroke-width="1.1"/>
<line x1="528.1" y1="277.5" x2="528.1" y2="262" stroke="#128C12" stroke-width="1.1"/>
<line x1="537.3" y1="277.5" x2="537.3" y2="258" stroke="#128C12" stroke-width="1.1"/>
<line x1="539.6" y1="277.5" x2="539.6" y2="260" stroke="#128C12" stroke-width="1.1"/>
<line x1="540.7" y1="277.5" x2="540.7" y2="262" stroke="#128C12" stroke-width="1.1"/>
<line x1="551.9" y1="277.5" x2="551.9" y2="266" stroke="#128C12" stroke-width="1.1"/>
<line x1="364.4" y1="300" x2="364.4" y2="277.5" stroke="#FF8C1A" stroke-width="1.1"/>
<line x1="386.6" y1="300" x2="386.6" y2="284" stroke="#FF8C1A" stroke-width="1.1"/>
<line x1="393.4" y1="300" x2="393.4" y2="283" stroke="#FF8C1A" stroke-width="1.1"/>
<line x1="394.6" y1="300" x2="394.6" y2="285.2" stroke="#FF8C1A" stroke-width="1.1"/>
<line x1="412.0" y1="300" x2="412.0" y2="295.8" stroke="#FF8C1A" stroke-width="1.1"/>
<line x1="436.6" y1="300" x2="436.6" y2="298.8" stroke="#FF8C1A" stroke-width="1.1"/>
<line x1="441.2" y1="300" x2="441.2" y2="297.2" stroke="#FF8C1A" stroke-width="1.1"/>
<line x1="477.5" y1="300" x2="477.5" y2="282" stroke="#FF8C1A" stroke-width="1.1"/>
<line x1="478.6" y1="300" x2="478.6" y2="283" stroke="#FF8C1A" stroke-width="1.1"/>
<line x1="483.5" y1="300" x2="483.5" y2="281.7" stroke="#FF8C1A" stroke-width="1.1"/>
<line x1="497.8" y1="300" x2="497.8" y2="295.5" stroke="#FF8C1A" stroke-width="1.1"/>
<line x1="509.8" y1="300" x2="509.8" y2="295.5" stroke="#FF8C1A" stroke-width="1.1"/>
<line x1="528.1" y1="300" x2="528.1" y2="285.5" stroke="#FF8C1A" stroke-width="1.1"/>
<line x1="538.1" y1="300" x2="538.1" y2="281.5" stroke="#FF8C1A" stroke-width="1.1"/>
<line x1="539.6" y1="300" x2="539.6" y2="283" stroke="#FF8C1A" stroke-width="1.1"/>
<line x1="551.6" y1="300" x2="551.6" y2="286" stroke="#FF8C1A" stroke-width="1.1"/>
<path d="M350.8,71.5 L350.8,1.5 L562.4,1.5 L562.4,71.5 M350.8,78.5 L350.8,300.2 L562.4,300.2 L562.4,78.5" fill="none" stroke="#6A6A6A" stroke-width="1.2"/>
<path d="M346.5,74.5 L355.5,69.5 M346.5,79.5 L355.5,74.5" stroke="#333" stroke-width="0.9"/>
<path d="M558,74.5 L567,69.5 M558,79.5 L567,74.5" stroke="#333" stroke-width="0.9"/>
<line x1="362.2" y1="300.2" x2="362.2" y2="303.2" stroke="#5A5A5A" stroke-width="1"/>
<line x1="390.8" y1="300.2" x2="390.8" y2="302.2" stroke="#5A5A5A" stroke-width="1"/>
<line x1="419.4" y1="300.2" x2="419.4" y2="303.2" stroke="#5A5A5A" stroke-width="1"/>
<line x1="448.0" y1="300.2" x2="448.0" y2="302.2" stroke="#5A5A5A" stroke-width="1"/>
<line x1="476.6" y1="300.2" x2="476.6" y2="303.2" stroke="#5A5A5A" stroke-width="1"/>
<line x1="505.2" y1="300.2" x2="505.2" y2="302.2" stroke="#5A5A5A" stroke-width="1"/>
<line x1="533.8" y1="300.2" x2="533.8" y2="303.2" stroke="#5A5A5A" stroke-width="1"/>
<line x1="562.4" y1="300.2" x2="562.4" y2="302.2" stroke="#5A5A5A" stroke-width="1"/>
<text id="cx30" x="353.97" y="319.14" font-size="15.56" textLength="16.73" lengthAdjust="spacingAndGlyphs" >30</text>
<text id="cx40" x="411.00" y="319.14" font-size="15.56" textLength="16.72" lengthAdjust="spacingAndGlyphs" >40</text>
<text id="cx50" x="467.85" y="319.14" font-size="15.56" textLength="17.20" lengthAdjust="spacingAndGlyphs" >50</text>
<text id="cx60" x="525.12" y="319.14" font-size="15.56" textLength="16.70" lengthAdjust="spacingAndGlyphs" >60</text>
<text id="c2theta" x="407.41" y="334.50" font-size="17.50" textLength="90.38" lengthAdjust="spacingAndGlyphs" >2<tspan font-family="Liberation Serif" font-style="italic">&#952;</tspan> (degree)</text>
<text id="cint" transform="translate(344.22,235.06) rotate(-90)" font-size="17.45" textLength="153.75" lengthAdjust="spacingAndGlyphs" >Intensity (arb. units)</text>
<text id="clhzo" x="413.66" y="46.30" font-size="13.30" textLength="88.39" lengthAdjust="spacingAndGlyphs" >Lu:Hf<tspan dy="3" font-size="9.5">0.6</tspan><tspan dy="-3">Zr</tspan><tspan dy="3" font-size="9.5">0.4</tspan><tspan dy="-3">O</tspan><tspan dy="3" font-size="9.5">2</tspan></text>
<text id="cl0" x="565.77" y="184.25" font-size="13.68" textLength="58.28" lengthAdjust="spacingAndGlyphs" fill="#808080">10.5 at. %</text>
<text id="cl1" x="566.50" y="198.27" font-size="13.68" textLength="47.11" lengthAdjust="spacingAndGlyphs" fill="#FF78FF">10 at. %</text>
<text id="cl2" x="566.86" y="211.34" font-size="13.73" textLength="57.25" lengthAdjust="spacingAndGlyphs" fill="#B8B812">9.75 at. %</text>
<text id="cl3" x="566.83" y="226.50" font-size="13.48" textLength="51.43" lengthAdjust="spacingAndGlyphs" fill="#148A8A">9.5 at. %</text>
<text id="cl4" x="566.86" y="242.07" font-size="13.48" textLength="57.38" lengthAdjust="spacingAndGlyphs" fill="#0A0AF5">9.25 at. %</text>
<text id="cl5" x="566.68" y="257.44" font-size="13.48" textLength="40.78" lengthAdjust="spacingAndGlyphs" fill="#8A14F5">9 at. %</text>
<text id="ct" x="567.08" y="140.69" font-size="13.36" textLength="3.04" lengthAdjust="spacingAndGlyphs" font-style="italic" fill="#808080">t</text>
<text id="cafe" x="566.32" y="276.93" font-size="13.97" textLength="36.34" lengthAdjust="spacingAndGlyphs" fill="#128C12"><tspan font-style="italic">o</tspan>-AFE</text>
<text id="cfe" x="566.44" y="297.21" font-size="13.68" textLength="28.18" lengthAdjust="spacingAndGlyphs" fill="#FF8C1A"><tspan font-style="italic">o</tspan>-FE</text>
<text id="d" x="-0.60" y="355.30" font-size="18.80" font-weight="bold">d</text>
<rect x="61.8" y="345.4" width="20.8" height="198.3" fill="#B4C7E7"/>
<rect x="95.4" y="345.4" width="15.4" height="198.3" fill="#B4C7E7"/>
<line x1="23.6" y1="359" x2="23.6" y2="366" stroke="#8C8C8C" stroke-width="1"/>
<line x1="63.4" y1="359" x2="63.4" y2="366" stroke="#8C8C8C" stroke-width="1"/>
<line x1="74.8" y1="359" x2="74.8" y2="366" stroke="#8C8C8C" stroke-width="1"/>
<line x1="135.1" y1="359" x2="135.1" y2="366" stroke="#8C8C8C" stroke-width="1"/>
<line x1="175.8" y1="359" x2="175.8" y2="366" stroke="#8C8C8C" stroke-width="1"/>
<line x1="196.3" y1="359" x2="196.3" y2="366" stroke="#8C8C8C" stroke-width="1"/>
<polyline points="21.50,405.05 21.65,405.03 21.80,404.99 21.95,404.96 22.10,404.86 22.25,404.98 22.40,405.18 22.56,404.34 22.71,404.14 22.86,403.91 23.01,404.64 23.16,404.55 23.31,403.52 23.46,403.32 23.61,403.67 23.76,403.77 23.91,403.55 24.06,403.10 24.21,403.04 24.37,402.72 24.52,402.23 24.67,402.73 24.82,401.91 24.97,401.32 25.12,401.24 25.27,400.63 25.42,400.79 25.57,400.79 25.72,399.75 25.87,400.11 26.02,400.03 26.18,399.13 26.33,398.29 26.48,398.00 26.63,397.78 26.78,397.15 26.93,396.85 27.08,396.89 27.23,396.72 27.38,396.83 27.53,396.25 27.68,397.22 27.83,397.10 27.98,397.25 28.14,397.04 28.29,398.07 28.44,397.79 28.59,398.80 28.74,398.96 28.89,398.74 29.04,399.24 29.19,400.30 29.34,400.37 29.49,400.35 29.64,400.75 29.79,401.02 29.95,400.98 30.10,401.39 30.25,401.46 30.40,401.72 30.55,402.17 30.70,401.90 30.85,402.55 31.00,402.50 31.15,402.81 31.30,402.95 31.45,403.15 31.60,403.05 31.75,403.15 31.91,402.95 32.06,403.23 32.21,402.83 32.36,403.07 32.51,403.40 32.66,403.19 32.81,403.36 32.96,402.92 33.11,403.66 33.26,403.08 33.41,403.37 33.56,403.24 33.72,403.51 33.87,403.10 34.02,402.90 34.17,402.61 34.32,403.06 34.47,402.77 34.62,403.25 34.77,403.50 34.92,402.36 35.07,402.61 35.22,403.06 35.37,403.31 35.53,403.00 35.68,402.98 35.83,403.01 35.98,403.01 36.13,403.32 36.28,403.00 36.43,402.44 36.58,402.67 36.73,402.89 36.88,402.59 37.03,402.78 37.18,402.72 37.33,402.70 37.49,403.15 37.64,402.87 37.79,402.69 37.94,402.85 38.09,403.12 38.24,403.79 38.39,403.28 38.54,403.69 38.69,403.43 38.84,402.68 38.99,403.48 39.14,403.14 39.30,403.03 39.45,403.14 39.60,404.03 39.75,403.04 39.90,403.35 40.05,403.91 40.20,403.77 40.35,403.06 40.50,403.55 40.65,403.43 40.80,403.52 40.95,403.80 41.11,403.39 41.26,403.45 41.41,403.97 41.56,402.95 41.71,403.36 41.86,403.58 42.01,403.03 42.16,403.17 42.31,402.92 42.46,403.31 42.61,403.02 42.76,403.38 42.91,403.39 43.07,403.03 43.22,402.83 43.37,402.95 43.52,402.81 43.67,402.34 43.82,402.95 43.97,402.62 44.12,402.70 44.27,401.98 44.42,402.57 44.57,402.87 44.72,402.35 44.88,401.67 45.03,402.06 45.18,401.99 45.33,402.03 45.48,401.87 45.63,402.07 45.78,401.77 45.93,401.99 46.08,401.72 46.23,401.98 46.38,402.28 46.53,401.87 46.68,402.26 46.84,401.84 46.99,402.05 47.14,402.14 47.29,402.64 47.44,402.09 47.59,402.75 47.74,401.99 47.89,402.43 48.04,402.81 48.19,402.79 48.34,402.31 48.49,402.29 48.65,402.96 48.80,402.34 48.95,402.93 49.10,402.62 49.25,402.79 49.40,403.51 49.55,403.29 49.70,403.08 49.85,402.41 50.00,402.93 50.15,402.85 50.30,402.79 50.46,403.22 50.61,402.28 50.76,402.88 50.91,402.80 51.06,402.51 51.21,403.23 51.36,402.30 51.51,402.66 51.66,402.64 51.81,401.91 51.96,402.10 52.11,402.19 52.26,402.68 52.42,402.68 52.57,402.52 52.72,402.36 52.87,401.56 53.02,402.23 53.17,401.95 53.32,402.39 53.47,402.38 53.62,402.58 53.77,402.04 53.92,401.99 54.07,401.35 54.23,401.61 54.38,401.12 54.53,401.68 54.68,400.96 54.83,401.16 54.98,400.88 55.13,400.89 55.28,401.07 55.43,400.66 55.58,400.79 55.73,400.30 55.88,400.92 56.03,400.19 56.19,400.57 56.34,400.79 56.49,399.28 56.64,399.59 56.79,399.70 56.94,399.99 57.09,399.36 57.24,399.48 57.39,399.01 57.54,399.27 57.69,398.58 57.84,399.07 58.00,397.76 58.15,397.95 58.30,398.93 58.45,398.29 58.60,397.81 58.75,398.61 58.90,398.11 59.05,397.99 59.20,397.37 59.35,397.54 59.50,397.36 59.65,396.55 59.81,397.10 59.96,396.71 60.11,397.02 60.26,396.88 60.41,396.15 60.56,396.02 60.71,396.12 60.86,396.13 61.01,395.66 61.16,395.62 61.31,395.70 61.46,395.51 61.61,395.60 61.77,395.18 61.92,394.70 62.07,394.29 62.22,394.93 62.37,394.44 62.52,394.29 62.67,394.16 62.82,393.61 62.97,393.82 63.12,392.98 63.27,393.48 63.42,393.16 63.58,393.82 63.73,393.21 63.88,392.82 64.03,392.73 64.18,392.70 64.33,392.03 64.48,391.97 64.63,391.70 64.78,392.33 64.93,391.34 65.08,390.45 65.23,391.03 65.39,391.30 65.54,389.92 65.69,390.98 65.84,389.57 65.99,389.57 66.14,388.74 66.29,388.48 66.44,387.81 66.59,387.48 66.74,386.75 66.89,387.35 67.04,386.22 67.19,386.25 67.35,385.78 67.50,385.00 67.65,384.73 67.80,384.18 67.95,383.54 68.10,383.17 68.25,382.62 68.40,381.73 68.55,381.06 68.70,380.60 68.85,380.28 69.00,380.04 69.16,379.43 69.31,378.41 69.46,377.94 69.61,377.00 69.76,376.61 69.91,375.61 70.06,374.98 70.21,374.06 70.36,373.42 70.51,373.29 70.66,371.62 70.81,371.28 70.96,370.39 71.12,370.18 71.27,369.78 71.42,368.47 71.57,367.09 71.72,367.56 71.87,367.02 72.02,365.81 72.17,365.82 72.32,365.49 72.47,364.47 72.62,365.14 72.77,364.89 72.93,364.72 73.08,364.28 73.23,364.43 73.38,364.58 73.53,365.12 73.68,364.93 73.83,366.03 73.98,366.09 74.13,365.76 74.28,367.47 74.43,367.56 74.58,367.95 74.74,368.80 74.89,368.88 75.04,370.21 75.19,370.12 75.34,371.31 75.49,372.82 75.64,373.56 75.79,373.85 75.94,374.44 76.09,375.82 76.24,376.30 76.39,377.17 76.54,378.08 76.70,378.33 76.85,379.68 77.00,379.53 77.15,381.40 77.30,381.19 77.45,382.21 77.60,382.92 77.75,384.06 77.90,384.75 78.05,385.31 78.20,386.03 78.35,386.66 78.51,387.12 78.66,387.17 78.81,387.66 78.96,388.25 79.11,389.54 79.26,390.05 79.41,390.63 79.56,391.28 79.71,391.66 79.86,391.94 80.01,392.28 80.16,392.65 80.32,394.10 80.47,394.46 80.62,394.21 80.77,394.99 80.92,395.64 81.07,396.42 81.22,396.14 81.37,396.78 81.52,397.47 81.67,396.95 81.82,397.63 81.97,398.20 82.12,398.34 82.28,399.57 82.43,399.51 82.58,399.62 82.73,399.57 82.88,400.45 83.03,400.68 83.18,400.61 83.33,400.92 83.48,400.88 83.63,401.58 83.78,402.14 83.93,402.45 84.09,402.57 84.24,402.89 84.39,402.69 84.54,402.96 84.69,403.71 84.84,403.70 84.99,403.53 85.14,404.15 85.29,404.46 85.44,404.63 85.59,404.64 85.74,404.64 85.89,405.12 86.05,405.72 86.20,405.41 86.35,405.34 86.50,405.83 86.65,405.51 86.80,406.14 86.95,406.14 87.10,406.69 87.25,406.58 87.40,407.03 87.55,407.58 87.70,406.94 87.86,406.89 88.01,407.44 88.16,407.41 88.31,407.62 88.46,407.52 88.61,408.02 88.76,407.99 88.91,407.42 89.06,408.15 89.21,408.45 89.36,408.84 89.51,408.41 89.67,408.45 89.82,409.18 89.97,408.74 90.12,409.07 90.27,409.30 90.42,409.48 90.57,409.36 90.72,409.11 90.87,409.88 91.02,409.53 91.17,409.60 91.32,410.48 91.47,410.22 91.63,409.71 91.78,409.98 91.93,410.14 92.08,410.07 92.23,409.79 92.38,410.73 92.53,410.80 92.68,410.71 92.83,410.59 92.98,410.86 93.13,411.07 93.28,410.62 93.44,410.92 93.59,410.92 93.74,411.38 93.89,411.32 94.04,410.90 94.19,411.18 94.34,411.98 94.49,411.19 94.64,411.61 94.79,411.42 94.94,412.07 95.09,411.72 95.24,411.66 95.40,411.48 95.55,411.82 95.70,412.21 95.85,412.21 96.00,411.63 96.15,412.58 96.30,412.06 96.45,411.85 96.60,412.25 96.75,412.06 96.90,412.11 97.05,412.12 97.21,412.32 97.36,412.22 97.51,411.87 97.66,412.58 97.81,412.28 97.96,412.82 98.11,412.63 98.26,412.66 98.41,412.53 98.56,412.87 98.71,412.36 98.86,412.14 99.02,412.54 99.17,411.57 99.32,412.27 99.47,412.42 99.62,412.18 99.77,412.65 99.92,412.43 100.07,412.19 100.22,411.97 100.37,412.36 100.52,411.74 100.67,411.75 100.82,412.04 100.98,411.93 101.13,412.31 101.28,411.56 101.43,411.01 101.58,411.77 101.73,411.95 101.88,411.52 102.03,412.09 102.18,412.22 102.33,411.54 102.48,411.69 102.63,411.56 102.79,412.24 102.94,412.43 103.09,412.54 103.24,412.11 103.39,412.40 103.54,412.34 103.69,412.43 103.84,412.65 103.99,412.71 104.14,413.27 104.29,413.58 104.44,413.75 104.60,413.66 104.75,413.57 104.90,413.87 105.05,414.14 105.20,413.96 105.35,414.14 105.50,414.11 105.65,414.11 105.80,414.35 105.95,414.05 106.10,414.78 106.25,414.03 106.40,414.70 106.56,414.18 106.71,415.11 106.86,414.96 107.01,414.47 107.16,414.62 107.31,414.44 107.46,414.79 107.61,414.96 107.76,415.65 107.91,414.45 108.06,415.28 108.21,414.73 108.37,415.00 108.52,415.20 108.67,415.10 108.82,415.07 108.97,414.89 109.12,414.95 109.27,415.00 109.42,415.33 109.57,414.51 109.72,414.81 109.87,414.58 110.02,414.67 110.17,414.73 110.33,415.32 110.48,415.65 110.63,415.42 110.78,414.64 110.93,415.04 111.08,414.68 111.23,415.18 111.38,415.44 111.53,415.24 111.68,415.34 111.83,415.03 111.98,414.48 112.14,414.48 112.29,415.06 112.44,415.26 112.59,415.47 112.74,414.96 112.89,415.07 113.04,415.11 113.19,415.33 113.34,414.95 113.49,414.59 113.64,415.22 113.79,414.97 113.95,414.90 114.10,414.33 114.25,414.64 114.40,414.04 114.55,413.86 114.70,414.31 114.85,414.14 115.00,414.34 115.15,414.48 115.30,413.90 115.45,414.31 115.60,413.43 115.75,413.68 115.91,412.89 116.06,413.14 116.21,412.82 116.36,412.67 116.51,412.73 116.66,411.78 116.81,412.21 116.96,411.76 117.11,411.89 117.26,411.83 117.41,411.48 117.56,411.39 117.72,411.10 117.87,411.59 118.02,411.23 118.17,411.61 118.32,411.11 118.47,412.08 118.62,411.48 118.77,412.30 118.92,411.98 119.07,412.48 119.22,412.47 119.37,412.93 119.53,412.93 119.68,413.52 119.83,413.54 119.98,413.74 120.13,414.23 120.28,413.69 120.43,414.48 120.58,414.26 120.73,413.94 120.88,414.69 121.03,414.61 121.18,415.32 121.33,414.76 121.49,415.04 121.64,415.19 121.79,414.63 121.94,415.45 122.09,415.07 122.24,415.88 122.39,416.02 122.54,415.56 122.69,415.13 122.84,415.72 122.99,415.76 123.14,415.96 123.30,415.68 123.45,415.43 123.60,415.77 123.75,415.54 123.90,416.38 124.05,415.63 124.20,415.65 124.35,415.83 124.50,415.46 124.65,415.70 124.80,415.78 124.95,415.65 125.10,415.70 125.26,416.13 125.41,415.86 125.56,415.28 125.71,415.52 125.86,415.84 126.01,415.36 126.16,415.53 126.31,415.44 126.46,415.55 126.61,415.27 126.76,415.21 126.91,414.91 127.07,415.20 127.22,414.72 127.37,415.44 127.52,414.80 127.67,414.64 127.82,414.84 127.97,414.45 128.12,414.37 128.27,414.20 128.42,413.85 128.57,413.64 128.72,413.56 128.88,413.96 129.03,413.24 129.18,413.13 129.33,412.93 129.48,413.09 129.63,413.28 129.78,412.18 129.93,412.42 130.08,412.06 130.23,411.71 130.38,411.72 130.53,410.94 130.68,411.34 130.84,410.91 130.99,410.30 131.14,410.86 131.29,410.39 131.44,410.26 131.59,409.24 131.74,409.39 131.89,409.12 132.04,409.29 132.19,409.36 132.34,408.22 132.49,408.70 132.65,408.56 132.80,408.85 132.95,408.49 133.10,408.11 133.25,408.46 133.40,408.25 133.55,408.41 133.70,408.76 133.85,408.73 134.00,409.10 134.15,408.72 134.30,410.07 134.45,409.94 134.61,409.98 134.76,409.58 134.91,409.53 135.06,410.15 135.21,410.57 135.36,411.55 135.51,411.49 135.66,411.14 135.81,411.89 135.96,412.10 136.11,411.93 136.26,412.50 136.42,412.41 136.57,412.29 136.72,412.30 136.87,412.79 137.02,413.29 137.17,412.71 137.32,412.77 137.47,413.56 137.62,412.68 137.77,414.18 137.92,413.59 138.07,414.05 138.23,414.48 138.38,413.54 138.53,413.74 138.68,414.82 138.83,414.10 138.98,414.20 139.13,414.35 139.28,414.65 139.43,414.76 139.58,414.42 139.73,414.30 139.88,414.41 140.03,414.53 140.19,414.84 140.34,414.49 140.49,415.00 140.64,414.18 140.79,414.59 140.94,414.96 141.09,414.80 141.24,414.49 141.39,414.11 141.54,414.14 141.69,414.29 141.84,414.42 142.00,414.23 142.15,413.85 142.30,414.05 142.45,414.43 142.60,414.52 142.75,413.83 142.90,414.14 143.05,413.74 143.20,414.09 143.35,415.36 143.50,414.31 143.65,414.21 143.81,414.16 143.96,414.00 144.11,413.84 144.26,414.44 144.41,414.41 144.56,415.00 144.71,414.10 144.86,414.79 145.01,415.13 145.16,414.19 145.31,415.05 145.46,414.43 145.61,415.15 145.77,415.51 145.92,415.13 146.07,415.29 146.22,415.06 146.37,415.43 146.52,415.76 146.67,415.43 146.82,415.51 146.97,415.74 147.12,415.93 147.27,415.24 147.42,415.83 147.58,415.66 147.73,416.08 147.88,416.30 148.03,416.13 148.18,416.49 148.33,415.84 148.48,416.07 148.63,415.93 148.78,416.30 148.93,416.36 149.08,416.31 149.23,416.03 149.38,416.42 149.54,416.35 149.69,416.70 149.84,416.46 149.99,416.94 150.14,416.68 150.29,416.07 150.44,416.61 150.59,416.25 150.74,417.01 150.89,417.17 151.04,416.75 151.19,416.91 151.35,416.35 151.50,416.12 151.65,416.66 151.80,416.77 151.95,416.39 152.10,416.90 152.25,416.98 152.40,417.09 152.55,417.38 152.70,417.17 152.85,416.81 153.00,416.97 153.16,417.13 153.31,416.63 153.46,417.36 153.61,417.24 153.76,416.89 153.91,416.77 154.06,418.14 154.21,417.23 154.36,417.26 154.51,417.53 154.66,417.28 154.81,417.04 154.96,417.19 155.12,416.69 155.27,417.18 155.42,416.49 155.57,417.08 155.72,417.12 155.87,416.46 156.02,417.51 156.17,416.56 156.32,417.22 156.47,416.72 156.62,416.95 156.77,416.63 156.93,417.57 157.08,417.09 157.23,417.29 157.38,416.94 157.53,416.86 157.68,416.64 157.83,416.46 157.98,416.65 158.13,416.44 158.28,416.26 158.43,415.78 158.58,416.00 158.74,416.16 158.89,415.70 159.04,415.82 159.19,415.52 159.34,415.08 159.49,414.96 159.64,414.84 159.79,414.80 159.94,414.63 160.09,414.88 160.24,414.03 160.39,413.56 160.54,414.24 160.70,413.73 160.85,413.69 161.00,414.37 161.15,413.91 161.30,413.52 161.45,413.52 161.60,413.16 161.75,413.33 161.90,412.75 162.05,412.64 162.20,412.64 162.35,413.19 162.51,413.11 162.66,412.38 162.81,412.86 162.96,412.39 163.11,412.70 163.26,412.21 163.41,412.54 163.56,412.14 163.71,412.02 163.86,412.04 164.01,412.03 164.16,411.73 164.31,411.42 164.47,412.29 164.62,411.57 164.77,411.06 164.92,410.84 165.07,410.59 165.22,411.19 165.37,411.71 165.52,410.70 165.67,411.02 165.82,410.47 165.97,411.29 166.12,410.98 166.28,410.89 166.43,411.13 166.58,411.14 166.73,410.88 166.88,410.32 167.03,410.03 167.18,410.07 167.33,409.81 167.48,410.87 167.63,410.22 167.78,410.30 167.93,410.31 168.09,410.86 168.24,410.07 168.39,410.62 168.54,410.36 168.69,410.24 168.84,409.72 168.99,410.63 169.14,410.14 169.29,410.26 169.44,410.51 169.59,410.50 169.74,410.86 169.89,410.33 170.05,410.62 170.20,410.68 170.35,410.63 170.50,410.86 170.65,410.59 170.80,411.05 170.95,410.47 171.10,410.25 171.25,410.69 171.40,411.06 171.55,410.53 171.70,410.48 171.86,410.55 172.01,410.69 172.16,410.56 172.31,410.68 172.46,410.02 172.61,410.97 172.76,410.64 172.91,410.14 173.06,410.77 173.21,410.43 173.36,410.67 173.51,409.78 173.66,410.58 173.82,409.99 173.97,409.25 174.12,410.02 174.27,409.59 174.42,409.26 174.57,409.39 174.72,408.73 174.87,409.39 175.02,409.01 175.17,408.86 175.32,409.25 175.47,408.68 175.63,408.34 175.78,408.11 175.93,408.26 176.08,408.49 176.23,407.87 176.38,407.63 176.53,408.15 176.68,407.81 176.83,407.72 176.98,408.33 177.13,407.27 177.28,407.69 177.44,407.06 177.59,407.51 177.74,407.78 177.89,407.95 178.04,407.22 178.19,407.87 178.34,407.86 178.49,407.58 178.64,408.37 178.79,407.60 178.94,407.32 179.09,407.70 179.24,406.96 179.40,407.99 179.55,407.77 179.70,407.29 179.85,407.54 180.00,407.45 180.15,407.81 180.30,406.94 180.45,406.64 180.60,406.31 180.75,406.74 180.90,406.23 181.05,406.54 181.21,406.58 181.36,406.18 181.51,405.87 181.66,406.37 181.81,405.77 181.96,405.72 182.11,405.75 182.26,404.85 182.41,404.76 182.56,405.61 182.71,404.56 182.86,404.06 183.02,404.07 183.17,403.74 183.32,403.30 183.47,403.32 183.62,403.21 183.77,402.99 183.92,402.94 184.07,402.03 184.22,401.91 184.37,402.42 184.52,401.86 184.67,402.20 184.82,401.75 184.98,401.05 185.13,401.49 185.28,400.84 185.43,401.06 185.58,401.19 185.73,401.27 185.88,400.40 186.03,400.43 186.18,400.09 186.33,400.01 186.48,398.73 186.63,399.15 186.79,399.11 186.94,398.91 187.09,398.28 187.24,398.53 187.39,398.40 187.54,397.89 187.69,397.65 187.84,397.50 187.99,397.60 188.14,397.92 188.29,398.09 188.44,397.60 188.59,397.64 188.75,397.91 188.90,398.73 189.05,398.79 189.20,399.14 189.35,399.53 189.50,399.85 189.65,400.04 189.80,400.11 189.95,400.58 190.10,401.14 190.25,401.56 190.40,401.65 190.56,401.95 190.71,402.81 190.86,402.56 191.01,403.09 191.16,403.25 191.31,403.41 191.46,403.54 191.61,404.20 191.76,404.47 191.91,405.37 192.06,405.15 192.21,405.78 192.37,406.53 192.52,406.73 192.67,407.36 192.82,407.91 192.97,407.60 193.12,408.43 193.27,408.71 193.42,409.87 193.57,409.86 193.72,410.48 193.87,411.28 194.02,411.06 194.17,411.60 194.33,412.09 194.48,412.26 194.63,413.10 194.78,413.32 194.93,413.73 195.08,413.77 195.23,413.98 195.38,414.29 195.53,414.59 195.68,414.49 195.83,415.39 195.98,415.80 196.14,415.82 196.29,415.93 196.44,416.34 196.59,416.64 196.74,416.91 196.89,417.59 197.04,417.00 197.19,417.59 197.34,417.90 197.49,417.92 197.64,418.03 197.79,417.98 197.95,418.31 198.10,418.89 198.25,419.30 198.40,418.84 198.55,419.35 198.70,419.54 198.85,419.85 199.00,419.79 199.15,420.01 199.30,420.30 199.45,419.83 199.60,420.34 199.75,419.94 199.91,420.02 200.06,420.51 200.21,420.43 200.36,421.19 200.51,421.47 200.66,421.21 200.81,421.39 200.96,421.48 201.11,421.60 201.26,421.84 201.41,422.02 201.56,421.89 201.72,421.91 201.87,422.10 202.02,422.62 202.17,422.35 202.32,423.03 202.47,422.62 202.62,423.21 202.77,422.54 202.92,422.79 203.07,423.24 203.22,423.34 203.37,423.24 203.52,424.00 203.68,423.50 203.83,423.65 203.98,423.48 204.13,424.24 204.28,424.08 204.43,424.04 204.58,423.50 204.73,424.19 204.88,424.02 205.03,424.35 205.18,424.59 205.33,424.16 205.49,424.53 205.64,424.81 205.79,424.66 205.94,424.59 206.09,424.44 206.24,424.63 206.39,424.51 206.54,425.26 206.69,425.06 206.84,424.73 206.99,425.16 207.14,424.84 207.30,424.30 207.45,425.72 207.60,425.77 207.75,425.03 207.90,425.32 208.05,425.66 208.20,425.54 208.35,425.45 208.50,425.61 208.65,425.75 208.80,425.71 208.95,425.99 209.10,425.91 209.26,425.81 209.41,426.10 209.56,425.64 209.71,426.63 209.86,425.72 210.01,426.27 210.16,426.44 210.31,426.51 210.46,426.52 210.61,426.86 210.76,426.19 210.91,426.56 211.07,426.67 211.22,426.52 211.37,426.53 211.52,427.14 211.67,426.59 211.82,426.70 211.97,426.80 212.12,426.86 212.27,427.02 212.42,426.95 212.57,427.16 212.72,427.13 212.87,427.28 213.03,427.58 213.18,426.96 213.33,427.74 213.48,427.15 213.63,427.52 213.78,427.41 213.93,427.31 214.08,426.85 214.23,427.95 214.38,427.28 214.53,427.31 214.68,427.90 214.84,427.64 214.99,428.22 215.14,428.19 215.29,427.93 215.44,427.82 215.59,428.01 215.74,427.42 215.89,427.90 216.04,427.92 216.19,427.77 216.34,428.02 216.49,427.54 216.65,428.28 216.80,428.42 216.95,427.68 217.10,428.14 217.25,428.59 217.40,428.28 217.55,427.88 217.70,427.92 217.85,428.50 218.00,428.82 218.15,427.98 218.30,428.34 218.45,428.13 218.61,428.30 218.76,428.51 218.91,428.43 219.06,428.27 219.21,429.13 219.36,428.48 219.51,428.50 219.66,428.91 219.81,428.61 219.96,428.57 220.11,428.94 220.26,428.38 220.42,428.93 220.57,429.04 220.72,428.96 220.87,428.73 221.02,428.81 221.17,428.32 221.32,428.82 221.47,428.97 221.62,429.17 221.77,428.97 221.92,428.84 222.07,428.73 222.23,428.99 222.38,429.07 222.53,429.41 222.68,429.07 222.83,428.95 222.98,429.09 223.13,429.00 223.28,429.09 223.43,428.53 223.58,428.73 223.73,428.87 223.88,429.39 224.03,429.25 224.19,429.34 224.34,429.66 224.49,429.03 224.64,429.70 224.79,429.49 224.94,429.19 225.09,429.86 225.24,429.02 225.39,429.13 225.54,429.42 225.69,429.62 225.84,429.46 226.00,428.91 226.15,429.47 226.30,429.56 226.45,430.36 226.60,430.03 226.75,429.68 226.90,429.34 227.05,429.78 227.20,429.35 227.35,429.78 227.50,429.84 227.65,429.64 227.80,429.85 227.96,429.69 228.11,429.64 228.26,430.28 228.41,430.02 228.56,429.77 228.71,429.66 228.86,429.95 229.01,430.09 229.16,430.19 229.31,430.39 229.46,430.11 229.61,429.66 229.77,430.61 229.92,430.37 230.07,430.29 230.22,430.46 230.37,429.64 230.52,429.98 230.67,429.96 230.82,430.48 230.97,429.79 231.12,430.07 231.27,430.63 231.42,430.39 231.58,430.10 231.73,430.78 231.88,429.85 232.03,430.39 232.18,430.21 232.33,430.44 232.48,430.22" fill="none" stroke="#808080" stroke-width="1.5" stroke-linejoin="round"/>
<polyline points="21.50,433.49 21.65,433.54 21.80,432.79 21.95,433.00 22.10,432.38 22.25,432.34 22.40,431.49 22.56,430.93 22.71,430.73 22.86,430.42 23.01,428.87 23.16,428.91 23.31,428.45 23.46,427.22 23.61,426.75 23.76,426.58 23.91,425.53 24.06,424.99 24.21,425.10 24.37,423.75 24.52,423.23 24.67,422.27 24.82,422.12 24.97,421.58 25.12,421.96 25.27,421.33 25.42,420.12 25.57,420.59 25.72,419.76 25.87,418.99 26.02,418.80 26.18,418.19 26.33,417.37 26.48,416.61 26.63,416.41 26.78,416.26 26.93,415.79 27.08,415.37 27.23,415.65 27.38,414.90 27.53,415.43 27.68,415.07 27.83,415.38 27.98,415.23 28.14,415.85 28.29,415.97 28.44,416.07 28.59,416.99 28.74,417.41 28.89,418.09 29.04,418.35 29.19,418.37 29.34,418.87 29.49,418.68 29.64,419.42 29.79,420.45 29.95,420.80 30.10,420.85 30.25,420.96 30.40,421.26 30.55,421.44 30.70,420.97 30.85,421.40 31.00,422.16 31.15,422.30 31.30,422.15 31.45,422.10 31.60,422.18 31.75,422.23 31.91,422.20 32.06,421.98 32.21,422.66 32.36,422.54 32.51,422.66 32.66,423.27 32.81,422.97 32.96,422.62 33.11,423.02 33.26,422.42 33.41,423.19 33.56,422.96 33.72,422.82 33.87,423.05 34.02,423.30 34.17,422.72 34.32,422.55 34.47,423.45 34.62,422.81 34.77,423.22 34.92,422.56 35.07,422.84 35.22,422.52 35.37,422.87 35.53,422.58 35.68,422.44 35.83,423.08 35.98,422.71 36.13,422.00 36.28,422.52 36.43,422.32 36.58,422.24 36.73,422.44 36.88,422.48 37.03,422.65 37.18,422.43 37.33,422.14 37.49,422.57 37.64,423.02 37.79,422.39 37.94,423.02 38.09,423.01 38.24,422.78 38.39,423.04 38.54,422.76 38.69,422.90 38.84,422.74 38.99,423.21 39.14,423.51 39.30,422.92 39.45,423.49 39.60,422.51 39.75,422.89 39.90,422.85 40.05,423.66 40.20,422.96 40.35,423.35 40.50,422.49 40.65,423.10 40.80,423.20 40.95,422.98 41.11,422.13 41.26,422.94 41.41,423.07 41.56,423.15 41.71,422.80 41.86,422.09 42.01,422.44 42.16,422.67 42.31,422.05 42.46,422.35 42.61,421.91 42.76,421.95 42.91,422.01 43.07,421.43 43.22,422.35 43.37,421.38 43.52,421.27 43.67,420.79 43.82,420.86 43.97,420.60 44.12,420.08 44.27,419.90 44.42,420.30 44.57,420.04 44.72,419.15 44.88,419.19 45.03,419.64 45.18,419.64 45.33,419.79 45.48,419.20 45.63,419.74 45.78,419.49 45.93,419.47 46.08,419.65 46.23,420.07 46.38,420.05 46.53,420.27 46.68,419.94 46.84,420.21 46.99,420.10 47.14,420.45 47.29,420.67 47.44,420.82 47.59,421.35 47.74,421.43 47.89,421.70 48.04,421.68 48.19,422.12 48.34,421.99 48.49,422.39 48.65,422.39 48.80,422.60 48.95,422.48 49.10,422.25 49.25,422.30 49.40,423.43 49.55,423.06 49.70,423.17 49.85,423.07 50.00,423.07 50.15,424.14 50.30,423.01 50.46,423.39 50.61,423.46 50.76,423.18 50.91,423.19 51.06,423.41 51.21,423.55 51.36,423.55 51.51,423.97 51.66,423.40 51.81,423.90 51.96,424.24 52.11,424.08 52.26,423.49 52.42,422.96 52.57,424.10 52.72,424.01 52.87,423.68 53.02,424.24 53.17,423.74 53.32,423.88 53.47,423.53 53.62,423.93 53.77,423.69 53.92,423.66 54.07,424.12 54.23,423.84 54.38,423.30 54.53,423.94 54.68,423.96 54.83,423.43 54.98,423.53 55.13,423.63 55.28,423.51 55.43,423.59 55.58,423.71 55.73,423.33 55.88,424.06 56.03,423.18 56.19,423.18 56.34,423.89 56.49,423.97 56.64,423.21 56.79,423.09 56.94,422.77 57.09,423.38 57.24,423.03 57.39,422.66 57.54,422.98 57.69,423.20 57.84,422.93 58.00,423.31 58.15,422.93 58.30,422.64 58.45,422.42 58.60,422.52 58.75,422.63 58.90,422.44 59.05,422.42 59.20,422.08 59.35,422.15 59.50,422.19 59.65,421.68 59.81,421.24 59.96,422.04 60.11,421.59 60.26,421.18 60.41,421.27 60.56,421.01 60.71,420.45 60.86,420.79 61.01,420.29 61.16,420.65 61.31,420.42 61.46,420.66 61.61,420.14 61.77,420.14 61.92,419.79 62.07,419.61 62.22,419.15 62.37,419.70 62.52,419.29 62.67,418.89 62.82,418.95 62.97,418.58 63.12,418.30 63.27,418.40 63.42,418.49 63.58,417.84 63.73,417.28 63.88,417.30 64.03,417.80 64.18,416.79 64.33,417.15 64.48,416.48 64.63,416.52 64.78,416.01 64.93,415.30 65.08,415.37 65.23,415.85 65.39,414.88 65.54,414.79 65.69,414.21 65.84,413.96 65.99,413.77 66.14,413.48 66.29,413.65 66.44,412.63 66.59,412.22 66.74,411.70 66.89,411.12 67.04,410.64 67.19,410.92 67.35,409.75 67.50,410.30 67.65,409.71 67.80,408.92 67.95,408.21 68.10,408.10 68.25,407.63 68.40,407.48 68.55,406.43 68.70,406.04 68.85,405.63 69.00,405.06 69.16,404.43 69.31,403.58 69.46,403.08 69.61,402.83 69.76,402.43 69.91,402.26 70.06,402.12 70.21,401.41 70.36,400.48 70.51,400.40 70.66,399.29 70.81,398.66 70.96,399.01 71.12,397.52 71.27,397.25 71.42,396.85 71.57,396.95 71.72,395.94 71.87,395.99 72.02,395.30 72.17,394.75 72.32,394.93 72.47,394.69 72.62,394.12 72.77,394.07 72.93,394.01 73.08,394.49 73.23,394.35 73.38,394.34 73.53,394.52 73.68,394.37 73.83,394.85 73.98,394.76 74.13,394.82 74.28,395.32 74.43,395.94 74.58,396.29 74.74,397.00 74.89,396.61 75.04,397.52 75.19,398.19 75.34,398.29 75.49,399.18 75.64,399.52 75.79,399.86 75.94,401.09 76.09,400.91 76.24,402.20 76.39,402.35 76.54,402.78 76.70,403.37 76.85,404.00 77.00,404.54 77.15,405.45 77.30,405.37 77.45,406.87 77.60,407.30 77.75,408.01 77.90,407.84 78.05,407.96 78.20,408.99 78.35,409.63 78.51,410.27 78.66,410.50 78.81,411.11 78.96,411.64 79.11,411.58 79.26,413.02 79.41,412.57 79.56,413.40 79.71,414.05 79.86,413.89 80.01,414.51 80.16,415.37 80.32,415.17 80.47,415.93 80.62,416.06 80.77,416.39 80.92,416.89 81.07,416.95 81.22,417.30 81.37,418.00 81.52,418.13 81.67,418.55 81.82,418.38 81.97,419.09 82.12,419.80 82.28,420.06 82.43,420.24 82.58,420.33 82.73,420.66 82.88,421.32 83.03,421.96 83.18,421.89 83.33,422.61 83.48,422.47 83.63,423.26 83.78,422.92 83.93,423.60 84.09,423.54 84.24,424.37 84.39,424.65 84.54,424.49 84.69,424.84 84.84,425.22 84.99,425.18 85.14,425.62 85.29,425.90 85.44,426.65 85.59,427.08 85.74,426.77 85.89,427.05 86.05,427.43 86.20,427.43 86.35,427.72 86.50,428.27 86.65,428.29 86.80,428.39 86.95,428.44 87.10,429.24 87.25,428.80 87.40,429.20 87.55,429.03 87.70,429.33 87.86,429.70 88.01,429.71 88.16,430.14 88.31,430.16 88.46,429.87 88.61,429.74 88.76,430.87 88.91,430.53 89.06,431.29 89.21,430.98 89.36,430.88 89.51,431.40 89.67,431.27 89.82,431.48 89.97,431.32 90.12,431.91 90.27,432.16 90.42,431.79 90.57,432.59 90.72,432.00 90.87,432.36 91.02,431.90 91.17,431.92 91.32,433.23 91.47,433.14 91.63,433.16 91.78,432.41 91.93,433.08 92.08,433.24 92.23,433.23 92.38,433.40 92.53,433.12 92.68,433.44 92.83,433.24 92.98,433.56 93.13,433.86 93.28,433.60 93.44,433.83 93.59,433.86 93.74,434.07 93.89,434.42 94.04,434.28 94.19,434.39 94.34,433.91 94.49,434.29 94.64,434.70 94.79,434.25 94.94,434.43 95.09,434.32 95.24,435.05 95.40,434.55 95.55,434.50 95.70,434.94 95.85,435.11 96.00,434.95 96.15,435.11 96.30,434.89 96.45,434.79 96.60,434.70 96.75,434.67 96.90,434.63 97.05,434.90 97.21,434.73 97.36,434.75 97.51,434.86 97.66,434.61 97.81,434.15 97.96,434.24 98.11,434.06 98.26,433.72 98.41,434.21 98.56,433.69 98.71,433.52 98.86,433.41 99.02,433.82 99.17,433.27 99.32,433.44 99.47,432.88 99.62,432.51 99.77,432.53 99.92,432.24 100.07,431.78 100.22,431.10 100.37,430.92 100.52,430.34 100.67,430.26 100.82,430.01 100.98,430.08 101.13,429.74 101.28,429.23 101.43,429.07 101.58,428.67 101.73,429.32 101.88,428.91 102.03,429.28 102.18,428.72 102.33,428.93 102.48,429.38 102.63,429.45 102.79,429.86 102.94,429.88 103.09,430.89 103.24,431.11 103.39,431.77 103.54,431.92 103.69,431.90 103.84,433.02 103.99,433.64 104.14,433.31 104.29,433.79 104.44,434.35 104.60,434.71 104.75,434.59 104.90,435.93 105.05,435.99 105.20,435.77 105.35,435.66 105.50,436.54 105.65,437.25 105.80,437.11 105.95,437.39 106.10,436.95 106.25,437.47 106.40,437.11 106.56,438.30 106.71,438.02 106.86,437.35 107.01,437.55 107.16,438.36 107.31,438.37 107.46,438.34 107.61,438.72 107.76,439.23 107.91,438.83 108.06,438.26 108.21,438.83 108.37,438.56 108.52,438.78 108.67,439.19 108.82,439.10 108.97,438.89 109.12,439.26 109.27,439.08 109.42,439.53 109.57,439.35 109.72,439.58 109.87,439.42 110.02,439.76 110.17,439.53 110.33,439.60 110.48,439.46 110.63,439.70 110.78,439.15 110.93,440.50 111.08,439.51 111.23,439.76 111.38,439.60 111.53,439.60 111.68,439.88 111.83,439.60 111.98,439.62 112.14,439.33 112.29,439.46 112.44,439.37 112.59,440.24 112.74,439.28 112.89,439.33 113.04,439.67 113.19,440.00 113.34,439.02 113.49,439.02 113.64,439.46 113.79,439.46 113.95,438.87 114.10,438.67 114.25,438.84 114.40,439.26 114.55,438.92 114.70,439.04 114.85,438.66 115.00,438.55 115.15,438.60 115.30,438.23 115.45,438.17 115.60,437.65 115.75,437.56 115.91,437.69 116.06,437.28 116.21,436.92 116.36,437.13 116.51,436.88 116.66,436.51 116.81,436.08 116.96,436.38 117.11,436.68 117.26,435.53 117.41,435.19 117.56,435.31 117.72,435.20 117.87,435.07 118.02,435.11 118.17,435.76 118.32,435.85 118.47,436.15 118.62,436.08 118.77,435.89 118.92,436.56 119.07,436.26 119.22,436.56 119.37,436.54 119.53,437.50 119.68,437.66 119.83,437.45 119.98,437.71 120.13,438.03 120.28,438.28 120.43,438.67 120.58,438.62 120.73,438.89 120.88,438.48 121.03,438.99 121.18,438.68 121.33,439.89 121.49,439.89 121.64,439.80 121.79,440.02 121.94,440.38 122.09,440.14 122.24,439.46 122.39,439.94 122.54,439.36 122.69,439.88 122.84,439.80 122.99,440.21 123.14,440.36 123.30,440.00 123.45,440.22 123.60,440.41 123.75,440.29 123.90,440.29 124.05,439.63 124.20,440.22 124.35,440.58 124.50,440.41 124.65,439.87 124.80,440.21 124.95,440.35 125.10,439.95 125.26,440.41 125.41,439.93 125.56,440.02 125.71,440.04 125.86,440.69 126.01,439.86 126.16,439.72 126.31,440.04 126.46,439.60 126.61,439.72 126.76,438.90 126.91,439.57 127.07,439.37 127.22,438.88 127.37,439.56 127.52,438.96 127.67,438.84 127.82,438.37 127.97,438.13 128.12,438.29 128.27,437.85 128.42,438.28 128.57,438.21 128.72,437.57 128.88,437.08 129.03,437.24 129.18,436.83 129.33,436.97 129.48,436.74 129.63,436.31 129.78,436.21 129.93,436.24 130.08,436.17 130.23,435.22 130.38,435.31 130.53,434.74 130.68,434.20 130.84,434.61 130.99,434.06 131.14,433.69 131.29,433.47 131.44,433.04 131.59,432.51 131.74,433.10 131.89,432.60 132.04,432.19 132.19,432.21 132.34,432.13 132.49,431.55 132.65,431.67 132.80,431.31 132.95,431.55 133.10,431.27 133.25,432.09 133.40,431.30 133.55,431.65 133.70,431.74 133.85,431.64 134.00,432.18 134.15,432.06 134.30,432.16 134.45,432.50 134.61,432.51 134.76,433.33 134.91,433.41 135.06,433.76 135.21,433.32 135.36,434.06 135.51,433.99 135.66,434.49 135.81,435.09 135.96,435.02 136.11,435.11 136.26,435.72 136.42,435.89 136.57,436.34 136.72,435.41 136.87,436.24 137.02,436.18 137.17,436.20 137.32,436.64 137.47,436.39 137.62,436.19 137.77,436.70 137.92,436.99 138.07,437.72 138.23,437.03 138.38,436.97 138.53,436.78 138.68,437.33 138.83,437.40 138.98,437.56 139.13,437.11 139.28,437.33 139.43,436.89 139.58,437.63 139.73,437.10 139.88,436.74 140.03,437.90 140.19,437.68 140.34,437.61 140.49,437.57 140.64,437.12 140.79,437.72 140.94,437.04 141.09,437.88 141.24,437.32 141.39,436.65 141.54,437.42 141.69,437.70 141.84,436.98 142.00,437.33 142.15,436.91 142.30,436.74 142.45,436.12 142.60,437.23 142.75,436.70 142.90,436.93 143.05,436.47 143.20,436.53 143.35,437.14 143.50,436.70 143.65,436.72 143.81,436.49 143.96,436.97 144.11,437.19 144.26,436.87 144.41,437.01 144.56,436.77 144.71,437.63 144.86,437.10 145.01,437.33 145.16,437.97 145.31,437.49 145.46,437.19 145.61,437.48 145.77,437.75 145.92,438.50 146.07,438.13 146.22,438.10 146.37,438.52 146.52,438.77 146.67,438.25 146.82,439.01 146.97,438.94 147.12,438.91 147.27,438.16 147.42,439.02 147.58,439.47 147.73,439.05 147.88,439.92 148.03,439.32 148.18,439.07 148.33,439.63 148.48,439.62 148.63,439.85 148.78,439.60 148.93,440.12 149.08,439.62 149.23,439.89 149.38,439.53 149.54,439.72 149.69,440.07 149.84,439.86 149.99,439.97 150.14,440.09 150.29,440.27 150.44,440.47 150.59,440.51 150.74,440.62 150.89,440.41 151.04,440.21 151.19,439.93 151.35,440.33 151.50,440.23 151.65,439.94 151.80,441.02 151.95,439.98 152.10,440.67 152.25,440.75 152.40,440.53 152.55,441.41 152.70,440.64 152.85,440.42 153.00,441.20 153.16,440.44 153.31,440.26 153.46,440.40 153.61,440.52 153.76,440.74 153.91,440.83 154.06,440.28 154.21,440.85 154.36,441.43 154.51,440.53 154.66,440.71 154.81,440.96 154.96,441.11 155.12,440.54 155.27,440.44 155.42,440.41 155.57,441.04 155.72,440.96 155.87,440.00 156.02,439.98 156.17,440.22 156.32,440.10 156.47,440.63 156.62,440.52 156.77,440.98 156.93,440.54 157.08,440.24 157.23,440.45 157.38,439.69 157.53,439.39 157.68,439.65 157.83,439.72 157.98,438.72 158.13,439.22 158.28,438.92 158.43,438.17 158.58,438.01 158.74,437.47 158.89,437.13 159.04,436.86 159.19,435.85 159.34,435.87 159.49,435.24 159.64,434.65 159.79,433.17 159.94,432.59 160.09,432.77 160.24,431.79 160.39,431.18 160.54,430.62 160.70,429.93 160.85,429.77 161.00,429.20 161.15,428.81 161.30,428.79 161.45,427.96 161.60,428.37 161.75,427.08 161.90,428.29 162.05,426.91 162.20,427.32 162.35,427.26 162.51,426.84 162.66,426.94 162.81,426.57 162.96,425.96 163.11,426.52 163.26,426.68 163.41,426.09 163.56,425.67 163.71,425.94 163.86,426.16 164.01,426.09 164.16,426.28 164.31,426.06 164.47,425.99 164.62,425.17 164.77,426.41 164.92,425.69 165.07,425.89 165.22,425.47 165.37,425.47 165.52,425.48 165.67,425.89 165.82,425.82 165.97,425.50 166.12,425.87 166.28,425.09 166.43,425.32 166.58,424.98 166.73,425.47 166.88,425.05 167.03,425.30 167.18,425.49 167.33,424.31 167.48,425.58 167.63,425.00 167.78,424.79 167.93,424.29 168.09,424.78 168.24,424.17 168.39,424.91 168.54,424.83 168.69,425.45 168.84,424.81 168.99,425.25 169.14,425.29 169.29,425.58 169.44,424.89 169.59,425.21 169.74,424.53 169.89,424.66 170.05,424.93 170.20,425.01 170.35,424.64 170.50,424.89 170.65,425.22 170.80,424.86 170.95,424.94 171.10,424.69 171.25,425.36 171.40,425.46 171.55,424.94 171.70,424.80 171.86,425.30 172.01,424.88 172.16,424.47 172.31,424.20 172.46,424.36 172.61,425.13 172.76,424.19 172.91,425.16 173.06,424.17 173.21,423.99 173.36,424.34 173.51,423.73 173.66,423.78 173.82,423.19 173.97,422.96 174.12,422.95 174.27,423.06 174.42,422.59 174.57,421.99 174.72,422.53 174.87,422.12 175.02,421.86 175.17,421.53 175.32,420.79 175.47,421.75 175.63,420.89 175.78,420.99 175.93,421.05 176.08,420.79 176.23,420.35 176.38,420.16 176.53,420.15 176.68,420.26 176.83,420.12 176.98,419.80 177.13,420.10 177.28,420.14 177.44,420.31 177.59,420.26 177.74,420.73 177.89,420.50 178.04,420.84 178.19,420.72 178.34,420.66 178.49,420.68 178.64,421.05 178.79,421.38 178.94,421.72 179.09,421.40 179.24,421.36 179.40,421.44 179.55,422.06 179.70,421.74 179.85,421.60 180.00,422.01 180.15,421.39 180.30,421.84 180.45,421.79 180.60,421.74 180.75,421.40 180.90,422.01 181.05,422.18 181.21,421.19 181.36,421.56 181.51,421.64 181.66,422.04 181.81,421.10 181.96,420.82 182.11,420.98 182.26,421.46 182.41,420.72 182.56,420.62 182.71,420.91 182.86,419.53 183.02,419.34 183.17,420.10 183.32,419.86 183.47,419.00 183.62,419.39 183.77,419.05 183.92,418.91 184.07,418.41 184.22,418.33 184.37,418.01 184.52,418.12 184.67,417.85 184.82,418.25 184.98,417.75 185.13,416.88 185.28,417.30 185.43,417.40 185.58,416.83 185.73,416.85 185.88,416.27 186.03,416.24 186.18,415.46 186.33,415.71 186.48,414.75 186.63,415.26 186.79,414.09 186.94,413.60 187.09,414.12 187.24,413.62 187.39,413.46 187.54,413.35 187.69,413.06 187.84,412.71 187.99,413.03 188.14,413.15 188.29,413.35 188.44,414.04 188.59,413.52 188.75,414.15 188.90,414.75 189.05,414.93 189.20,415.23 189.35,415.97 189.50,417.03 189.65,417.19 189.80,418.03 189.95,418.18 190.10,419.10 190.25,419.30 190.40,419.79 190.56,420.61 190.71,421.10 190.86,422.05 191.01,421.60 191.16,422.75 191.31,423.59 191.46,424.01 191.61,423.97 191.76,424.38 191.91,424.94 192.06,425.69 192.21,426.17 192.37,426.74 192.52,427.33 192.67,427.33 192.82,427.84 192.97,428.32 193.12,428.80 193.27,429.69 193.42,430.32 193.57,431.50 193.72,431.37 193.87,431.69 194.02,432.59 194.17,432.38 194.33,433.16 194.48,433.80 194.63,434.17 194.78,434.47 194.93,434.65 195.08,434.78 195.23,435.51 195.38,435.76 195.53,436.53 195.68,436.64 195.83,437.22 195.98,436.90 196.14,438.04 196.29,437.82 196.44,437.93 196.59,438.32 196.74,438.87 196.89,439.72 197.04,439.90 197.19,439.63 197.34,440.31 197.49,440.55 197.64,440.39 197.79,440.85 197.95,440.81 198.10,441.44 198.25,441.17 198.40,442.00 198.55,442.22 198.70,442.53 198.85,442.77 199.00,443.63 199.15,443.42 199.30,443.84 199.45,444.24 199.60,444.52 199.75,444.69 199.91,444.54 200.06,444.59 200.21,444.91 200.36,445.23 200.51,445.59 200.66,445.77 200.81,446.34 200.96,446.18 201.11,446.97 201.26,446.93 201.41,446.66 201.56,447.26 201.72,446.31 201.87,447.80 202.02,447.68 202.17,447.86 202.32,447.40 202.47,448.86 202.62,448.18 202.77,448.38 202.92,448.94 203.07,448.69 203.22,448.65 203.37,449.27 203.52,448.91 203.68,449.60 203.83,449.56 203.98,450.01 204.13,449.44 204.28,450.33 204.43,450.18 204.58,450.83 204.73,450.16 204.88,451.06 205.03,450.83 205.18,450.99 205.33,450.64 205.49,451.16 205.64,451.31 205.79,450.97 205.94,450.99 206.09,451.22 206.24,452.02 206.39,451.73 206.54,452.07 206.69,451.98 206.84,452.03 206.99,452.16 207.14,452.07 207.30,452.67 207.45,452.45 207.60,452.56 207.75,452.16 207.90,452.77 208.05,452.56 208.20,452.70 208.35,453.26 208.50,452.69 208.65,453.05 208.80,453.39 208.95,453.63 209.10,453.20 209.26,453.54 209.41,453.60 209.56,453.25 209.71,453.01 209.86,453.15 210.01,454.00 210.16,453.92 210.31,453.55 210.46,453.83 210.61,453.98 210.76,454.06 210.91,454.23 211.07,454.98 211.22,454.13 211.37,454.47 211.52,454.26 211.67,454.36 211.82,454.35 211.97,454.61 212.12,454.57 212.27,454.90 212.42,454.92 212.57,454.64 212.72,455.56 212.87,454.66 213.03,455.19 213.18,455.80 213.33,454.97 213.48,455.64 213.63,455.73 213.78,455.45 213.93,454.83 214.08,455.88 214.23,455.52 214.38,455.37 214.53,455.98 214.68,455.42 214.84,456.01 214.99,455.56 215.14,455.94 215.29,455.49 215.44,455.75 215.59,455.63 215.74,455.74 215.89,456.06 216.04,455.99 216.19,456.14 216.34,456.52 216.49,456.13 216.65,455.64 216.80,456.16 216.95,456.32 217.10,456.64 217.25,456.69 217.40,456.70 217.55,456.38 217.70,456.68 217.85,456.08 218.00,456.96 218.15,456.73 218.30,456.79 218.45,456.56 218.61,456.72 218.76,456.54 218.91,456.95 219.06,456.41 219.21,457.15 219.36,457.05 219.51,457.54 219.66,456.94 219.81,456.96 219.96,457.08 220.11,457.06 220.26,457.05 220.42,456.78 220.57,456.81 220.72,457.00 220.87,457.12 221.02,456.88 221.17,456.92 221.32,457.22 221.47,457.56 221.62,457.30 221.77,457.60 221.92,457.72 222.07,457.69 222.23,457.35 222.38,457.39 222.53,456.97 222.68,457.36 222.83,457.74 222.98,457.29 223.13,458.07 223.28,458.12 223.43,457.59 223.58,458.02 223.73,457.33 223.88,457.47 224.03,457.70 224.19,457.84 224.34,457.81 224.49,457.63 224.64,458.52 224.79,458.03 224.94,458.06 225.09,458.20 225.24,458.07 225.39,457.97 225.54,457.90 225.69,457.59 225.84,458.58 226.00,457.86 226.15,457.66 226.30,457.94 226.45,457.72 226.60,458.85 226.75,458.37 226.90,458.72 227.05,458.75 227.20,458.50 227.35,458.53 227.50,458.15 227.65,458.37 227.80,458.23 227.96,458.46 228.11,458.25 228.26,458.87 228.41,458.74 228.56,458.50 228.71,458.04 228.86,458.78 229.01,458.86 229.16,458.59 229.31,458.25 229.46,458.79 229.61,459.00 229.77,458.11 229.92,458.89 230.07,458.18 230.22,458.78 230.37,459.31 230.52,458.83 230.67,458.97 230.82,458.74 230.97,458.86 231.12,459.60 231.27,459.31 231.42,458.82 231.58,458.82 231.73,458.96 231.88,459.64 232.03,459.06 232.18,459.35 232.33,458.92 232.48,458.66" fill="none" stroke="#FF78FF" stroke-width="1.5" stroke-linejoin="round"/>
<polyline points="21.50,457.38 21.65,456.73 21.80,456.26 21.95,456.00 22.10,455.70 22.25,455.38 22.40,454.72 22.56,455.16 22.71,454.48 22.86,454.20 23.01,453.32 23.16,453.03 23.31,452.45 23.46,452.23 23.61,451.59 23.76,450.91 23.91,450.06 24.06,449.35 24.21,448.94 24.37,448.45 24.52,447.95 24.67,447.20 24.82,447.55 24.97,446.59 25.12,445.34 25.27,445.07 25.42,444.42 25.57,444.31 25.72,443.96 25.87,442.71 26.02,442.56 26.18,441.64 26.33,441.42 26.48,440.85 26.63,439.91 26.78,439.46 26.93,438.72 27.08,438.18 27.23,437.60 27.38,437.84 27.53,437.64 27.68,437.59 27.83,437.85 27.98,438.11 28.14,438.23 28.29,438.85 28.44,439.88 28.59,440.01 28.74,441.08 28.89,440.87 29.04,441.37 29.19,442.36 29.34,443.06 29.49,443.11 29.64,443.94 29.79,444.44 29.95,444.86 30.10,444.85 30.25,445.18 30.40,444.98 30.55,445.74 30.70,446.05 30.85,446.60 31.00,445.97 31.15,446.26 31.30,446.35 31.45,447.06 31.60,446.12 31.75,446.66 31.91,447.69 32.06,447.33 32.21,446.77 32.36,447.20 32.51,447.50 32.66,447.43 32.81,447.20 32.96,447.02 33.11,447.50 33.26,447.22 33.41,447.44 33.56,447.28 33.72,446.97 33.87,447.49 34.02,446.84 34.17,447.06 34.32,446.66 34.47,446.71 34.62,446.62 34.77,446.41 34.92,446.60 35.07,446.84 35.22,446.93 35.37,446.72 35.53,446.16 35.68,446.58 35.83,446.20 35.98,446.56 36.13,445.59 36.28,446.38 36.43,445.73 36.58,446.24 36.73,445.75 36.88,446.17 37.03,445.83 37.18,445.37 37.33,445.68 37.49,445.95 37.64,446.08 37.79,445.45 37.94,445.82 38.09,446.02 38.24,446.24 38.39,446.43 38.54,446.18 38.69,446.02 38.84,446.62 38.99,446.48 39.14,446.89 39.30,446.50 39.45,446.88 39.60,446.43 39.75,446.80 39.90,446.75 40.05,446.85 40.20,446.42 40.35,446.64 40.50,446.39 40.65,446.55 40.80,446.73 40.95,447.38 41.11,446.41 41.26,446.53 41.41,446.25 41.56,446.45 41.71,446.12 41.86,446.17 42.01,445.81 42.16,446.27 42.31,445.79 42.46,444.67 42.61,445.08 42.76,444.81 42.91,443.90 43.07,444.08 43.22,443.96 43.37,443.63 43.52,443.63 43.67,442.79 43.82,443.30 43.97,443.05 44.12,442.66 44.27,442.21 44.42,442.07 44.57,441.71 44.72,441.99 44.88,441.62 45.03,441.92 45.18,441.09 45.33,441.55 45.48,440.89 45.63,441.01 45.78,440.77 45.93,441.31 46.08,441.24 46.23,441.58 46.38,442.01 46.53,441.74 46.68,442.09 46.84,442.48 46.99,442.45 47.14,442.56 47.29,443.11 47.44,443.43 47.59,443.79 47.74,444.08 47.89,443.89 48.04,444.49 48.19,444.99 48.34,444.72 48.49,445.21 48.65,445.15 48.80,445.60 48.95,446.28 49.10,446.01 49.25,445.85 49.40,446.42 49.55,446.55 49.70,446.98 49.85,446.38 50.00,446.65 50.15,447.04 50.30,446.71 50.46,447.64 50.61,446.79 50.76,447.25 50.91,447.14 51.06,447.48 51.21,447.99 51.36,448.01 51.51,448.17 51.66,448.14 51.81,447.40 51.96,448.15 52.11,447.56 52.26,448.00 52.42,448.08 52.57,448.07 52.72,448.41 52.87,448.04 53.02,448.83 53.17,448.51 53.32,448.71 53.47,448.59 53.62,448.65 53.77,448.37 53.92,448.98 54.07,448.08 54.23,448.54 54.38,448.40 54.53,448.33 54.68,448.48 54.83,448.15 54.98,448.63 55.13,448.59 55.28,448.37 55.43,448.55 55.58,447.99 55.73,447.74 55.88,448.09 56.03,448.17 56.19,448.96 56.34,448.11 56.49,448.46 56.64,448.37 56.79,448.72 56.94,448.09 57.09,448.21 57.24,447.92 57.39,447.67 57.54,447.59 57.69,447.61 57.84,448.23 58.00,447.84 58.15,447.65 58.30,447.65 58.45,447.42 58.60,447.53 58.75,447.47 58.90,447.61 59.05,447.63 59.20,446.80 59.35,447.29 59.50,447.57 59.65,446.78 59.81,446.93 59.96,446.98 60.11,447.19 60.26,446.95 60.41,446.62 60.56,446.75 60.71,446.83 60.86,446.54 61.01,446.89 61.16,446.36 61.31,445.82 61.46,445.79 61.61,445.88 61.77,445.75 61.92,445.89 62.07,445.69 62.22,445.98 62.37,445.58 62.52,445.65 62.67,444.85 62.82,444.81 62.97,445.00 63.12,444.68 63.27,444.69 63.42,444.42 63.58,444.00 63.73,444.53 63.88,444.19 64.03,443.20 64.18,443.30 64.33,443.30 64.48,443.30 64.63,442.88 64.78,442.28 64.93,442.72 65.08,442.18 65.23,442.38 65.39,441.87 65.54,441.83 65.69,441.52 65.84,441.27 65.99,440.58 66.14,440.75 66.29,440.21 66.44,439.47 66.59,439.41 66.74,439.10 66.89,439.00 67.04,438.71 67.19,437.81 67.35,437.98 67.50,437.35 67.65,436.65 67.80,436.80 67.95,435.89 68.10,435.31 68.25,435.43 68.40,435.00 68.55,434.04 68.70,434.04 68.85,433.50 69.00,432.50 69.16,432.70 69.31,431.51 69.46,431.00 69.61,429.61 69.76,429.90 69.91,428.89 70.06,428.56 70.21,427.26 70.36,427.46 70.51,426.88 70.66,426.33 70.81,424.21 70.96,424.60 71.12,423.86 71.27,422.21 71.42,422.26 71.57,421.85 71.72,421.72 71.87,420.51 72.02,420.32 72.17,419.80 72.32,419.54 72.47,418.98 72.62,419.11 72.77,418.95 72.93,418.14 73.08,418.85 73.23,418.33 73.38,418.59 73.53,419.20 73.68,419.16 73.83,419.64 73.98,420.09 74.13,420.48 74.28,420.64 74.43,421.06 74.58,422.12 74.74,422.75 74.89,423.26 75.04,423.75 75.19,424.72 75.34,425.13 75.49,425.40 75.64,426.57 75.79,427.30 75.94,428.05 76.09,428.21 76.24,428.90 76.39,429.85 76.54,430.24 76.70,430.96 76.85,431.85 77.00,432.26 77.15,433.25 77.30,433.33 77.45,434.28 77.60,434.59 77.75,435.52 77.90,435.23 78.05,435.65 78.20,436.50 78.35,436.37 78.51,436.78 78.66,437.37 78.81,437.77 78.96,437.59 79.11,438.41 79.26,438.56 79.41,438.95 79.56,439.29 79.71,439.46 79.86,440.10 80.01,440.18 80.16,440.23 80.32,440.54 80.47,441.06 80.62,441.22 80.77,441.59 80.92,441.39 81.07,441.70 81.22,442.49 81.37,442.11 81.52,442.86 81.67,442.85 81.82,442.72 81.97,442.68 82.12,443.55 82.28,443.41 82.43,443.68 82.58,443.65 82.73,444.80 82.88,444.76 83.03,445.02 83.18,445.41 83.33,445.65 83.48,445.88 83.63,446.28 83.78,446.32 83.93,445.89 84.09,447.14 84.24,447.30 84.39,447.43 84.54,448.13 84.69,447.47 84.84,447.24 84.99,448.76 85.14,448.64 85.29,448.23 85.44,448.78 85.59,449.26 85.74,448.88 85.89,449.57 86.05,450.19 86.20,450.11 86.35,449.82 86.50,450.05 86.65,449.79 86.80,450.23 86.95,450.19 87.10,450.09 87.25,450.07 87.40,451.13 87.55,450.65 87.70,450.39 87.86,450.63 88.01,451.26 88.16,451.35 88.31,450.73 88.46,451.02 88.61,451.27 88.76,450.94 88.91,450.72 89.06,450.82 89.21,451.14 89.36,450.94 89.51,450.82 89.67,451.18 89.82,451.56 89.97,451.53 90.12,451.31 90.27,452.00 90.42,451.25 90.57,451.53 90.72,451.21 90.87,451.93 91.02,451.74 91.17,451.37 91.32,451.72 91.47,452.60 91.63,452.39 91.78,452.32 91.93,452.66 92.08,452.04 92.23,452.40 92.38,452.37 92.53,452.64 92.68,452.90 92.83,453.29 92.98,453.56 93.13,453.67 93.28,454.30 93.44,453.46 93.59,453.72 93.74,453.98 93.89,453.68 94.04,453.94 94.19,454.24 94.34,453.94 94.49,454.42 94.64,454.71 94.79,454.08 94.94,453.79 95.09,454.55 95.24,454.25 95.40,454.65 95.55,454.49 95.70,454.73 95.85,454.99 96.00,454.89 96.15,454.53 96.30,454.26 96.45,453.84 96.60,453.89 96.75,454.24 96.90,454.43 97.05,454.12 97.21,454.04 97.36,453.63 97.51,453.48 97.66,453.30 97.81,453.83 97.96,452.86 98.11,453.44 98.26,452.73 98.41,452.89 98.56,452.51 98.71,452.34 98.86,452.12 99.02,451.15 99.17,450.67 99.32,450.37 99.47,449.77 99.62,449.66 99.77,448.85 99.92,448.28 100.07,447.75 100.22,446.80 100.37,446.57 100.52,444.97 100.67,444.85 100.82,444.21 100.98,443.14 101.13,442.51 101.28,442.40 101.43,441.54 101.58,440.68 101.73,440.59 101.88,441.18 102.03,440.64 102.18,441.48 102.33,441.82 102.48,441.81 102.63,442.60 102.79,442.86 102.94,443.72 103.09,444.42 103.24,445.62 103.39,445.89 103.54,447.06 103.69,447.93 103.84,448.85 103.99,448.82 104.14,449.65 104.29,450.60 104.44,451.45 104.60,452.17 104.75,452.75 104.90,453.83 105.05,453.93 105.20,454.38 105.35,454.49 105.50,455.28 105.65,455.63 105.80,455.98 105.95,456.07 106.10,456.60 106.25,457.16 106.40,456.74 106.56,456.58 106.71,457.71 106.86,457.91 107.01,457.83 107.16,457.96 107.31,459.10 107.46,458.31 107.61,458.25 107.76,458.63 107.91,459.06 108.06,458.87 108.21,459.06 108.37,459.39 108.52,459.29 108.67,459.56 108.82,459.61 108.97,459.40 109.12,459.83 109.27,459.55 109.42,460.25 109.57,459.77 109.72,460.05 109.87,459.65 110.02,460.12 110.17,459.94 110.33,460.81 110.48,460.38 110.63,460.61 110.78,459.98 110.93,460.17 111.08,460.52 111.23,460.20 111.38,460.97 111.53,460.53 111.68,460.71 111.83,460.77 111.98,460.64 112.14,460.92 112.29,460.49 112.44,460.80 112.59,461.03 112.74,460.73 112.89,460.68 113.04,460.52 113.19,460.60 113.34,460.75 113.49,460.43 113.64,459.95 113.79,460.44 113.95,460.28 114.10,460.39 114.25,460.17 114.40,460.53 114.55,459.61 114.70,459.56 114.85,459.92 115.00,459.29 115.15,459.54 115.30,459.29 115.45,458.54 115.60,459.14 115.75,459.16 115.91,458.62 116.06,457.93 116.21,458.36 116.36,457.61 116.51,457.66 116.66,457.60 116.81,457.03 116.96,456.57 117.11,456.84 117.26,456.71 117.41,456.34 117.56,456.26 117.72,456.64 117.87,456.38 118.02,456.28 118.17,456.30 118.32,456.63 118.47,456.74 118.62,456.83 118.77,456.67 118.92,457.18 119.07,457.35 119.22,457.80 119.37,458.37 119.53,458.57 119.68,458.74 119.83,458.83 119.98,458.95 120.13,459.38 120.28,459.37 120.43,459.63 120.58,459.69 120.73,460.12 120.88,460.29 121.03,461.03 121.18,460.81 121.33,460.69 121.49,461.17 121.64,460.93 121.79,461.49 121.94,461.53 122.09,462.25 122.24,461.19 122.39,461.57 122.54,461.64 122.69,461.83 122.84,462.02 122.99,461.59 123.14,461.72 123.30,462.07 123.45,462.30 123.60,461.73 123.75,461.64 123.90,462.45 124.05,462.39 124.20,462.48 124.35,461.90 124.50,462.13 124.65,462.26 124.80,462.32 124.95,462.16 125.10,462.17 125.26,462.47 125.41,462.03 125.56,461.98 125.71,461.98 125.86,461.93 126.01,462.08 126.16,461.94 126.31,461.83 126.46,462.32 126.61,461.94 126.76,461.70 126.91,462.10 127.07,461.50 127.22,461.59 127.37,461.48 127.52,461.25 127.67,461.21 127.82,461.24 127.97,460.70 128.12,460.89 128.27,460.95 128.42,460.83 128.57,460.70 128.72,461.14 128.88,460.51 129.03,460.11 129.18,459.95 129.33,459.81 129.48,459.76 129.63,459.35 129.78,459.67 129.93,458.72 130.08,459.01 130.23,458.75 130.38,458.06 130.53,458.34 130.68,458.09 130.84,457.52 130.99,458.14 131.14,457.45 131.29,456.93 131.44,456.67 131.59,456.39 131.74,456.48 131.89,456.24 132.04,455.65 132.19,455.61 132.34,455.58 132.49,455.57 132.65,455.50 132.80,455.36 132.95,455.72 133.10,455.81 133.25,455.60 133.40,455.01 133.55,455.68 133.70,456.00 133.85,455.96 134.00,456.21 134.15,456.34 134.30,456.08 134.45,455.99 134.61,457.11 134.76,457.01 134.91,457.52 135.06,457.55 135.21,457.83 135.36,458.50 135.51,458.01 135.66,458.58 135.81,458.51 135.96,459.06 136.11,459.40 136.26,459.66 136.42,459.72 136.57,459.49 136.72,460.14 136.87,460.50 137.02,460.71 137.17,461.20 137.32,460.91 137.47,460.60 137.62,460.89 137.77,461.19 137.92,461.59 138.07,461.09 138.23,461.78 138.38,461.81 138.53,461.48 138.68,461.99 138.83,461.68 138.98,461.97 139.13,461.96 139.28,462.18 139.43,461.84 139.58,462.38 139.73,461.66 139.88,462.21 140.03,462.20 140.19,462.85 140.34,462.58 140.49,462.32 140.64,462.23 140.79,462.52 140.94,462.35 141.09,463.18 141.24,461.77 141.39,462.59 141.54,461.89 141.69,462.90 141.84,462.38 142.00,463.08 142.15,462.48 142.30,462.95 142.45,462.72 142.60,463.01 142.75,462.70 142.90,461.86 143.05,462.52 143.20,462.31 143.35,463.05 143.50,462.96 143.65,462.85 143.81,463.01 143.96,462.98 144.11,462.80 144.26,463.57 144.41,463.13 144.56,463.05 144.71,462.74 144.86,463.04 145.01,463.28 145.16,463.29 145.31,463.26 145.46,463.44 145.61,463.20 145.77,463.59 145.92,463.21 146.07,463.47 146.22,463.57 146.37,464.09 146.52,464.04 146.67,463.99 146.82,463.70 146.97,463.97 147.12,464.38 147.27,464.56 147.42,463.84 147.58,464.20 147.73,464.40 147.88,464.53 148.03,464.48 148.18,464.72 148.33,464.17 148.48,465.07 148.63,464.35 148.78,464.73 148.93,464.91 149.08,465.14 149.23,465.10 149.38,465.13 149.54,465.29 149.69,464.92 149.84,465.21 149.99,465.47 150.14,464.85 150.29,464.70 150.44,464.85 150.59,465.57 150.74,465.55 150.89,465.13 151.04,465.33 151.19,465.42 151.35,465.62 151.50,464.80 151.65,465.21 151.80,465.32 151.95,465.51 152.10,465.47 152.25,465.38 152.40,465.57 152.55,464.78 152.70,466.42 152.85,465.79 153.00,465.83 153.16,465.41 153.31,465.74 153.46,466.23 153.61,466.18 153.76,465.70 153.91,465.34 154.06,465.76 154.21,465.64 154.36,465.99 154.51,465.39 154.66,465.72 154.81,465.86 154.96,465.66 155.12,466.11 155.27,465.48 155.42,465.46 155.57,465.72 155.72,466.05 155.87,465.73 156.02,465.63 156.17,466.02 156.32,465.84 156.47,465.60 156.62,465.75 156.77,465.60 156.93,465.80 157.08,465.60 157.23,465.25 157.38,465.26 157.53,465.17 157.68,465.26 157.83,465.12 157.98,464.60 158.13,464.58 158.28,464.49 158.43,464.46 158.58,463.93 158.74,464.09 158.89,463.19 159.04,463.00 159.19,462.28 159.34,461.65 159.49,461.50 159.64,461.13 159.79,460.60 159.94,460.06 160.09,459.44 160.24,458.82 160.39,458.52 160.54,458.30 160.70,458.04 160.85,456.44 161.00,457.22 161.15,457.04 161.30,456.82 161.45,456.32 161.60,456.18 161.75,455.67 161.90,455.61 162.05,455.65 162.20,455.07 162.35,455.05 162.51,455.25 162.66,454.75 162.81,455.09 162.96,454.60 163.11,455.05 163.26,454.98 163.41,454.79 163.56,454.66 163.71,454.78 163.86,454.28 164.01,454.81 164.16,454.96 164.31,455.28 164.47,454.79 164.62,454.90 164.77,455.36 164.92,455.48 165.07,454.85 165.22,455.31 165.37,455.36 165.52,455.19 165.67,454.78 165.82,454.81 165.97,455.26 166.12,455.78 166.28,455.08 166.43,455.60 166.58,455.71 166.73,454.83 166.88,455.03 167.03,455.66 167.18,455.52 167.33,455.42 167.48,455.28 167.63,455.48 167.78,455.13 167.93,456.05 168.09,455.02 168.24,454.85 168.39,455.42 168.54,455.81 168.69,455.27 168.84,455.41 168.99,455.14 169.14,455.43 169.29,455.17 169.44,455.18 169.59,455.05 169.74,455.33 169.89,456.03 170.05,455.48 170.20,455.56 170.35,456.15 170.50,455.33 170.65,455.23 170.80,455.66 170.95,455.16 171.10,455.60 171.25,455.84 171.40,455.18 171.55,455.34 171.70,455.96 171.86,455.15 172.01,455.25 172.16,455.49 172.31,455.31 172.46,455.13 172.61,455.81 172.76,455.14 172.91,455.37 173.06,455.12 173.21,455.12 173.36,454.74 173.51,455.35 173.66,454.90 173.82,455.33 173.97,454.55 174.12,454.67 174.27,454.87 174.42,454.67 174.57,454.36 174.72,454.41 174.87,453.97 175.02,454.26 175.17,453.37 175.32,454.08 175.47,454.31 175.63,454.07 175.78,453.96 175.93,453.50 176.08,453.68 176.23,453.35 176.38,453.39 176.53,453.34 176.68,452.38 176.83,453.61 176.98,453.48 177.13,453.62 177.28,453.14 177.44,453.67 177.59,453.67 177.74,452.95 177.89,453.17 178.04,453.77 178.19,453.64 178.34,453.90 178.49,453.79 178.64,454.47 178.79,453.55 178.94,453.76 179.09,453.92 179.24,453.84 179.40,454.10 179.55,454.27 179.70,453.90 179.85,454.39 180.00,454.65 180.15,454.56 180.30,454.79 180.45,454.50 180.60,454.10 180.75,454.56 180.90,454.17 181.05,454.42 181.21,453.72 181.36,453.05 181.51,453.20 181.66,453.45 181.81,453.40 181.96,453.02 182.11,453.19 182.26,452.37 182.41,452.30 182.56,452.57 182.71,452.07 182.86,451.85 183.02,451.98 183.17,451.63 183.32,450.82 183.47,450.84 183.62,450.02 183.77,450.24 183.92,450.08 184.07,449.19 184.22,449.87 184.37,449.72 184.52,449.02 184.67,448.86 184.82,448.75 184.98,447.97 185.13,448.02 185.28,447.52 185.43,446.64 185.58,446.47 185.73,446.19 185.88,446.27 186.03,445.57 186.18,445.38 186.33,444.49 186.48,443.77 186.63,444.23 186.79,443.90 186.94,442.71 187.09,442.04 187.24,441.96 187.39,440.86 187.54,440.74 187.69,440.08 187.84,440.44 187.99,440.28 188.14,440.13 188.29,440.22 188.44,440.27 188.59,440.88 188.75,441.99 188.90,442.14 189.05,443.28 189.20,443.40 189.35,444.39 189.50,445.06 189.65,445.90 189.80,446.98 189.95,446.94 190.10,448.50 190.25,449.22 190.40,449.74 190.56,450.45 190.71,451.04 190.86,451.95 191.01,452.39 191.16,452.73 191.31,453.60 191.46,454.40 191.61,454.78 191.76,455.22 191.91,455.79 192.06,456.09 192.21,456.60 192.37,456.67 192.52,457.63 192.67,458.42 192.82,458.47 192.97,458.76 193.12,459.70 193.27,459.91 193.42,460.30 193.57,460.79 193.72,461.24 193.87,461.40 194.02,461.53 194.17,462.63 194.33,462.48 194.48,462.58 194.63,463.18 194.78,463.79 194.93,463.35 195.08,464.43 195.23,464.31 195.38,465.21 195.53,465.11 195.68,465.16 195.83,465.82 195.98,466.09 196.14,465.88 196.29,466.30 196.44,466.33 196.59,466.98 196.74,466.55 196.89,467.14 197.04,466.80 197.19,467.81 197.34,467.22 197.49,467.77 197.64,468.36 197.79,468.39 197.95,468.57 198.10,468.62 198.25,468.96 198.40,468.78 198.55,469.57 198.70,469.89 198.85,470.07 199.00,470.02 199.15,470.56 199.30,470.51 199.45,470.83 199.60,470.83 199.75,470.90 199.91,470.83 200.06,470.46 200.21,471.55 200.36,471.49 200.51,472.25 200.66,471.26 200.81,472.22 200.96,471.85 201.11,472.26 201.26,472.15 201.41,472.64 201.56,472.67 201.72,473.06 201.87,472.98 202.02,473.20 202.17,473.56 202.32,473.47 202.47,473.40 202.62,473.91 202.77,473.64 202.92,473.91 203.07,473.81 203.22,473.83 203.37,473.27 203.52,474.43 203.68,474.01 203.83,474.65 203.98,475.06 204.13,474.27 204.28,474.99 204.43,474.81 204.58,475.06 204.73,474.69 204.88,475.13 205.03,475.25 205.18,475.71 205.33,476.00 205.49,475.56 205.64,475.45 205.79,476.27 205.94,475.69 206.09,475.78 206.24,475.90 206.39,476.09 206.54,476.23 206.69,475.94 206.84,476.15 206.99,476.79 207.14,476.78 207.30,476.52 207.45,476.54 207.60,476.46 207.75,476.89 207.90,476.51 208.05,476.76 208.20,476.66 208.35,476.67 208.50,476.92 208.65,476.97 208.80,476.87 208.95,477.07 209.10,477.17 209.26,477.07 209.41,477.07 209.56,477.28 209.71,477.57 209.86,477.74 210.01,477.53 210.16,477.45 210.31,477.57 210.46,478.18 210.61,477.95 210.76,477.46 210.91,477.77 211.07,477.68 211.22,477.78 211.37,477.45 211.52,477.98 211.67,477.63 211.82,477.90 211.97,478.55 212.12,478.44 212.27,477.95 212.42,477.95 212.57,478.03 212.72,477.79 212.87,478.09 213.03,478.34 213.18,478.16 213.33,478.71 213.48,478.52 213.63,478.43 213.78,479.12 213.93,478.86 214.08,478.72 214.23,479.26 214.38,479.15 214.53,478.61 214.68,478.94 214.84,478.76 214.99,478.52 215.14,479.50 215.29,479.43 215.44,478.67 215.59,479.21 215.74,478.64 215.89,479.45 216.04,479.16 216.19,479.13 216.34,479.61 216.49,479.28 216.65,479.24 216.80,479.61 216.95,479.30 217.10,479.67 217.25,479.45 217.40,479.72 217.55,479.69 217.70,479.77 217.85,479.29 218.00,480.15 218.15,479.60 218.30,480.18 218.45,479.53 218.61,479.66 218.76,479.69 218.91,480.13 219.06,479.71 219.21,479.98 219.36,479.44 219.51,479.78 219.66,480.02 219.81,479.95 219.96,479.47 220.11,480.18 220.26,479.79 220.42,480.66 220.57,480.07 220.72,480.81 220.87,480.38 221.02,480.35 221.17,480.11 221.32,480.24 221.47,480.43 221.62,479.77 221.77,480.64 221.92,480.05 222.07,480.34 222.23,479.65 222.38,480.60 222.53,480.71 222.68,480.61 222.83,480.65 222.98,480.47 223.13,480.65 223.28,480.98 223.43,480.54 223.58,480.83 223.73,480.92 223.88,480.67 224.03,480.84 224.19,480.86 224.34,480.68 224.49,481.55 224.64,480.75 224.79,481.40 224.94,481.24 225.09,480.36 225.24,481.05 225.39,481.30 225.54,481.27 225.69,480.79 225.84,481.16 226.00,480.76 226.15,480.83 226.30,481.09 226.45,481.24 226.60,481.67 226.75,481.34 226.90,481.57 227.05,480.93 227.20,480.97 227.35,481.19 227.50,481.87 227.65,480.99 227.80,480.95 227.96,481.41 228.11,481.80 228.26,481.01 228.41,481.43 228.56,481.14 228.71,481.98 228.86,481.78 229.01,481.68 229.16,481.61 229.31,481.58 229.46,481.72 229.61,481.51 229.77,481.47 229.92,481.42 230.07,481.78 230.22,481.56 230.37,482.07 230.52,481.23 230.67,482.03 230.82,482.05 230.97,482.27 231.12,481.86 231.27,481.52 231.42,481.72 231.58,482.34 231.73,481.94 231.88,481.94 232.03,481.91 232.18,482.08 232.33,482.06 232.48,481.69" fill="none" stroke="#B8B812" stroke-width="1.5" stroke-linejoin="round"/>
<polyline points="21.50,487.02 21.65,487.20 21.80,487.01 21.95,486.19 22.10,485.68 22.25,485.80 22.40,484.88 22.56,484.08 22.71,483.85 22.86,483.51 23.01,483.17 23.16,481.95 23.31,481.61 23.46,480.71 23.61,480.48 23.76,479.57 23.91,478.93 24.06,477.92 24.21,477.49 24.37,476.87 24.52,475.32 24.67,476.02 24.82,475.19 24.97,474.55 25.12,473.93 25.27,473.47 25.42,472.95 25.57,471.91 25.72,471.73 25.87,471.12 26.02,470.48 26.18,469.42 26.33,469.19 26.48,468.25 26.63,468.15 26.78,467.88 26.93,467.27 27.08,466.50 27.23,466.12 27.38,465.90 27.53,466.07 27.68,465.79 27.83,465.97 27.98,465.63 28.14,466.43 28.29,466.85 28.44,467.36 28.59,468.35 28.74,468.08 28.89,468.58 29.04,469.62 29.19,469.62 29.34,470.29 29.49,470.80 29.64,471.13 29.79,471.25 29.95,472.06 30.10,472.51 30.25,472.04 30.40,472.49 30.55,473.05 30.70,472.90 30.85,472.83 31.00,473.14 31.15,473.63 31.30,473.20 31.45,473.66 31.60,473.77 31.75,473.53 31.91,473.93 32.06,473.99 32.21,474.11 32.36,474.10 32.51,473.39 32.66,474.07 32.81,473.96 32.96,474.04 33.11,473.47 33.26,473.93 33.41,473.72 33.56,473.20 33.72,473.84 33.87,473.16 34.02,473.00 34.17,473.32 34.32,472.93 34.47,473.11 34.62,472.83 34.77,472.88 34.92,472.93 35.07,472.57 35.22,472.73 35.37,472.62 35.53,472.03 35.68,472.43 35.83,472.28 35.98,472.06 36.13,472.28 36.28,472.38 36.43,472.08 36.58,471.39 36.73,471.93 36.88,471.75 37.03,471.72 37.18,471.91 37.33,471.73 37.49,472.33 37.64,471.98 37.79,471.94 37.94,472.21 38.09,472.27 38.24,472.43 38.39,472.32 38.54,472.17 38.69,472.26 38.84,471.64 38.99,471.87 39.14,472.63 39.30,472.25 39.45,472.89 39.60,472.90 39.75,472.01 39.90,472.45 40.05,473.18 40.20,472.08 40.35,472.38 40.50,472.15 40.65,472.09 40.80,472.01 40.95,472.00 41.11,472.13 41.26,471.57 41.41,471.83 41.56,471.35 41.71,471.56 41.86,471.34 42.01,470.85 42.16,470.94 42.31,470.49 42.46,470.25 42.61,470.61 42.76,469.51 42.91,469.95 43.07,469.74 43.22,469.09 43.37,469.30 43.52,468.97 43.67,468.04 43.82,468.27 43.97,467.97 44.12,467.33 44.27,467.43 44.42,467.22 44.57,466.54 44.72,465.94 44.88,466.44 45.03,465.93 45.18,465.51 45.33,465.79 45.48,465.15 45.63,465.72 45.78,466.27 45.93,465.06 46.08,466.12 46.23,465.85 46.38,466.16 46.53,466.21 46.68,466.88 46.84,466.93 46.99,466.96 47.14,467.07 47.29,467.60 47.44,468.34 47.59,467.93 47.74,468.68 47.89,468.93 48.04,468.52 48.19,469.68 48.34,469.60 48.49,470.50 48.65,470.58 48.80,470.22 48.95,470.45 49.10,470.40 49.25,470.48 49.40,471.28 49.55,471.14 49.70,471.25 49.85,471.45 50.00,471.83 50.15,472.03 50.30,471.87 50.46,471.92 50.61,472.10 50.76,472.76 50.91,471.63 51.06,471.97 51.21,472.52 51.36,472.48 51.51,472.85 51.66,472.92 51.81,473.16 51.96,472.38 52.11,472.83 52.26,472.61 52.42,472.98 52.57,472.77 52.72,472.99 52.87,472.52 53.02,472.79 53.17,472.59 53.32,472.67 53.47,472.60 53.62,472.43 53.77,473.04 53.92,472.79 54.07,473.00 54.23,472.37 54.38,472.06 54.53,472.41 54.68,472.53 54.83,472.77 54.98,472.81 55.13,472.82 55.28,472.88 55.43,472.59 55.58,472.37 55.73,472.06 55.88,472.43 56.03,472.03 56.19,471.89 56.34,472.24 56.49,472.07 56.64,472.19 56.79,471.67 56.94,472.16 57.09,471.85 57.24,471.63 57.39,471.38 57.54,471.21 57.69,471.06 57.84,471.79 58.00,470.89 58.15,471.41 58.30,471.07 58.45,470.90 58.60,470.85 58.75,470.87 58.90,471.09 59.05,470.90 59.20,470.65 59.35,470.16 59.50,469.96 59.65,470.94 59.81,470.01 59.96,469.76 60.11,470.47 60.26,469.61 60.41,470.18 60.56,470.15 60.71,469.86 60.86,469.99 61.01,469.20 61.16,469.17 61.31,469.38 61.46,469.35 61.61,469.23 61.77,469.30 61.92,468.85 62.07,468.35 62.22,469.00 62.37,468.71 62.52,468.92 62.67,469.19 62.82,468.49 62.97,468.53 63.12,467.99 63.27,468.40 63.42,468.12 63.58,467.97 63.73,468.04 63.88,467.30 64.03,467.66 64.18,467.49 64.33,467.68 64.48,466.53 64.63,466.87 64.78,467.38 64.93,466.44 65.08,466.26 65.23,466.72 65.39,466.74 65.54,465.84 65.69,465.39 65.84,465.21 65.99,465.04 66.14,464.67 66.29,464.44 66.44,464.48 66.59,464.18 66.74,464.03 66.89,463.62 67.04,462.96 67.19,463.23 67.35,462.76 67.50,462.19 67.65,461.94 67.80,461.76 67.95,461.33 68.10,460.89 68.25,460.76 68.40,460.44 68.55,459.61 68.70,459.26 68.85,458.49 69.00,458.31 69.16,458.02 69.31,457.65 69.46,456.94 69.61,456.35 69.76,455.63 69.91,455.36 70.06,454.43 70.21,454.23 70.36,453.63 70.51,452.78 70.66,452.57 70.81,451.83 70.96,451.50 71.12,450.61 71.27,450.34 71.42,450.12 71.57,449.19 71.72,448.87 71.87,447.99 72.02,447.65 72.17,446.81 72.32,446.98 72.47,446.40 72.62,446.54 72.77,445.73 72.93,445.97 73.08,446.21 73.23,446.32 73.38,445.80 73.53,446.31 73.68,447.39 73.83,447.13 73.98,447.25 74.13,446.75 74.28,447.69 74.43,448.54 74.58,448.92 74.74,449.47 74.89,450.12 75.04,450.39 75.19,451.14 75.34,450.90 75.49,452.70 75.64,452.41 75.79,452.84 75.94,454.00 76.09,454.25 76.24,454.86 76.39,454.89 76.54,455.63 76.70,456.23 76.85,456.13 77.00,456.84 77.15,457.25 77.30,457.63 77.45,457.89 77.60,458.09 77.75,458.93 77.90,459.20 78.05,459.77 78.20,459.70 78.35,459.79 78.51,459.81 78.66,460.49 78.81,460.58 78.96,461.46 79.11,461.72 79.26,461.68 79.41,461.10 79.56,461.09 79.71,461.55 79.86,461.47 80.01,462.26 80.16,461.97 80.32,461.92 80.47,462.13 80.62,462.60 80.77,462.06 80.92,462.59 81.07,462.18 81.22,462.64 81.37,462.65 81.52,463.10 81.67,463.24 81.82,463.75 81.97,463.82 82.12,463.67 82.28,463.72 82.43,464.14 82.58,464.54 82.73,464.90 82.88,465.06 83.03,465.92 83.18,466.20 83.33,466.17 83.48,466.44 83.63,466.84 83.78,467.22 83.93,467.55 84.09,467.39 84.24,468.04 84.39,467.91 84.54,468.76 84.69,469.22 84.84,468.97 84.99,469.57 85.14,469.58 85.29,469.78 85.44,470.77 85.59,470.65 85.74,470.71 85.89,470.62 86.05,471.02 86.20,470.99 86.35,471.31 86.50,471.03 86.65,471.38 86.80,471.39 86.95,471.17 87.10,472.16 87.25,471.96 87.40,471.54 87.55,471.39 87.70,471.64 87.86,471.63 88.01,471.72 88.16,471.46 88.31,471.66 88.46,471.92 88.61,472.02 88.76,471.31 88.91,471.88 89.06,471.57 89.21,471.55 89.36,471.75 89.51,471.63 89.67,472.04 89.82,472.04 89.97,471.76 90.12,471.68 90.27,472.43 90.42,472.49 90.57,472.11 90.72,472.02 90.87,472.44 91.02,472.66 91.17,472.18 91.32,472.98 91.47,472.53 91.63,473.04 91.78,472.72 91.93,473.05 92.08,473.06 92.23,473.37 92.38,473.84 92.53,473.45 92.68,473.81 92.83,474.24 92.98,474.12 93.13,475.03 93.28,474.18 93.44,475.53 93.59,474.75 93.74,475.39 93.89,475.74 94.04,475.56 94.19,475.13 94.34,475.58 94.49,475.82 94.64,476.08 94.79,476.31 94.94,476.44 95.09,476.63 95.24,475.99 95.40,476.63 95.55,475.86 95.70,476.47 95.85,476.13 96.00,475.93 96.15,476.74 96.30,476.44 96.45,476.72 96.60,475.91 96.75,475.96 96.90,476.22 97.05,475.96 97.21,476.07 97.36,475.73 97.51,475.66 97.66,475.24 97.81,475.77 97.96,475.06 98.11,474.55 98.26,474.82 98.41,474.45 98.56,474.02 98.71,473.64 98.86,473.03 99.02,472.64 99.17,471.51 99.32,471.15 99.47,470.65 99.62,470.45 99.77,470.03 99.92,468.88 100.07,468.06 100.22,467.65 100.37,466.35 100.52,465.78 100.67,464.83 100.82,463.43 100.98,463.07 101.13,462.25 101.28,461.14 101.43,460.57 101.58,460.03 101.73,460.50 101.88,460.58 102.03,460.20 102.18,460.68 102.33,460.20 102.48,461.58 102.63,462.44 102.79,463.14 102.94,463.27 103.09,464.83 103.24,465.46 103.39,466.82 103.54,467.31 103.69,468.50 103.84,469.28 103.99,470.51 104.14,471.22 104.29,472.41 104.44,473.12 104.60,473.73 104.75,474.29 104.90,474.87 105.05,475.57 105.20,476.36 105.35,476.70 105.50,477.24 105.65,477.61 105.80,478.03 105.95,478.25 106.10,478.27 106.25,479.35 106.40,479.68 106.56,479.53 106.71,480.68 106.86,480.03 107.01,480.93 107.16,480.95 107.31,481.20 107.46,481.66 107.61,481.79 107.76,481.71 107.91,481.57 108.06,481.69 108.21,482.27 108.37,482.84 108.52,482.78 108.67,482.64 108.82,482.88 108.97,483.11 109.12,483.53 109.27,482.90 109.42,483.45 109.57,483.41 109.72,483.20 109.87,483.21 110.02,483.98 110.17,483.78 110.33,483.69 110.48,483.85 110.63,484.18 110.78,483.98 110.93,484.49 111.08,483.99 111.23,483.88 111.38,484.13 111.53,483.92 111.68,484.14 111.83,484.64 111.98,484.82 112.14,484.52 112.29,484.41 112.44,484.10 112.59,484.08 112.74,484.50 112.89,484.44 113.04,484.22 113.19,484.25 113.34,484.84 113.49,484.65 113.64,484.34 113.79,484.36 113.95,484.64 114.10,484.32 114.25,484.23 114.40,483.62 114.55,483.52 114.70,483.37 114.85,483.18 115.00,483.76 115.15,483.76 115.30,483.28 115.45,483.55 115.60,483.41 115.75,483.11 115.91,482.54 116.06,483.26 116.21,483.07 116.36,482.32 116.51,482.90 116.66,482.17 116.81,481.76 116.96,481.72 117.11,481.15 117.26,481.48 117.41,481.01 117.56,481.76 117.72,481.48 117.87,480.97 118.02,481.59 118.17,480.97 118.32,481.63 118.47,481.86 118.62,481.89 118.77,481.72 118.92,482.23 119.07,482.42 119.22,482.72 119.37,483.39 119.53,483.68 119.68,483.89 119.83,483.46 119.98,483.65 120.13,484.10 120.28,484.44 120.43,483.89 120.58,484.52 120.73,485.43 120.88,484.69 121.03,485.01 121.18,485.18 121.33,485.69 121.49,485.66 121.64,485.72 121.79,485.48 121.94,486.24 122.09,486.17 122.24,486.07 122.39,486.38 122.54,486.70 122.69,486.11 122.84,486.17 122.99,486.40 123.14,486.52 123.30,485.94 123.45,486.74 123.60,487.31 123.75,486.94 123.90,487.40 124.05,486.28 124.20,487.16 124.35,487.65 124.50,487.75 124.65,487.17 124.80,487.11 124.95,487.50 125.10,487.05 125.26,487.34 125.41,486.97 125.56,487.52 125.71,487.52 125.86,488.02 126.01,487.66 126.16,487.37 126.31,487.55 126.46,487.20 126.61,487.60 126.76,487.53 126.91,487.72 127.07,487.88 127.22,486.99 127.37,487.68 127.52,487.80 127.67,487.20 127.82,488.12 127.97,487.31 128.12,488.25 128.27,487.72 128.42,487.75 128.57,487.51 128.72,487.70 128.88,487.04 129.03,487.07 129.18,486.68 129.33,487.39 129.48,486.96 129.63,487.35 129.78,487.24 129.93,486.60 130.08,487.15 130.23,486.96 130.38,486.87 130.53,486.88 130.68,486.66 130.84,486.61 130.99,486.85 131.14,486.16 131.29,486.03 131.44,486.10 131.59,486.58 131.74,486.11 131.89,486.73 132.04,485.18 132.19,485.85 132.34,485.90 132.49,486.10 132.65,486.40 132.80,485.94 132.95,485.70 133.10,486.28 133.25,486.53 133.40,485.33 133.55,486.33 133.70,486.31 133.85,486.04 134.00,486.22 134.15,486.54 134.30,486.55 134.45,486.57 134.61,486.39 134.76,486.93 134.91,486.76 135.06,487.09 135.21,487.00 135.36,487.34 135.51,487.61 135.66,487.57 135.81,487.80 135.96,487.29 136.11,487.94 136.26,487.99 136.42,487.81 136.57,488.04 136.72,487.33 136.87,488.28 137.02,488.22 137.17,487.74 137.32,488.64 137.47,488.37 137.62,488.71 137.77,488.62 137.92,488.90 138.07,488.83 138.23,488.78 138.38,489.06 138.53,489.21 138.68,488.32 138.83,489.06 138.98,488.91 139.13,488.79 139.28,489.55 139.43,489.48 139.58,488.91 139.73,488.91 139.88,489.52 140.03,489.11 140.19,489.22 140.34,488.74 140.49,489.31 140.64,489.71 140.79,489.25 140.94,489.37 141.09,489.94 141.24,489.69 141.39,489.87 141.54,489.64 141.69,489.82 141.84,488.98 142.00,489.24 142.15,489.00 142.30,490.18 142.45,489.59 142.60,489.51 142.75,489.34 142.90,489.28 143.05,488.76 143.20,490.30 143.35,489.63 143.50,489.70 143.65,489.29 143.81,489.73 143.96,489.89 144.11,489.79 144.26,490.04 144.41,489.65 144.56,490.04 144.71,490.25 144.86,490.20 145.01,490.19 145.16,490.10 145.31,489.88 145.46,490.40 145.61,490.16 145.77,490.05 145.92,490.62 146.07,489.96 146.22,490.32 146.37,490.78 146.52,490.88 146.67,490.54 146.82,490.72 146.97,490.91 147.12,490.78 147.27,490.62 147.42,491.03 147.58,491.00 147.73,491.03 147.88,491.38 148.03,491.18 148.18,491.00 148.33,491.23 148.48,491.81 148.63,491.05 148.78,491.23 148.93,491.11 149.08,491.50 149.23,491.05 149.38,491.61 149.54,491.74 149.69,491.32 149.84,491.33 149.99,491.18 150.14,491.67 150.29,491.36 150.44,491.54 150.59,491.64 150.74,491.59 150.89,492.08 151.04,492.34 151.19,491.26 151.35,491.68 151.50,492.03 151.65,491.67 151.80,491.86 151.95,492.11 152.10,492.50 152.25,492.46 152.40,492.05 152.55,492.20 152.70,492.08 152.85,492.17 153.00,491.89 153.16,491.74 153.31,492.19 153.46,492.62 153.61,492.58 153.76,491.82 153.91,492.34 154.06,492.24 154.21,492.53 154.36,492.14 154.51,492.76 154.66,492.45 154.81,492.70 154.96,492.81 155.12,491.98 155.27,492.52 155.42,493.05 155.57,492.61 155.72,492.93 155.87,492.75 156.02,492.47 156.17,492.70 156.32,492.93 156.47,492.99 156.62,493.02 156.77,492.23 156.93,492.77 157.08,492.07 157.23,492.39 157.38,492.30 157.53,492.47 157.68,492.27 157.83,492.44 157.98,491.74 158.13,492.02 158.28,491.71 158.43,491.38 158.58,490.79 158.74,491.06 158.89,490.70 159.04,490.52 159.19,489.94 159.34,489.51 159.49,489.33 159.64,488.96 159.79,488.63 159.94,488.59 160.09,487.44 160.24,487.84 160.39,485.98 160.54,486.80 160.70,485.93 160.85,486.47 161.00,485.32 161.15,485.64 161.30,484.80 161.45,484.55 161.60,484.95 161.75,484.81 161.90,484.20 162.05,485.01 162.20,484.09 162.35,484.57 162.51,483.72 162.66,483.67 162.81,483.93 162.96,483.55 163.11,483.95 163.26,483.13 163.41,483.80 163.56,483.55 163.71,483.41 163.86,483.74 164.01,483.59 164.16,483.50 164.31,483.86 164.47,483.69 164.62,483.70 164.77,483.97 164.92,483.53 165.07,483.79 165.22,483.40 165.37,483.69 165.52,483.65 165.67,483.31 165.82,483.01 165.97,483.06 166.12,483.15 166.28,483.59 166.43,483.37 166.58,483.32 166.73,483.55 166.88,483.62 167.03,483.83 167.18,483.24 167.33,483.60 167.48,483.66 167.63,483.19 167.78,483.54 167.93,483.27 168.09,483.52 168.24,483.75 168.39,483.17 168.54,483.47 168.69,483.55 168.84,483.88 168.99,483.69 169.14,484.09 169.29,483.79 169.44,483.96 169.59,484.36 169.74,484.34 169.89,484.36 170.05,484.37 170.20,484.75 170.35,484.93 170.50,484.47 170.65,484.43 170.80,484.39 170.95,485.28 171.10,484.55 171.25,484.48 171.40,485.01 171.55,485.29 171.70,484.66 171.86,485.04 172.01,484.69 172.16,484.95 172.31,485.68 172.46,485.29 172.61,485.19 172.76,485.32 172.91,485.42 173.06,485.33 173.21,485.03 173.36,485.06 173.51,486.03 173.66,485.22 173.82,485.81 173.97,485.26 174.12,485.87 174.27,485.69 174.42,485.42 174.57,486.09 174.72,485.21 174.87,485.41 175.02,485.22 175.17,485.24 175.32,485.35 175.47,485.17 175.63,485.35 175.78,485.91 175.93,484.92 176.08,485.06 176.23,485.16 176.38,485.31 176.53,485.76 176.68,485.69 176.83,485.65 176.98,485.60 177.13,486.28 177.28,485.28 177.44,485.31 177.59,485.70 177.74,485.82 177.89,485.74 178.04,485.61 178.19,485.52 178.34,485.88 178.49,485.80 178.64,485.91 178.79,485.78 178.94,486.54 179.09,486.31 179.24,486.76 179.40,486.09 179.55,486.28 179.70,486.21 179.85,486.31 180.00,486.24 180.15,486.27 180.30,485.74 180.45,486.24 180.60,486.52 180.75,485.72 180.90,486.19 181.05,486.44 181.21,486.62 181.36,486.18 181.51,486.31 181.66,486.65 181.81,486.46 181.96,485.88 182.11,485.78 182.26,486.19 182.41,485.88 182.56,485.57 182.71,485.58 182.86,485.65 183.02,485.40 183.17,485.29 183.32,485.19 183.47,484.70 183.62,485.55 183.77,485.29 183.92,485.26 184.07,484.65 184.22,484.61 184.37,484.62 184.52,484.57 184.67,483.66 184.82,484.18 184.98,483.64 185.13,483.77 185.28,483.45 185.43,484.00 185.58,483.48 185.73,483.13 185.88,483.37 186.03,482.73 186.18,482.32 186.33,482.26 186.48,481.97 186.63,481.85 186.79,481.84 186.94,481.31 187.09,481.08 187.24,481.17 187.39,480.73 187.54,480.74 187.69,480.33 187.84,479.78 187.99,479.75 188.14,479.57 188.29,480.42 188.44,480.28 188.59,480.14 188.75,480.15 188.90,480.75 189.05,480.83 189.20,481.21 189.35,481.12 189.50,481.30 189.65,482.35 189.80,481.86 189.95,482.39 190.10,483.04 190.25,482.34 190.40,483.33 190.56,483.37 190.71,483.54 190.86,483.89 191.01,483.69 191.16,483.62 191.31,485.09 191.46,484.71 191.61,485.33 191.76,485.69 191.91,485.75 192.06,486.12 192.21,486.54 192.37,487.15 192.52,487.19 192.67,487.80 192.82,487.72 192.97,488.07 193.12,488.62 193.27,489.11 193.42,489.54 193.57,490.35 193.72,490.40 193.87,490.55 194.02,491.49 194.17,491.36 194.33,491.72 194.48,492.10 194.63,492.19 194.78,492.29 194.93,492.97 195.08,493.14 195.23,493.27 195.38,493.85 195.53,494.03 195.68,494.19 195.83,494.10 195.98,494.83 196.14,495.65 196.29,495.63 196.44,495.92 196.59,495.82 196.74,496.36 196.89,496.06 197.04,496.33 197.19,496.83 197.34,496.45 197.49,497.08 197.64,497.34 197.79,497.94 197.95,497.41 198.10,497.92 198.25,497.78 198.40,497.98 198.55,497.50 198.70,498.19 198.85,498.97 199.00,498.93 199.15,498.98 199.30,499.81 199.45,499.39 199.60,499.00 199.75,499.45 199.91,499.63 200.06,500.26 200.21,499.65 200.36,500.17 200.51,500.46 200.66,500.06 200.81,500.45 200.96,499.95 201.11,500.69 201.26,500.12 201.41,500.78 201.56,501.51 201.72,501.24 201.87,501.24 202.02,501.37 202.17,502.07 202.32,501.70 202.47,501.95 202.62,501.61 202.77,501.71 202.92,501.62 203.07,501.97 203.22,501.91 203.37,502.50 203.52,502.49 203.68,502.35 203.83,502.31 203.98,501.70 204.13,502.47 204.28,502.82 204.43,503.00 204.58,501.97 204.73,502.26 204.88,503.09 205.03,502.82 205.18,503.13 205.33,503.13 205.49,503.52 205.64,502.87 205.79,503.32 205.94,503.84 206.09,503.69 206.24,503.45 206.39,503.90 206.54,503.92 206.69,503.63 206.84,504.17 206.99,504.23 207.14,504.05 207.30,504.43 207.45,503.87 207.60,504.50 207.75,504.28 207.90,504.12 208.05,504.28 208.20,504.86 208.35,504.40 208.50,504.52 208.65,504.49 208.80,504.50 208.95,505.08 209.10,505.50 209.26,505.30 209.41,505.10 209.56,505.23 209.71,504.96 209.86,504.96 210.01,504.81 210.16,505.64 210.31,505.16 210.46,505.10 210.61,505.17 210.76,505.47 210.91,505.30 211.07,505.52 211.22,505.61 211.37,506.00 211.52,505.29 211.67,505.79 211.82,505.54 211.97,505.67 212.12,506.32 212.27,506.07 212.42,505.82 212.57,506.12 212.72,506.01 212.87,506.39 213.03,505.96 213.18,506.30 213.33,506.14 213.48,506.24 213.63,506.24 213.78,506.14 213.93,506.40 214.08,506.70 214.23,506.28 214.38,506.38 214.53,506.65 214.68,506.36 214.84,506.88 214.99,506.87 215.14,506.02 215.29,506.55 215.44,506.47 215.59,507.07 215.74,507.15 215.89,506.55 216.04,506.75 216.19,506.97 216.34,506.92 216.49,507.28 216.65,507.40 216.80,507.32 216.95,507.51 217.10,507.50 217.25,507.25 217.40,507.18 217.55,507.13 217.70,507.63 217.85,507.69 218.00,507.76 218.15,507.40 218.30,507.42 218.45,507.66 218.61,507.99 218.76,507.76 218.91,507.76 219.06,507.49 219.21,507.90 219.36,507.97 219.51,507.56 219.66,508.40 219.81,507.65 219.96,508.23 220.11,507.94 220.26,508.08 220.42,507.84 220.57,507.94 220.72,508.35 220.87,508.12 221.02,508.12 221.17,508.52 221.32,508.50 221.47,508.38 221.62,508.44 221.77,508.91 221.92,508.39 222.07,508.59 222.23,508.64 222.38,508.14 222.53,508.02 222.68,508.66 222.83,508.92 222.98,508.76 223.13,508.58 223.28,508.58 223.43,509.05 223.58,508.76 223.73,508.41 223.88,509.12 224.03,509.03 224.19,509.10 224.34,509.34 224.49,509.46 224.64,509.27 224.79,509.09 224.94,508.55 225.09,509.30 225.24,509.20 225.39,509.67 225.54,509.70 225.69,509.50 225.84,509.80 226.00,509.41 226.15,509.45 226.30,509.25 226.45,509.44 226.60,509.63 226.75,509.92 226.90,509.43 227.05,509.92 227.20,510.41 227.35,509.35 227.50,509.71 227.65,509.83 227.80,510.16 227.96,510.48 228.11,510.30 228.26,509.96 228.41,509.75 228.56,510.02 228.71,510.06 228.86,510.18 229.01,509.88 229.16,510.63 229.31,510.00 229.46,510.46 229.61,510.35 229.77,510.00 229.92,510.38 230.07,510.40 230.22,510.38 230.37,510.71 230.52,510.36 230.67,511.29 230.82,510.91 230.97,510.34 231.12,509.91 231.27,511.05 231.42,510.79 231.58,510.78 231.73,510.50 231.88,510.40 232.03,510.31 232.18,511.66 232.33,511.41 232.48,510.81" fill="none" stroke="#148A8A" stroke-width="1.5" stroke-linejoin="round"/>
<polyline points="21.50,501.91 21.65,500.67 21.80,501.27 21.95,501.10 22.10,500.45 22.25,500.35 22.40,499.95 22.56,500.02 22.71,500.13 22.86,499.74 23.01,499.26 23.16,499.15 23.31,497.96 23.46,498.74 23.61,497.77 23.76,497.03 23.91,496.94 24.06,496.49 24.21,496.34 24.37,496.02 24.52,494.85 24.67,495.52 24.82,495.25 24.97,494.01 25.12,494.33 25.27,493.81 25.42,493.27 25.57,492.96 25.72,491.55 25.87,491.65 26.02,490.59 26.18,491.03 26.33,489.47 26.48,488.84 26.63,489.00 26.78,488.34 26.93,487.71 27.08,487.37 27.23,487.23 27.38,487.39 27.53,486.60 27.68,486.71 27.83,486.88 27.98,487.32 28.14,487.72 28.29,487.77 28.44,488.75 28.59,488.80 28.74,489.63 28.89,490.19 29.04,490.73 29.19,491.75 29.34,492.29 29.49,492.58 29.64,493.15 29.79,492.99 29.95,493.86 30.10,493.76 30.25,494.15 30.40,494.44 30.55,494.21 30.70,494.66 30.85,495.00 31.00,495.34 31.15,495.36 31.30,495.29 31.45,495.33 31.60,495.80 31.75,495.55 31.91,495.64 32.06,496.04 32.21,496.19 32.36,495.94 32.51,495.70 32.66,496.35 32.81,496.53 32.96,496.18 33.11,496.19 33.26,495.61 33.41,496.56 33.56,495.95 33.72,496.46 33.87,496.04 34.02,496.14 34.17,496.08 34.32,495.55 34.47,496.86 34.62,495.52 34.77,495.96 34.92,495.63 35.07,495.74 35.22,496.17 35.37,495.14 35.53,495.61 35.68,495.75 35.83,495.60 35.98,495.65 36.13,495.28 36.28,495.00 36.43,495.09 36.58,495.36 36.73,495.72 36.88,495.54 37.03,496.03 37.18,495.62 37.33,495.69 37.49,495.75 37.64,495.23 37.79,495.99 37.94,495.55 38.09,495.84 38.24,496.73 38.39,495.72 38.54,496.20 38.69,496.31 38.84,496.33 38.99,496.35 39.14,496.23 39.30,497.05 39.45,495.89 39.60,496.22 39.75,497.00 39.90,496.74 40.05,496.36 40.20,496.32 40.35,496.51 40.50,497.37 40.65,496.70 40.80,496.22 40.95,496.56 41.11,496.25 41.26,496.83 41.41,496.40 41.56,496.61 41.71,496.19 41.86,496.66 42.01,496.06 42.16,495.90 42.31,495.38 42.46,495.42 42.61,495.51 42.76,495.08 42.91,495.80 43.07,494.87 43.22,494.46 43.37,494.79 43.52,494.13 43.67,494.21 43.82,493.85 43.97,493.45 44.12,493.88 44.27,493.29 44.42,493.40 44.57,492.80 44.72,492.32 44.88,492.23 45.03,492.33 45.18,492.35 45.33,492.36 45.48,492.47 45.63,491.94 45.78,492.42 45.93,492.05 46.08,492.31 46.23,493.41 46.38,493.18 46.53,492.86 46.68,493.70 46.84,493.80 46.99,493.86 47.14,494.27 47.29,494.00 47.44,494.27 47.59,494.30 47.74,494.97 47.89,494.66 48.04,495.12 48.19,495.63 48.34,495.56 48.49,496.03 48.65,496.67 48.80,496.02 48.95,496.92 49.10,496.47 49.25,496.56 49.40,497.07 49.55,497.46 49.70,497.07 49.85,497.20 50.00,497.41 50.15,497.44 50.30,497.83 50.46,497.66 50.61,497.89 50.76,498.16 50.91,498.01 51.06,498.56 51.21,498.09 51.36,498.12 51.51,499.03 51.66,498.93 51.81,498.55 51.96,498.82 52.11,498.72 52.26,498.51 52.42,498.90 52.57,498.82 52.72,499.14 52.87,498.23 53.02,499.05 53.17,498.87 53.32,498.64 53.47,498.73 53.62,498.74 53.77,498.48 53.92,498.71 54.07,499.12 54.23,498.43 54.38,498.77 54.53,498.17 54.68,498.70 54.83,498.98 54.98,498.84 55.13,498.85 55.28,498.49 55.43,498.98 55.58,498.52 55.73,499.04 55.88,498.81 56.03,498.60 56.19,499.14 56.34,498.54 56.49,498.94 56.64,498.63 56.79,498.56 56.94,498.83 57.09,498.62 57.24,498.45 57.39,498.37 57.54,498.43 57.69,498.34 57.84,498.17 58.00,497.91 58.15,497.39 58.30,498.09 58.45,497.99 58.60,498.38 58.75,498.09 58.90,498.24 59.05,498.36 59.20,497.75 59.35,497.46 59.50,497.90 59.65,497.41 59.81,497.44 59.96,497.88 60.11,497.55 60.26,497.64 60.41,496.83 60.56,497.18 60.71,497.42 60.86,496.63 61.01,496.99 61.16,496.97 61.31,496.07 61.46,497.16 61.61,496.38 61.77,496.46 61.92,496.91 62.07,495.78 62.22,496.35 62.37,495.98 62.52,496.02 62.67,495.65 62.82,496.19 62.97,495.33 63.12,495.66 63.27,495.59 63.42,495.27 63.58,495.08 63.73,494.94 63.88,495.19 64.03,494.87 64.18,494.55 64.33,494.09 64.48,494.30 64.63,494.24 64.78,493.89 64.93,494.14 65.08,492.94 65.23,494.06 65.39,493.05 65.54,492.55 65.69,492.14 65.84,492.69 65.99,492.36 66.14,491.87 66.29,491.66 66.44,491.45 66.59,490.99 66.74,491.17 66.89,490.71 67.04,490.17 67.19,489.39 67.35,489.96 67.50,489.05 67.65,488.52 67.80,488.84 67.95,488.22 68.10,487.06 68.25,486.75 68.40,486.70 68.55,486.00 68.70,485.87 68.85,486.23 69.00,485.85 69.16,484.44 69.31,484.18 69.46,483.67 69.61,482.83 69.76,481.87 69.91,482.06 70.06,481.11 70.21,480.71 70.36,480.20 70.51,479.14 70.66,479.29 70.81,478.20 70.96,477.65 71.12,476.86 71.27,476.63 71.42,476.15 71.57,475.14 71.72,474.97 71.87,474.18 72.02,473.49 72.17,473.36 72.32,473.29 72.47,472.97 72.62,472.88 72.77,472.18 72.93,472.17 73.08,472.23 73.23,472.41 73.38,472.26 73.53,472.16 73.68,472.18 73.83,473.26 73.98,473.54 74.13,473.37 74.28,474.42 74.43,474.39 74.58,475.01 74.74,475.75 74.89,475.73 75.04,476.17 75.19,476.42 75.34,477.57 75.49,478.16 75.64,478.83 75.79,479.29 75.94,479.66 76.09,480.50 76.24,480.35 76.39,481.27 76.54,481.79 76.70,482.06 76.85,483.06 77.00,483.10 77.15,483.78 77.30,484.04 77.45,484.08 77.60,485.06 77.75,485.13 77.90,485.11 78.05,485.35 78.20,485.33 78.35,485.83 78.51,486.02 78.66,486.35 78.81,486.33 78.96,486.78 79.11,486.71 79.26,486.38 79.41,486.80 79.56,486.76 79.71,486.72 79.86,487.09 80.01,487.50 80.16,486.93 80.32,486.71 80.47,487.32 80.62,488.33 80.77,487.32 80.92,487.66 81.07,487.55 81.22,488.06 81.37,488.38 81.52,488.07 81.67,488.68 81.82,488.23 81.97,488.88 82.12,488.73 82.28,489.49 82.43,489.59 82.58,490.22 82.73,490.21 82.88,491.03 83.03,491.42 83.18,491.65 83.33,492.03 83.48,492.36 83.63,493.05 83.78,493.74 83.93,494.02 84.09,494.54 84.24,495.31 84.39,495.25 84.54,495.84 84.69,496.39 84.84,496.68 84.99,497.00 85.14,497.26 85.29,498.16 85.44,497.87 85.59,498.09 85.74,498.67 85.89,499.26 86.05,499.46 86.20,499.29 86.35,499.76 86.50,499.88 86.65,499.96 86.80,500.33 86.95,500.50 87.10,500.52 87.25,501.16 87.40,500.67 87.55,501.34 87.70,501.67 87.86,501.79 88.01,501.34 88.16,501.31 88.31,500.97 88.46,501.52 88.61,502.35 88.76,501.21 88.91,501.29 89.06,502.07 89.21,502.06 89.36,501.39 89.51,501.98 89.67,502.17 89.82,501.67 89.97,502.48 90.12,501.87 90.27,502.68 90.42,502.49 90.57,502.30 90.72,502.12 90.87,502.60 91.02,502.79 91.17,502.89 91.32,502.87 91.47,503.11 91.63,503.57 91.78,503.17 91.93,503.53 92.08,503.87 92.23,503.87 92.38,504.29 92.53,504.65 92.68,504.22 92.83,504.54 92.98,503.73 93.13,504.65 93.28,505.10 93.44,504.69 93.59,505.56 93.74,504.71 93.89,505.80 94.04,505.35 94.19,505.30 94.34,505.55 94.49,505.70 94.64,505.56 94.79,505.51 94.94,505.83 95.09,506.32 95.24,506.19 95.40,506.50 95.55,505.93 95.70,506.01 95.85,506.01 96.00,506.14 96.15,506.20 96.30,506.54 96.45,506.16 96.60,505.92 96.75,506.18 96.90,505.43 97.05,505.13 97.21,505.58 97.36,505.25 97.51,505.04 97.66,505.07 97.81,504.44 97.96,504.23 98.11,504.07 98.26,503.81 98.41,503.54 98.56,502.86 98.71,502.45 98.86,501.15 99.02,501.70 99.17,500.27 99.32,500.09 99.47,500.17 99.62,498.56 99.77,497.38 99.92,497.49 100.07,495.93 100.22,495.10 100.37,494.12 100.52,493.39 100.67,492.39 100.82,491.12 100.98,490.52 101.13,489.01 101.28,488.68 101.43,487.60 101.58,487.46 101.73,486.68 101.88,486.58 102.03,487.20 102.18,486.66 102.33,487.09 102.48,488.24 102.63,488.77 102.79,489.63 102.94,490.73 103.09,492.49 103.24,492.66 103.39,494.03 103.54,495.30 103.69,496.08 103.84,497.44 103.99,498.64 104.14,499.21 104.29,500.77 104.44,500.98 104.60,502.12 104.75,503.05 104.90,504.64 105.05,503.85 105.20,505.10 105.35,506.38 105.50,506.00 105.65,507.03 105.80,507.26 105.95,507.22 106.10,508.20 106.25,508.21 106.40,508.88 106.56,508.75 106.71,509.75 106.86,509.12 107.01,510.08 107.16,510.79 107.31,510.82 107.46,510.80 107.61,511.06 107.76,511.22 107.91,512.37 108.06,511.73 108.21,511.93 108.37,511.89 108.52,512.13 108.67,512.61 108.82,512.40 108.97,512.48 109.12,512.69 109.27,512.88 109.42,513.16 109.57,513.07 109.72,513.27 109.87,513.21 110.02,513.91 110.17,513.66 110.33,513.62 110.48,513.89 110.63,513.87 110.78,513.49 110.93,513.98 111.08,514.59 111.23,514.31 111.38,514.57 111.53,514.07 111.68,513.88 111.83,514.16 111.98,514.82 112.14,514.15 112.29,514.24 112.44,514.84 112.59,514.46 112.74,514.50 112.89,514.68 113.04,514.61 113.19,514.49 113.34,514.66 113.49,514.36 113.64,514.55 113.79,514.74 113.95,514.20 114.10,514.42 114.25,514.11 114.40,514.63 114.55,514.53 114.70,514.57 114.85,514.52 115.00,514.44 115.15,514.26 115.30,513.71 115.45,514.12 115.60,513.45 115.75,514.30 115.91,513.55 116.06,513.50 116.21,512.81 116.36,513.35 116.51,513.23 116.66,512.26 116.81,512.42 116.96,512.32 117.11,512.14 117.26,512.65 117.41,512.80 117.56,511.78 117.72,512.38 117.87,511.99 118.02,512.52 118.17,511.44 118.32,512.14 118.47,512.76 118.62,512.32 118.77,513.08 118.92,512.77 119.07,513.47 119.22,513.52 119.37,513.44 119.53,513.56 119.68,513.96 119.83,514.58 119.98,514.44 120.13,514.45 120.28,515.85 120.43,514.57 120.58,515.16 120.73,515.56 120.88,515.25 121.03,515.72 121.18,515.75 121.33,515.57 121.49,516.28 121.64,515.93 121.79,516.16 121.94,516.87 122.09,516.27 122.24,516.88 122.39,517.15 122.54,517.18 122.69,517.11 122.84,516.97 122.99,516.69 123.14,517.23 123.30,517.38 123.45,517.15 123.60,517.07 123.75,517.68 123.90,517.15 124.05,517.65 124.20,517.41 124.35,517.09 124.50,518.12 124.65,517.85 124.80,517.86 124.95,517.30 125.10,517.71 125.26,517.86 125.41,517.57 125.56,518.31 125.71,517.22 125.86,518.05 126.01,517.28 126.16,517.38 126.31,517.47 126.46,518.03 126.61,517.64 126.76,517.65 126.91,517.57 127.07,517.39 127.22,517.55 127.37,517.51 127.52,517.69 127.67,517.65 127.82,517.01 127.97,517.51 128.12,518.03 128.27,517.49 128.42,517.57 128.57,517.33 128.72,517.29 128.88,517.42 129.03,516.98 129.18,517.28 129.33,516.76 129.48,517.30 129.63,516.65 129.78,517.25 129.93,517.28 130.08,516.40 130.23,517.01 130.38,516.60 130.53,516.98 130.68,516.38 130.84,516.36 130.99,516.27 131.14,516.64 131.29,515.59 131.44,516.32 131.59,516.03 131.74,515.78 131.89,515.79 132.04,516.08 132.19,515.99 132.34,516.21 132.49,515.47 132.65,515.07 132.80,515.47 132.95,515.58 133.10,515.52 133.25,516.05 133.40,516.40 133.55,515.89 133.70,515.30 133.85,516.23 134.00,515.81 134.15,516.11 134.30,516.45 134.45,516.41 134.61,516.40 134.76,516.62 134.91,516.88 135.06,516.96 135.21,517.52 135.36,516.12 135.51,516.90 135.66,517.08 135.81,517.62 135.96,517.55 136.11,517.85 136.26,517.27 136.42,517.73 136.57,518.09 136.72,517.98 136.87,517.96 137.02,518.25 137.17,518.74 137.32,517.69 137.47,518.88 137.62,518.55 137.77,518.28 137.92,518.79 138.07,518.66 138.23,519.07 138.38,518.51 138.53,519.09 138.68,518.57 138.83,518.97 138.98,519.12 139.13,518.92 139.28,519.16 139.43,518.82 139.58,519.34 139.73,518.89 139.88,518.85 140.03,519.04 140.19,519.07 140.34,518.84 140.49,519.34 140.64,519.07 140.79,519.29 140.94,518.67 141.09,518.72 141.24,519.04 141.39,518.82 141.54,519.08 141.69,519.29 141.84,519.46 142.00,519.57 142.15,519.36 142.30,518.92 142.45,519.30 142.60,518.99 142.75,519.32 142.90,518.85 143.05,519.59 143.20,519.32 143.35,519.13 143.50,518.84 143.65,519.36 143.81,519.14 143.96,519.41 144.11,519.16 144.26,519.25 144.41,519.64 144.56,519.94 144.71,519.17 144.86,519.54 145.01,519.77 145.16,519.66 145.31,519.62 145.46,520.46 145.61,519.62 145.77,520.04 145.92,519.84 146.07,520.02 146.22,519.42 146.37,520.43 146.52,520.16 146.67,519.99 146.82,520.84 146.97,520.31 147.12,520.27 147.27,520.25 147.42,520.88 147.58,520.62 147.73,520.57 147.88,520.32 148.03,520.49 148.18,520.92 148.33,520.85 148.48,520.30 148.63,520.69 148.78,521.07 148.93,521.85 149.08,520.86 149.23,520.46 149.38,521.39 149.54,521.06 149.69,520.85 149.84,521.45 149.99,521.25 150.14,521.06 150.29,520.99 150.44,521.38 150.59,521.48 150.74,520.95 150.89,521.81 151.04,521.17 151.19,522.00 151.35,521.71 151.50,521.58 151.65,521.77 151.80,521.52 151.95,521.70 152.10,522.24 152.25,521.60 152.40,522.05 152.55,521.56 152.70,521.85 152.85,522.17 153.00,521.54 153.16,522.02 153.31,521.30 153.46,521.63 153.61,521.87 153.76,522.28 153.91,522.25 154.06,521.78 154.21,522.03 154.36,522.15 154.51,521.64 154.66,522.26 154.81,522.55 154.96,522.53 155.12,522.00 155.27,522.06 155.42,521.92 155.57,522.06 155.72,522.14 155.87,522.42 156.02,522.24 156.17,521.93 156.32,522.45 156.47,522.46 156.62,521.99 156.77,522.08 156.93,522.09 157.08,521.58 157.23,522.07 157.38,522.16 157.53,522.47 157.68,521.85 157.83,521.60 157.98,521.52 158.13,521.60 158.28,521.49 158.43,520.81 158.58,520.91 158.74,520.81 158.89,519.75 159.04,520.48 159.19,519.69 159.34,519.69 159.49,519.07 159.64,518.65 159.79,518.34 159.94,518.09 160.09,517.90 160.24,517.21 160.39,516.61 160.54,516.42 160.70,516.03 160.85,516.27 161.00,515.50 161.15,516.01 161.30,515.39 161.45,515.14 161.60,515.40 161.75,514.76 161.90,514.66 162.05,514.88 162.20,514.78 162.35,514.19 162.51,515.17 162.66,514.55 162.81,513.96 162.96,514.26 163.11,514.56 163.26,514.33 163.41,514.51 163.56,514.95 163.71,514.52 163.86,514.84 164.01,514.44 164.16,514.04 164.31,514.70 164.47,514.04 164.62,514.55 164.77,514.47 164.92,514.03 165.07,514.08 165.22,514.25 165.37,514.44 165.52,514.73 165.67,514.36 165.82,514.92 165.97,514.63 166.12,514.19 166.28,514.21 166.43,514.44 166.58,514.27 166.73,514.42 166.88,514.69 167.03,514.56 167.18,514.79 167.33,514.31 167.48,514.27 167.63,514.13 167.78,514.04 167.93,514.46 168.09,514.63 168.24,514.58 168.39,514.66 168.54,515.29 168.69,514.38 168.84,514.65 168.99,514.60 169.14,514.50 169.29,515.20 169.44,514.81 169.59,515.22 169.74,514.53 169.89,515.46 170.05,515.60 170.20,514.68 170.35,514.96 170.50,514.95 170.65,515.17 170.80,514.64 170.95,515.19 171.10,515.29 171.25,514.91 171.40,514.43 171.55,514.92 171.70,515.03 171.86,515.39 172.01,514.99 172.16,514.85 172.31,515.40 172.46,515.34 172.61,515.47 172.76,515.27 172.91,515.59 173.06,515.44 173.21,514.77 173.36,515.37 173.51,515.56 173.66,515.35 173.82,515.79 173.97,515.22 174.12,515.58 174.27,515.01 174.42,515.39 174.57,515.23 174.72,515.10 174.87,515.02 175.02,515.48 175.17,515.55 175.32,515.24 175.47,515.06 175.63,515.17 175.78,515.67 175.93,515.08 176.08,515.78 176.23,514.94 176.38,515.53 176.53,515.64 176.68,515.81 176.83,515.31 176.98,515.21 177.13,515.00 177.28,515.70 177.44,515.38 177.59,515.28 177.74,515.28 177.89,515.47 178.04,515.40 178.19,515.73 178.34,514.72 178.49,515.60 178.64,515.18 178.79,515.30 178.94,515.21 179.09,515.26 179.24,515.49 179.40,515.31 179.55,514.79 179.70,515.17 179.85,515.14 180.00,515.25 180.15,515.12 180.30,515.05 180.45,515.34 180.60,514.67 180.75,515.61 180.90,514.74 181.05,514.56 181.21,515.05 181.36,515.09 181.51,515.08 181.66,515.09 181.81,514.73 181.96,514.54 182.11,514.56 182.26,514.37 182.41,514.13 182.56,514.68 182.71,514.66 182.86,514.02 183.02,513.84 183.17,513.66 183.32,513.18 183.47,513.37 183.62,513.29 183.77,513.30 183.92,512.86 184.07,512.44 184.22,513.05 184.37,513.21 184.52,511.87 184.67,512.29 184.82,512.39 184.98,511.57 185.13,511.27 185.28,511.48 185.43,511.15 185.58,510.76 185.73,511.17 185.88,510.83 186.03,510.27 186.18,509.73 186.33,509.32 186.48,509.33 186.63,508.64 186.79,508.79 186.94,508.35 187.09,507.43 187.24,507.49 187.39,507.41 187.54,506.84 187.69,506.10 187.84,506.10 187.99,505.93 188.14,506.00 188.29,505.96 188.44,505.90 188.59,506.39 188.75,506.71 188.90,506.36 189.05,506.34 189.20,507.17 189.35,507.35 189.50,507.78 189.65,507.75 189.80,508.33 189.95,508.26 190.10,509.13 190.25,509.58 190.40,509.05 190.56,508.80 190.71,509.68 190.86,509.90 191.01,510.36 191.16,510.55 191.31,510.94 191.46,511.87 191.61,511.16 191.76,511.49 191.91,512.03 192.06,511.66 192.21,512.77 192.37,512.69 192.52,512.79 192.67,513.33 192.82,514.10 192.97,514.57 193.12,515.07 193.27,515.20 193.42,515.22 193.57,515.97 193.72,516.14 193.87,517.22 194.02,516.25 194.17,517.70 194.33,517.78 194.48,517.99 194.63,518.16 194.78,518.32 194.93,518.50 195.08,518.61 195.23,519.97 195.38,519.92 195.53,520.10 195.68,520.27 195.83,519.84 195.98,520.58 196.14,520.94 196.29,521.48 196.44,521.07 196.59,521.67 196.74,521.74 196.89,522.03 197.04,522.00 197.19,522.55 197.34,522.67 197.49,522.29 197.64,523.41 197.79,523.90 197.95,523.16 198.10,523.96 198.25,523.50 198.40,523.82 198.55,524.69 198.70,524.39 198.85,524.96 199.00,524.77 199.15,525.15 199.30,524.96 199.45,525.61 199.60,525.88 199.75,525.70 199.91,525.49 200.06,525.70 200.21,525.68 200.36,526.30 200.51,526.42 200.66,526.20 200.81,526.83 200.96,526.53 201.11,527.38 201.26,527.22 201.41,527.59 201.56,527.03 201.72,527.08 201.87,526.96 202.02,527.83 202.17,527.43 202.32,528.29 202.47,528.05 202.62,528.36 202.77,527.86 202.92,528.19 203.07,528.53 203.22,528.81 203.37,528.31 203.52,528.91 203.68,528.67 203.83,529.26 203.98,529.05 204.13,529.14 204.28,529.46 204.43,529.77 204.58,529.45 204.73,529.98 204.88,529.41 205.03,529.88 205.18,529.55 205.33,530.04 205.49,529.79 205.64,530.16 205.79,530.42 205.94,530.03 206.09,529.87 206.24,530.42 206.39,530.71 206.54,530.70 206.69,530.44 206.84,531.03 206.99,530.77 207.14,531.16 207.30,530.73 207.45,531.20 207.60,531.49 207.75,531.01 207.90,531.18 208.05,531.52 208.20,531.56 208.35,531.57 208.50,531.49 208.65,531.12 208.80,531.65 208.95,531.32 209.10,531.79 209.26,531.13 209.41,532.31 209.56,532.51 209.71,532.13 209.86,531.79 210.01,532.01 210.16,532.42 210.31,532.40 210.46,532.05 210.61,532.67 210.76,532.58 210.91,532.57 211.07,532.35 211.22,532.51 211.37,532.34 211.52,532.66 211.67,532.45 211.82,533.04 211.97,532.75 212.12,532.84 212.27,532.92 212.42,532.97 212.57,532.49 212.72,533.34 212.87,533.03 213.03,532.88 213.18,532.79 213.33,532.92 213.48,532.98 213.63,533.20 213.78,532.98 213.93,533.31 214.08,533.36 214.23,533.15 214.38,534.05 214.53,533.39 214.68,533.57 214.84,533.53 214.99,533.49 215.14,533.77 215.29,534.02 215.44,533.62 215.59,533.42 215.74,533.88 215.89,533.11 216.04,533.83 216.19,533.76 216.34,533.94 216.49,533.43 216.65,533.78 216.80,533.64 216.95,533.81 217.10,534.18 217.25,533.98 217.40,533.89 217.55,534.45 217.70,534.13 217.85,533.56 218.00,533.88 218.15,534.34 218.30,534.38 218.45,534.34 218.61,534.38 218.76,534.07 218.91,534.34 219.06,534.04 219.21,534.17 219.36,534.18 219.51,534.23 219.66,534.40 219.81,534.46 219.96,534.32 220.11,534.90 220.26,534.48 220.42,535.09 220.57,534.96 220.72,534.33 220.87,534.98 221.02,534.33 221.17,535.20 221.32,534.89 221.47,534.53 221.62,534.20 221.77,534.75 221.92,534.49 222.07,535.24 222.23,534.58 222.38,534.90 222.53,535.14 222.68,535.02 222.83,535.12 222.98,534.99 223.13,535.30 223.28,534.84 223.43,535.31 223.58,534.81 223.73,535.24 223.88,534.87 224.03,535.17 224.19,535.43 224.34,535.65 224.49,534.77 224.64,535.10 224.79,535.06 224.94,535.73 225.09,535.14 225.24,535.63 225.39,535.29 225.54,535.04 225.69,535.52 225.84,535.17 226.00,535.75 226.15,535.80 226.30,535.97 226.45,535.30 226.60,536.09 226.75,535.93 226.90,535.13 227.05,536.34 227.20,536.21 227.35,535.42 227.50,535.85 227.65,535.38 227.80,535.76 227.96,535.87 228.11,536.02 228.26,535.62 228.41,535.87 228.56,535.63 228.71,536.04 228.86,536.14 229.01,535.99 229.16,536.33 229.31,536.23 229.46,536.14 229.61,536.39 229.77,535.70 229.92,536.08 230.07,535.58 230.22,536.12 230.37,536.01 230.52,536.41 230.67,536.06 230.82,536.02 230.97,536.20 231.12,536.21 231.27,536.42 231.42,536.03 231.58,535.86 231.73,535.86 231.88,536.69 232.03,535.99 232.18,536.25 232.33,536.08 232.48,536.69" fill="none" stroke="#0A0AF5" stroke-width="1.5" stroke-linejoin="round"/>
<polyline points="21.50,541.51 21.65,541.79 21.80,540.93 21.95,540.90 22.10,540.69 22.25,540.36 22.40,539.30 22.56,539.08 22.71,538.68 22.86,537.64 23.01,537.84 23.16,537.18 23.31,536.63 23.46,535.46 23.61,535.32 23.76,534.78 23.91,534.35 24.06,533.28 24.21,533.03 24.37,532.82 24.52,531.51 24.67,530.93 24.82,530.37 24.97,529.43 25.12,529.16 25.27,529.14 25.42,527.77 25.57,527.35 25.72,527.10 25.87,526.25 26.02,525.46 26.18,524.60 26.33,523.97 26.48,523.32 26.63,522.86 26.78,522.06 26.93,521.77 27.08,520.47 27.23,520.92 27.38,520.29 27.53,520.36 27.68,520.28 27.83,520.78 27.98,520.86 28.14,521.49 28.29,521.56 28.44,522.40 28.59,523.30 28.74,523.87 28.89,524.04 29.04,524.78 29.19,525.20 29.34,525.82 29.49,526.37 29.64,527.19 29.79,527.44 29.95,528.10 30.10,528.48 30.25,527.98 30.40,528.75 30.55,528.79 30.70,528.69 30.85,529.06 31.00,529.42 31.15,530.23 31.30,529.91 31.45,529.95 31.60,530.11 31.75,529.98 31.91,530.33 32.06,530.31 32.21,529.90 32.36,530.26 32.51,531.42 32.66,530.62 32.81,530.40 32.96,530.60 33.11,530.09 33.26,530.36 33.41,530.54 33.56,529.75 33.72,529.94 33.87,529.96 34.02,529.91 34.17,529.75 34.32,529.88 34.47,529.99 34.62,529.69 34.77,529.78 34.92,529.67 35.07,529.07 35.22,529.22 35.37,528.92 35.53,529.12 35.68,528.73 35.83,528.70 35.98,529.17 36.13,528.56 36.28,528.10 36.43,528.55 36.58,528.58 36.73,528.33 36.88,528.50 37.03,528.80 37.18,528.37 37.33,528.51 37.49,528.40 37.64,528.76 37.79,528.69 37.94,528.52 38.09,528.81 38.24,529.46 38.39,528.49 38.54,528.65 38.69,529.21 38.84,528.75 38.99,529.78 39.14,528.81 39.30,528.89 39.45,529.14 39.60,529.61 39.75,529.53 39.90,529.44 40.05,529.33 40.20,529.58 40.35,528.61 40.50,529.15 40.65,529.41 40.80,528.57 40.95,528.86 41.11,528.99 41.26,528.85 41.41,528.28 41.56,528.68 41.71,528.08 41.86,528.02 42.01,527.16 42.16,526.99 42.31,526.71 42.46,527.15 42.61,525.64 42.76,525.45 42.91,525.87 43.07,525.31 43.22,524.02 43.37,524.38 43.52,524.01 43.67,524.04 43.82,522.71 43.97,522.71 44.12,522.77 44.27,522.29 44.42,521.43 44.57,521.27 44.72,520.60 44.88,521.16 45.03,520.40 45.18,520.72 45.33,520.46 45.48,519.91 45.63,520.12 45.78,520.41 45.93,520.47 46.08,520.97 46.23,521.08 46.38,521.14 46.53,521.57 46.68,521.53 46.84,521.96 46.99,522.74 47.14,523.10 47.29,523.13 47.44,523.89 47.59,524.14 47.74,524.68 47.89,525.67 48.04,525.46 48.19,525.98 48.34,526.75 48.49,527.01 48.65,527.43 48.80,527.33 48.95,528.10 49.10,528.34 49.25,528.54 49.40,528.92 49.55,529.29 49.70,529.89 49.85,530.46 50.00,530.19 50.15,530.82 50.30,530.64 50.46,530.39 50.61,531.03 50.76,531.57 50.91,531.78 51.06,531.28 51.21,532.34 51.36,531.62 51.51,531.76 51.66,531.95 51.81,532.65 51.96,532.45 52.11,532.71 52.26,531.90 52.42,532.62 52.57,532.69 52.72,533.01 52.87,532.75 53.02,533.30 53.17,532.82 53.32,532.68 53.47,532.66 53.62,533.56 53.77,533.46 53.92,533.06 54.07,533.65 54.23,533.31 54.38,533.36 54.53,533.00 54.68,533.29 54.83,533.51 54.98,533.56 55.13,533.35 55.28,533.82 55.43,533.96 55.58,533.32 55.73,533.67 55.88,533.12 56.03,533.68 56.19,533.28 56.34,533.51 56.49,533.60 56.64,533.47 56.79,533.83 56.94,533.29 57.09,533.37 57.24,533.58 57.39,533.45 57.54,533.51 57.69,533.35 57.84,533.15 58.00,533.55 58.15,533.34 58.30,533.55 58.45,533.63 58.60,533.11 58.75,532.95 58.90,532.99 59.05,532.89 59.20,532.45 59.35,533.45 59.50,533.03 59.65,533.53 59.81,532.63 59.96,532.90 60.11,532.75 60.26,532.58 60.41,532.81 60.56,532.45 60.71,532.35 60.86,532.33 61.01,531.56 61.16,531.91 61.31,531.81 61.46,532.40 61.61,532.00 61.77,531.95 61.92,531.80 62.07,531.45 62.22,531.87 62.37,531.21 62.52,530.74 62.67,531.20 62.82,531.23 62.97,530.78 63.12,530.71 63.27,530.73 63.42,530.75 63.58,530.31 63.73,530.47 63.88,529.89 64.03,530.24 64.18,529.05 64.33,529.53 64.48,529.14 64.63,528.89 64.78,528.28 64.93,528.74 65.08,528.14 65.23,527.68 65.39,527.54 65.54,527.40 65.69,527.23 65.84,526.67 65.99,526.39 66.14,526.48 66.29,526.04 66.44,526.31 66.59,525.30 66.74,525.30 66.89,525.24 67.04,524.32 67.19,524.29 67.35,523.71 67.50,523.24 67.65,523.28 67.80,522.10 67.95,521.77 68.10,520.98 68.25,520.98 68.40,520.81 68.55,519.95 68.70,519.75 68.85,518.76 69.00,518.76 69.16,517.83 69.31,517.14 69.46,517.16 69.61,516.07 69.76,515.61 69.91,514.85 70.06,514.36 70.21,513.54 70.36,512.49 70.51,512.24 70.66,511.62 70.81,510.92 70.96,510.07 71.12,510.00 71.27,508.61 71.42,508.22 71.57,507.64 71.72,506.69 71.87,506.11 72.02,506.14 72.17,505.69 72.32,505.13 72.47,504.29 72.62,504.39 72.77,504.33 72.93,504.31 73.08,504.41 73.23,504.20 73.38,504.43 73.53,504.79 73.68,503.85 73.83,505.10 73.98,505.03 74.13,505.69 74.28,506.05 74.43,506.18 74.58,506.73 74.74,507.66 74.89,508.05 75.04,508.90 75.19,509.17 75.34,510.51 75.49,510.42 75.64,511.70 75.79,511.49 75.94,512.46 76.09,513.21 76.24,513.09 76.39,513.75 76.54,514.69 76.70,515.43 76.85,516.01 77.00,516.27 77.15,516.89 77.30,516.71 77.45,517.36 77.60,518.32 77.75,518.14 77.90,518.60 78.05,518.52 78.20,519.30 78.35,519.21 78.51,520.06 78.66,520.65 78.81,520.57 78.96,520.75 79.11,520.80 79.26,521.27 79.41,520.97 79.56,521.31 79.71,522.22 79.86,521.36 80.01,521.70 80.16,521.58 80.32,522.44 80.47,522.14 80.62,521.95 80.77,522.07 80.92,522.88 81.07,522.88 81.22,523.06 81.37,522.98 81.52,523.43 81.67,523.74 81.82,523.76 81.97,523.34 82.12,523.48 82.28,523.89 82.43,524.67 82.58,524.46 82.73,524.89 82.88,525.53 83.03,525.59 83.18,525.80 83.33,526.78 83.48,526.97 83.63,527.39 83.78,527.75 83.93,528.21 84.09,528.09 84.24,528.35 84.39,528.18 84.54,528.89 84.69,529.04 84.84,529.76 84.99,529.88 85.14,530.33 85.29,530.42 85.44,530.63 85.59,530.61 85.74,530.65 85.89,530.63 86.05,530.86 86.20,530.70 86.35,531.18 86.50,531.12 86.65,530.62 86.80,530.47 86.95,531.07 87.10,531.16 87.25,531.22 87.40,531.67 87.55,531.10 87.70,530.88 87.86,531.31 88.01,531.44 88.16,531.57 88.31,530.74 88.46,530.88 88.61,530.75 88.76,531.23 88.91,530.91 89.06,530.64 89.21,530.76 89.36,530.38 89.51,530.35 89.67,530.34 89.82,530.16 89.97,530.20 90.12,530.35 90.27,530.32 90.42,530.69 90.57,530.54 90.72,530.33 90.87,529.80 91.02,530.10 91.17,530.49 91.32,530.66 91.47,530.55 91.63,530.99 91.78,531.32 91.93,531.31 92.08,531.66 92.23,531.90 92.38,531.96 92.53,532.15 92.68,532.61 92.83,532.97 92.98,532.84 93.13,532.79 93.28,533.35 93.44,534.00 93.59,533.62 93.74,534.57 93.89,534.36 94.04,534.77 94.19,534.71 94.34,535.28 94.49,535.30 94.64,535.55 94.79,535.04 94.94,535.94 95.09,535.38 95.24,535.88 95.40,536.22 95.55,536.09 95.70,536.36 95.85,536.31 96.00,536.33 96.15,536.09 96.30,536.61 96.45,536.62 96.60,536.12 96.75,535.96 96.90,536.20 97.05,535.82 97.21,535.96 97.36,536.01 97.51,535.79 97.66,535.83 97.81,535.31 97.96,534.62 98.11,534.38 98.26,534.45 98.41,534.48 98.56,533.43 98.71,532.82 98.86,532.98 99.02,532.00 99.17,531.64 99.32,531.10 99.47,529.81 99.62,529.23 99.77,528.36 99.92,527.80 100.07,526.91 100.22,525.62 100.37,524.91 100.52,523.22 100.67,522.78 100.82,521.75 100.98,520.66 101.13,519.32 101.28,518.87 101.43,517.89 101.58,518.05 101.73,517.19 101.88,517.04 102.03,517.10 102.18,517.54 102.33,517.87 102.48,518.64 102.63,519.03 102.79,520.55 102.94,521.14 103.09,522.60 103.24,523.61 103.39,525.02 103.54,525.86 103.69,526.62 103.84,527.82 103.99,529.16 104.14,530.63 104.29,531.09 104.44,532.14 104.60,533.34 104.75,533.64 104.90,534.64 105.05,535.33 105.20,535.74 105.35,536.59 105.50,537.39 105.65,537.93 105.80,538.03 105.95,539.41 106.10,539.12 106.25,539.35 106.40,539.60 106.56,539.88 106.71,540.72 106.86,539.99 107.01,541.05 107.16,540.98 107.31,541.58 107.46,541.85 107.61,541.72 107.76,542.03 107.91,542.86 108.06,542.54 108.21,542.87 108.37,542.96 108.52,543.44 108.67,543.70 108.82,543.76 108.97,543.79 109.12,543.92 109.27,543.55 109.42,544.36 109.57,543.94 109.72,543.95 109.87,544.19 110.02,544.16 110.17,544.59 110.33,544.75 110.48,544.98 110.63,544.67 110.78,544.59 110.93,544.74 111.08,544.54 111.23,544.71 111.38,545.53 111.53,544.79 111.68,544.91 111.83,545.25 111.98,545.17 112.14,545.34 112.29,544.90 112.44,544.85 112.59,545.53 112.74,544.97 112.89,545.13 113.04,545.21 113.19,544.61 113.34,545.06 113.49,544.90 113.64,545.20 113.79,544.92 113.95,544.33 114.10,545.12 114.25,544.12 114.40,544.65 114.55,544.48 114.70,544.41 114.85,544.48 115.00,544.64 115.15,544.00 115.30,543.94 115.45,544.18 115.60,543.96 115.75,543.85 115.91,543.57 116.06,543.23 116.21,542.97 116.36,542.79 116.51,542.98 116.66,542.96 116.81,542.91 116.96,541.88 117.11,541.95 117.26,541.88 117.41,541.72 117.56,541.36 117.72,542.24 117.87,542.03 118.02,541.58 118.17,541.55 118.32,541.77 118.47,541.55 118.62,541.95 118.77,542.44 118.92,542.89 119.07,542.88 119.22,543.22 119.37,542.79 119.53,542.40 119.68,543.94 119.83,543.83 119.98,543.97 120.13,544.68 120.28,544.14 120.43,544.34 120.58,544.58 120.73,545.43 120.88,545.40 121.03,544.78 121.18,545.90 121.33,545.56 121.49,545.80 121.64,545.58 121.79,546.44 121.94,546.12 122.09,546.46 122.24,545.89 122.39,546.45 122.54,546.34 122.69,546.31 122.84,546.20 122.99,546.28 123.14,546.19 123.30,546.37 123.45,546.59 123.60,546.79 123.75,546.20 123.90,546.37 124.05,546.50 124.20,546.22 124.35,546.61 124.50,546.62 124.65,546.63 124.80,546.80 124.95,546.93 125.10,546.88 125.26,546.71 125.41,546.77 125.56,546.34 125.71,546.26 125.86,546.68 126.01,546.61 126.16,547.02 126.31,546.28 126.46,546.00 126.61,546.30 126.76,546.02 126.91,545.82 127.07,546.38 127.22,546.45 127.37,545.91 127.52,545.52 127.67,545.67 127.82,545.47 127.97,544.97 128.12,545.47 128.27,545.20 128.42,545.32 128.57,544.65 128.72,544.64 128.88,544.45 129.03,543.81 129.18,544.84 129.33,543.33 129.48,543.40 129.63,543.42 129.78,542.86 129.93,543.20 130.08,542.72 130.23,542.64 130.38,542.44 130.53,542.15 130.68,541.91 130.84,541.59 130.99,541.50 131.14,541.36 131.29,540.81 131.44,540.52 131.59,540.30 131.74,540.29 131.89,539.89 132.04,539.70 132.19,539.21 132.34,540.05 132.49,539.03 132.65,539.77 132.80,539.45 132.95,539.47 133.10,539.24 133.25,539.33 133.40,539.32 133.55,539.48 133.70,539.65 133.85,539.96 134.00,539.39 134.15,539.97 134.30,540.48 134.45,540.61 134.61,540.12 134.76,540.71 134.91,540.92 135.06,541.13 135.21,540.63 135.36,541.75 135.51,541.26 135.66,542.57 135.81,542.34 135.96,542.32 136.11,542.73 136.26,542.78 136.42,542.76 136.57,543.06 136.72,543.35 136.87,543.17 137.02,543.75 137.17,544.00 137.32,544.11 137.47,544.25 137.62,544.39 137.77,544.31 137.92,544.57 138.07,544.29 138.23,544.45 138.38,544.80 138.53,545.00 138.68,544.38 138.83,544.09 138.98,545.16 139.13,544.89 139.28,545.09 139.43,544.83 139.58,544.63 139.73,544.36 139.88,544.25 140.03,544.93 140.19,544.76 140.34,544.54 140.49,544.08 140.64,544.21 140.79,544.14 140.94,544.18 141.09,543.38 141.24,544.23 141.39,544.57 141.54,543.90 141.69,544.01 141.84,544.03 142.00,543.61 142.15,543.99 142.30,543.58 142.45,543.66 142.60,543.83 142.75,543.71 142.90,543.74 143.05,543.44 143.20,543.92 143.35,543.40 143.50,543.98 143.65,543.62 143.81,543.45 143.96,543.82 144.11,543.59 144.26,543.80 144.41,543.99 144.56,544.34 144.71,544.43 144.86,544.43 145.01,544.31 145.16,544.05 145.31,544.54 145.46,544.62 145.61,544.79 145.77,544.79 145.92,544.91 146.07,545.42 146.22,544.91 146.37,545.43 146.52,545.91 146.67,545.44 146.82,545.49 146.97,545.83 147.12,545.91 147.27,546.20 147.42,546.62 147.58,546.30 147.73,546.60 147.88,546.37 148.03,546.49 148.18,546.82 148.33,546.62 148.48,547.26 148.63,546.88 148.78,547.03 148.93,546.85 149.08,547.11 149.23,547.02 149.38,547.24 149.54,546.93 149.69,547.51 149.84,548.09 149.99,547.09 150.14,548.21 150.29,547.72 150.44,548.07 150.59,547.57 150.74,548.51 150.89,547.65 151.04,547.99 151.19,548.52 151.35,547.73 151.50,547.46 151.65,548.16 151.80,548.00 151.95,547.98 152.10,548.03 152.25,547.90 152.40,548.78 152.55,548.76 152.70,548.03 152.85,548.43 153.00,548.35 153.16,548.84 153.31,548.29 153.46,549.04 153.61,548.59 153.76,548.37 153.91,548.60 154.06,548.47 154.21,549.33 154.36,548.72 154.51,548.55 154.66,548.73 154.81,549.15 154.96,548.44 155.12,548.23 155.27,549.12 155.42,548.91 155.57,548.59 155.72,548.69 155.87,549.02 156.02,547.86 156.17,549.02 156.32,548.55 156.47,548.76 156.62,548.48 156.77,549.34 156.93,548.15 157.08,548.56 157.23,547.34 157.38,547.98 157.53,548.03 157.68,547.14 157.83,546.76 157.98,547.13 158.13,547.10 158.28,546.80 158.43,545.85 158.58,545.72 158.74,544.71 158.89,545.12 159.04,543.85 159.19,543.78 159.34,542.66 159.49,541.95 159.64,541.82 159.79,540.35 159.94,540.27 160.09,539.05 160.24,538.18 160.39,537.51 160.54,537.45 160.70,536.47 160.85,535.82 161.00,534.95 161.15,535.28 161.30,534.81 161.45,534.21 161.60,534.00 161.75,532.49 161.90,533.04 162.05,533.01 162.20,532.79 162.35,532.41 162.51,532.50 162.66,532.07 162.81,531.98 162.96,531.70 163.11,532.02 163.26,531.68 163.41,531.68 163.56,532.18 163.71,531.70 163.86,531.65 164.01,531.15 164.16,531.41 164.31,531.82 164.47,531.65 164.62,531.46 164.77,531.35 164.92,531.39 165.07,531.45 165.22,531.20 165.37,530.52 165.52,531.82 165.67,531.54 165.82,531.11 165.97,531.55 166.12,530.71 166.28,531.46 166.43,531.10 166.58,531.29 166.73,530.90 166.88,531.03 167.03,531.15 167.18,531.28 167.33,531.11 167.48,531.10 167.63,530.79 167.78,531.50 167.93,531.07 168.09,530.96 168.24,530.96 168.39,530.73 168.54,530.91 168.69,530.72 168.84,531.29 168.99,531.25 169.14,531.39 169.29,531.00 169.44,531.30 169.59,531.29 169.74,531.83 169.89,531.14 170.05,531.19 170.20,532.08 170.35,531.85 170.50,531.32 170.65,532.25 170.80,532.33 170.95,532.27 171.10,531.35 171.25,532.05 171.40,531.79 171.55,532.00 171.70,531.64 171.86,532.67 172.01,531.97 172.16,532.28 172.31,532.47 172.46,532.43 172.61,532.39 172.76,532.17 172.91,532.37 173.06,532.25 173.21,531.65 173.36,532.64 173.51,532.16 173.66,532.20 173.82,532.24 173.97,531.95 174.12,532.01 174.27,531.83 174.42,532.51 174.57,532.72 174.72,532.38 174.87,532.01 175.02,532.74 175.17,532.24 175.32,531.85 175.47,531.75 175.63,532.35 175.78,532.71 175.93,532.15 176.08,532.05 176.23,532.14 176.38,531.94 176.53,532.00 176.68,532.21 176.83,531.89 176.98,532.35 177.13,531.74 177.28,532.21 177.44,532.06 177.59,531.80 177.74,531.78 177.89,531.73 178.04,532.28 178.19,531.48 178.34,532.02 178.49,531.91 178.64,531.44 178.79,531.96 178.94,530.69 179.09,531.41 179.24,531.29 179.40,531.18 179.55,531.34 179.70,530.87 179.85,530.84 180.00,531.14 180.15,530.65 180.30,530.26 180.45,530.62 180.60,530.30 180.75,530.02 180.90,530.21 181.05,529.66 181.21,529.44 181.36,529.48 181.51,529.33 181.66,529.21 181.81,528.64 181.96,529.30 182.11,528.77 182.26,528.38 182.41,528.17 182.56,527.10 182.71,527.86 182.86,527.01 183.02,527.19 183.17,526.40 183.32,526.76 183.47,526.01 183.62,525.81 183.77,526.03 183.92,525.57 184.07,524.57 184.22,524.47 184.37,524.44 184.52,524.01 184.67,524.02 184.82,523.27 184.98,522.60 185.13,522.57 185.28,522.45 185.43,522.32 185.58,522.00 185.73,521.76 185.88,521.05 186.03,520.48 186.18,520.30 186.33,519.57 186.48,518.96 186.63,518.45 186.79,518.34 186.94,517.98 187.09,517.41 187.24,516.03 187.39,516.37 187.54,515.29 187.69,515.17 187.84,515.17 187.99,514.41 188.14,514.36 188.29,514.53 188.44,515.39 188.59,515.43 188.75,515.15 188.90,515.84 189.05,516.27 189.20,516.79 189.35,516.98 189.50,518.13 189.65,518.09 189.80,518.95 189.95,518.69 190.10,519.78 190.25,520.17 190.40,520.99 190.56,520.24 190.71,521.62 190.86,522.14 191.01,522.26 191.16,523.18 191.31,523.89 191.46,524.01 191.61,524.51 191.76,525.21 191.91,525.52 192.06,526.36 192.21,526.81 192.37,527.08 192.52,527.66 192.67,529.03 192.82,529.58 192.97,529.93 193.12,530.88 193.27,532.05 193.42,531.83 193.57,532.80 193.72,534.00 193.87,534.74 194.02,534.83 194.17,535.56 194.33,536.56 194.48,537.57 194.63,537.77 194.78,537.68 194.93,539.27 195.08,539.52 195.23,539.94 195.38,540.26 195.53,541.49 195.68,541.71 195.83,542.24 195.98,542.70 196.14,543.19 196.29,543.75 196.44,544.46 196.59,544.05 196.74,544.76 196.89,545.05 197.04,546.09 197.19,545.88 197.34,545.86 197.49,546.70 197.64,546.85 197.79,547.20 197.95,547.63 198.10,547.71 198.25,547.86 198.40,549.35 198.55,549.04 198.70,549.11 198.85,549.89 199.00,550.40 199.15,549.77 199.30,550.45 199.45,550.95 199.60,550.89 199.75,551.56 199.91,551.32 200.06,551.76 200.21,552.18 200.36,552.60 200.51,552.73 200.66,552.76 200.81,553.10 200.96,552.81 201.11,554.32 201.26,553.78 201.41,554.04 201.56,554.43 201.72,554.74 201.87,554.88 202.02,554.78 202.17,554.69 202.32,555.34 202.47,555.35 202.62,555.62 202.77,555.97 202.92,556.23 203.07,556.73 203.22,556.48 203.37,556.18 203.52,557.05 203.68,557.32 203.83,556.71 203.98,557.55 204.13,557.59 204.28,557.53 204.43,557.90 204.58,558.11 204.73,558.32 204.88,558.64 205.03,558.43 205.18,558.57 205.33,559.44 205.49,558.53 205.64,558.90 205.79,559.01 205.94,559.47 206.09,559.70 206.24,559.09 206.39,559.98 206.54,559.38 206.69,560.63 206.84,559.76 206.99,560.41 207.14,560.11 207.30,560.51 207.45,560.18 207.60,560.55 207.75,560.62 207.90,560.75 208.05,561.06 208.20,560.78 208.35,560.92 208.50,560.71 208.65,561.16 208.80,561.15 208.95,561.65 209.10,561.68 209.26,561.34 209.41,561.78 209.56,562.13 209.71,561.75 209.86,561.55 210.01,562.72 210.16,562.23 210.31,562.35 210.46,562.97 210.61,562.05 210.76,562.46 210.91,561.87 211.07,562.66 211.22,562.71 211.37,562.42 211.52,562.47 211.67,562.75 211.82,562.80 211.97,563.41 212.12,562.93 212.27,563.02 212.42,563.08 212.57,562.71 212.72,563.11 212.87,562.91 213.03,563.42 213.18,562.78 213.33,563.16 213.48,563.64 213.63,562.99 213.78,563.21 213.93,564.03 214.08,563.39 214.23,563.84 214.38,563.99 214.53,563.64 214.68,563.50 214.84,564.52 214.99,563.95 215.14,564.32 215.29,563.99 215.44,564.38 215.59,563.93 215.74,563.96 215.89,564.11 216.04,564.28 216.19,564.33 216.34,564.47 216.49,564.75 216.65,564.50 216.80,564.99 216.95,564.56 217.10,565.00 217.25,565.25 217.40,565.42 217.55,564.34 217.70,565.51 217.85,564.50 218.00,565.50 218.15,565.12 218.30,565.27 218.45,564.92 218.61,565.53 218.76,565.50 218.91,565.17 219.06,565.19 219.21,565.67 219.36,565.77 219.51,565.73 219.66,565.42 219.81,565.58 219.96,565.90 220.11,565.91 220.26,566.04 220.42,565.78 220.57,565.57 220.72,565.90 220.87,565.99 221.02,565.73 221.17,566.06 221.32,565.72 221.47,566.08 221.62,565.86 221.77,566.72 221.92,566.47 222.07,566.23 222.23,565.80 222.38,565.86 222.53,566.47 222.68,566.25 222.83,566.43 222.98,565.90 223.13,565.95 223.28,566.47 223.43,566.41 223.58,566.11 223.73,566.30 223.88,566.81 224.03,566.48 224.19,566.82 224.34,567.18 224.49,566.82 224.64,566.79 224.79,566.60 224.94,567.18 225.09,566.42 225.24,566.55 225.39,566.91 225.54,566.51 225.69,567.27 225.84,566.83 226.00,567.20 226.15,566.98 226.30,567.03 226.45,567.15 226.60,566.58 226.75,566.88 226.90,567.09 227.05,567.93 227.20,567.54 227.35,567.55 227.50,567.05 227.65,567.66 227.80,567.80 227.96,567.68 228.11,568.27 228.26,567.11 228.41,567.22 228.56,567.50 228.71,567.31 228.86,567.65 229.01,567.82 229.16,567.69 229.31,567.76 229.46,567.88 229.61,568.02 229.77,567.62 229.92,567.64 230.07,568.23 230.22,567.80 230.37,567.68 230.52,568.05 230.67,567.89 230.82,568.06 230.97,568.03 231.12,568.27 231.27,568.38 231.42,567.89 231.58,567.80 231.73,568.67 231.88,568.02 232.03,567.78 232.18,567.71 232.33,568.29 232.48,568.14" fill="none" stroke="#8A14F5" stroke-width="1.5" stroke-linejoin="round"/>
<line x1="25.3" y1="583.5" x2="25.3" y2="582" stroke="#128C12" stroke-width="1.1"/>
<line x1="31.4" y1="583.5" x2="31.4" y2="582" stroke="#128C12" stroke-width="1.1"/>
<line x1="33.3" y1="583.5" x2="33.3" y2="582" stroke="#128C12" stroke-width="1.1"/>
<line x1="39.9" y1="583.5" x2="39.9" y2="582" stroke="#128C12" stroke-width="1.1"/>
<line x1="42.5" y1="583.5" x2="42.5" y2="582" stroke="#128C12" stroke-width="1.1"/>
<line x1="43.7" y1="583.5" x2="43.7" y2="582" stroke="#128C12" stroke-width="1.1"/>
<line x1="51.9" y1="583.5" x2="51.9" y2="577.8" stroke="#128C12" stroke-width="1.1"/>
<line x1="57.9" y1="583.5" x2="57.9" y2="582" stroke="#128C12" stroke-width="1.1"/>
<line x1="67.4" y1="583.5" x2="67.4" y2="582" stroke="#128C12" stroke-width="1.1"/>
<line x1="69.3" y1="583.5" x2="69.3" y2="582" stroke="#128C12" stroke-width="1.1"/>
<line x1="70.3" y1="583.5" x2="70.3" y2="582" stroke="#128C12" stroke-width="1.1"/>
<line x1="85.4" y1="583.5" x2="85.4" y2="582" stroke="#128C12" stroke-width="1.1"/>
<line x1="92.1" y1="583.5" x2="92.1" y2="572.7" stroke="#128C12" stroke-width="1.1"/>
<line x1="97" y1="583.5" x2="97" y2="578.4" stroke="#128C12" stroke-width="1.1"/>
<line x1="106.2" y1="583.5" x2="106.2" y2="525.3" stroke="#128C12" stroke-width="1.1"/>
<line x1="123.7" y1="583.5" x2="123.7" y2="556" stroke="#128C12" stroke-width="1.1"/>
<line x1="132.5" y1="583.5" x2="132.5" y2="575.7" stroke="#128C12" stroke-width="1.1"/>
<line x1="133.4" y1="583.5" x2="133.4" y2="571.8" stroke="#128C12" stroke-width="1.1"/>
<line x1="144" y1="583.5" x2="144" y2="574.7" stroke="#128C12" stroke-width="1.1"/>
<line x1="165.7" y1="583.5" x2="165.7" y2="548.8" stroke="#128C12" stroke-width="1.1"/>
<line x1="168.6" y1="583.5" x2="168.6" y2="547.5" stroke="#128C12" stroke-width="1.1"/>
<line x1="181.1" y1="583.5" x2="181.1" y2="553.2" stroke="#128C12" stroke-width="1.1"/>
<line x1="192.6" y1="583.5" x2="192.6" y2="545" stroke="#128C12" stroke-width="1.1"/>
<line x1="204.1" y1="583.5" x2="204.1" y2="582" stroke="#128C12" stroke-width="1.1"/>
<line x1="206.8" y1="583.5" x2="206.8" y2="576" stroke="#128C12" stroke-width="1.1"/>
<line x1="231.7" y1="583.5" x2="231.7" y2="579.1" stroke="#128C12" stroke-width="1.1"/>
<line x1="29.1" y1="642.5" x2="29.1" y2="636.6" stroke="#FF8C1A" stroke-width="1.1"/>
<line x1="35.2" y1="642.5" x2="35.2" y2="639.5" stroke="#FF8C1A" stroke-width="1.1"/>
<line x1="38" y1="642.5" x2="38" y2="637.6" stroke="#FF8C1A" stroke-width="1.1"/>
<line x1="41.8" y1="642.5" x2="41.8" y2="631.5" stroke="#FF8C1A" stroke-width="1.1"/>
<line x1="65.5" y1="642.5" x2="65.5" y2="639" stroke="#FF8C1A" stroke-width="1.1"/>
<line x1="67.8" y1="642.5" x2="67.8" y2="637.6" stroke="#FF8C1A" stroke-width="1.1"/>
<line x1="70.3" y1="642.5" x2="70.3" y2="636.6" stroke="#FF8C1A" stroke-width="1.1"/>
<line x1="75" y1="642.5" x2="75" y2="639.5" stroke="#FF8C1A" stroke-width="1.1"/>
<line x1="85.4" y1="642.5" x2="85.4" y2="640" stroke="#FF8C1A" stroke-width="1.1"/>
<line x1="94.3" y1="642.5" x2="94.3" y2="610" stroke="#FF8C1A" stroke-width="1.1"/>
<line x1="96.2" y1="642.5" x2="96.2" y2="632.8" stroke="#FF8C1A" stroke-width="1.1"/>
<line x1="98.5" y1="642.5" x2="98.5" y2="582.2" stroke="#FF8C1A" stroke-width="1.1"/>
<line x1="111" y1="642.5" x2="111" y2="607.2" stroke="#FF8C1A" stroke-width="1.1"/>
<line x1="113.5" y1="642.5" x2="113.5" y2="639" stroke="#FF8C1A" stroke-width="1.1"/>
<line x1="117.7" y1="642.5" x2="117.7" y2="634.7" stroke="#FF8C1A" stroke-width="1.1"/>
<line x1="133.8" y1="642.5" x2="133.8" y2="616.4" stroke="#FF8C1A" stroke-width="1.1"/>
<line x1="140.2" y1="642.5" x2="140.2" y2="631.8" stroke="#FF8C1A" stroke-width="1.1"/>
<line x1="142.5" y1="642.5" x2="142.5" y2="631.8" stroke="#FF8C1A" stroke-width="1.1"/>
<line x1="152.3" y1="642.5" x2="152.3" y2="626.6" stroke="#FF8C1A" stroke-width="1.1"/>
<line x1="161.7" y1="642.5" x2="161.7" y2="598.3" stroke="#FF8C1A" stroke-width="1.1"/>
<line x1="169.9" y1="642.5" x2="169.9" y2="639" stroke="#FF8C1A" stroke-width="1.1"/>
<line x1="175.1" y1="642.5" x2="175.1" y2="596.8" stroke="#FF8C1A" stroke-width="1.1"/>
<line x1="186.2" y1="642.5" x2="186.2" y2="594.3" stroke="#FF8C1A" stroke-width="1.1"/>
<line x1="192.6" y1="642.5" x2="192.6" y2="590.5" stroke="#FF8C1A" stroke-width="1.1"/>
<line x1="202.6" y1="642.5" x2="202.6" y2="640" stroke="#FF8C1A" stroke-width="1.1"/>
<line x1="204.5" y1="642.5" x2="204.5" y2="640" stroke="#FF8C1A" stroke-width="1.1"/>
<line x1="217.9" y1="642.5" x2="217.9" y2="640.5" stroke="#FF8C1A" stroke-width="1.1"/>
<rect x="21.6" y="345.4" width="211.8" height="298.2" fill="none" stroke="#6A6A6A" stroke-width="1.2"/>
<line x1="51.6" y1="643.6" x2="51.6" y2="647.6" stroke="#5A5A5A" stroke-width="1"/>
<line x1="81.8" y1="643.6" x2="81.8" y2="646.1" stroke="#5A5A5A" stroke-width="1"/>
<line x1="111.9" y1="643.6" x2="111.9" y2="647.6" stroke="#5A5A5A" stroke-width="1"/>
<line x1="142.1" y1="643.6" x2="142.1" y2="646.1" stroke="#5A5A5A" stroke-width="1"/>
<line x1="172.2" y1="643.6" x2="172.2" y2="647.6" stroke="#5A5A5A" stroke-width="1"/>
<line x1="202.3" y1="643.6" x2="202.3" y2="646.1" stroke="#5A5A5A" stroke-width="1"/>
<line x1="232.5" y1="643.6" x2="232.5" y2="647.6" stroke="#5A5A5A" stroke-width="1"/>
<text id="dx200" x="38.78" y="662.43" font-size="15.48" textLength="24.18" lengthAdjust="spacingAndGlyphs" >200</text>
<text id="dx400" x="99.32" y="662.43" font-size="15.48" textLength="25.82" lengthAdjust="spacingAndGlyphs" >400</text>
<text id="dx600" x="160.02" y="662.43" font-size="15.48" textLength="25.63" lengthAdjust="spacingAndGlyphs" >600</text>
<text id="dx800" x="219.81" y="662.43" font-size="15.48" textLength="26.06" lengthAdjust="spacingAndGlyphs" >800</text>
<text id="draman" x="56.00" y="678.84" font-size="17.50" textLength="145.51" lengthAdjust="spacingAndGlyphs" >Raman shift (cm<tspan dy="-5.5" font-size="10.5">-1</tspan><tspan dy="5.5">)</tspan></text>
<text id="dint" transform="translate(14.68,580.50) rotate(-90)" font-size="18.01" textLength="157.22" lengthAdjust="spacingAndGlyphs" >Intensity (arb. units)</text>
<text id="dlhzo" x="110.30" y="391.92" font-size="13.53" textLength="87.78" lengthAdjust="spacingAndGlyphs" >Lu:Hf<tspan dy="3" font-size="9.5">0.6</tspan><tspan dy="-3">Zr</tspan><tspan dy="3" font-size="9.5">0.4</tspan><tspan dy="-3">O</tspan><tspan dy="3" font-size="9.5">2</tspan></text>
<text id="dl0" x="235.92" y="436.02" font-size="14.00" textLength="60.63" lengthAdjust="spacingAndGlyphs" fill="#808080">10.5 at. %</text>
<text id="dl1" x="235.85" y="465.48" font-size="13.99" textLength="50.05" lengthAdjust="spacingAndGlyphs" fill="#FF78FF">10 at. %</text>
<text id="dl2" x="236.27" y="489.24" font-size="13.73" textLength="60.88" lengthAdjust="spacingAndGlyphs" fill="#B8B812">9.75 at. %</text>
<text id="dl3" x="236.26" y="516.02" font-size="14.00" textLength="53.20" lengthAdjust="spacingAndGlyphs" fill="#148A8A">9.5 at. %</text>
<text id="dl4" x="236.21" y="541.17" font-size="13.73" textLength="61.34" lengthAdjust="spacingAndGlyphs" fill="#0A0AF5">9.25 at. %</text>
<text id="dl5" x="236.56" y="571.12" font-size="13.99" textLength="41.87" lengthAdjust="spacingAndGlyphs" fill="#8A14F5">9 at. %</text>
<text id="dt" x="238.15" y="367.43" font-size="15.32" textLength="4.60" lengthAdjust="spacingAndGlyphs" font-style="italic" fill="#808080">t</text>
<text id="dafe" x="237.15" y="587.14" font-size="13.68" textLength="38.36" lengthAdjust="spacingAndGlyphs" fill="#128C12"><tspan font-style="italic">o</tspan>-AFE</text>
<text id="dfe" x="236.21" y="627.89" font-size="13.97" textLength="29.71" lengthAdjust="spacingAndGlyphs" fill="#FF8C1A"><tspan font-style="italic">o</tspan>-FE</text>
<text id="e" x="332.73" y="358.98" font-size="19.35" textLength="11.53" lengthAdjust="spacingAndGlyphs" font-weight="bold">e</text>
<defs><radialGradient id="sph" cx="0.4" cy="0.38" r="0.62" fx="0.36" fy="0.34"><stop offset="0" stop-color="#ffffff"/><stop offset="0.22" stop-color="#7070ff"/><stop offset="0.5" stop-color="#0000ff"/><stop offset="1" stop-color="#0000d8"/></radialGradient></defs>
<rect x="351.2" y="344.5" width="212.4" height="299.5" fill="none" stroke="#6A6A6A" stroke-width="1.2"/>
<line x1="347" y1="644.0" x2="351.2" y2="644.0" stroke="#5A5A5A" stroke-width="1"/>
<line x1="347" y1="537.2" x2="351.2" y2="537.2" stroke="#5A5A5A" stroke-width="1"/>
<line x1="347" y1="430.4" x2="351.2" y2="430.4" stroke="#5A5A5A" stroke-width="1"/>
<line x1="348.8" y1="590.6" x2="351.2" y2="590.6" stroke="#5A5A5A" stroke-width="1"/>
<line x1="348.8" y1="483.8" x2="351.2" y2="483.8" stroke="#5A5A5A" stroke-width="1"/>
<line x1="348.8" y1="377.0" x2="351.2" y2="377.0" stroke="#5A5A5A" stroke-width="1"/>
<text id="ey1" x="335.80" y="649.00" font-size="14.20" textLength="7.23" lengthAdjust="spacingAndGlyphs" >1</text>
<text id="ey2" x="335.72" y="541.68" font-size="13.93" textLength="8.80" lengthAdjust="spacingAndGlyphs" >2</text>
<text id="ey3" x="334.86" y="435.00" font-size="14.20" textLength="10.44" lengthAdjust="spacingAndGlyphs" >3</text>
<line x1="351.2" y1="644" x2="351.2" y2="648.2" stroke="#5A5A5A" stroke-width="1"/>
<line x1="422.0" y1="644" x2="422.0" y2="648.2" stroke="#5A5A5A" stroke-width="1"/>
<line x1="492.8" y1="644" x2="492.8" y2="648.2" stroke="#5A5A5A" stroke-width="1"/>
<line x1="563.6" y1="644" x2="563.6" y2="648.2" stroke="#5A5A5A" stroke-width="1"/>
<line x1="386.6" y1="644" x2="386.6" y2="646.5" stroke="#5A5A5A" stroke-width="1"/>
<line x1="457.4" y1="644" x2="457.4" y2="646.5" stroke="#5A5A5A" stroke-width="1"/>
<line x1="528.2" y1="644" x2="528.2" y2="646.5" stroke="#5A5A5A" stroke-width="1"/>
<text id="ex9_0" x="340.55" y="662.54" font-size="15.39" textLength="20.61" lengthAdjust="spacingAndGlyphs" >9.0</text>
<text id="ex9_5" x="411.70" y="662.54" font-size="15.39" textLength="20.96" lengthAdjust="spacingAndGlyphs" >9.5</text>
<text id="ex10_0" x="478.83" y="662.54" font-size="15.39" textLength="28.97" lengthAdjust="spacingAndGlyphs" >10.0</text>
<text id="ex10_5" x="549.67" y="662.54" font-size="15.39" textLength="28.50" lengthAdjust="spacingAndGlyphs" >10.5</text>
<text id="edop" x="357.84" y="679.40" font-size="17.70" textLength="198.86" lengthAdjust="spacingAndGlyphs" >Lu doping content (at. %)</text>
<text id="eint" transform="translate(331.08,565.00) rotate(-90)" font-size="18.40" textLength="144.15" lengthAdjust="spacingAndGlyphs" ><tspan font-style="italic">I</tspan><tspan dy="3.5" font-size="11.5">273</tspan><tspan dy="-3.5" font-style="italic">/I</tspan><tspan dy="3.5" font-size="11.5">367</tspan><tspan dy="-3.5"> (arb. units)</tspan></text>
<text id="elhzo" x="414.30" y="390.81" font-size="12.02" textLength="87.15" lengthAdjust="spacingAndGlyphs" >Lu:Hf<tspan dy="3" font-size="9">0.6</tspan><tspan dy="-3">Zr</tspan><tspan dy="3" font-size="9">0.4</tspan><tspan dy="-3">O</tspan><tspan dy="3" font-size="9">2</tspan></text>
<polyline points="351.2,618.8 386.6,612.0 422.0,612.0 457.4,591.2 492.8,541.2 563.6,394.5" fill="none" stroke="#1a1aff" stroke-width="1.2"/>
<circle cx="351.2" cy="618.8" r="5.4" fill="url(#sph)"/>
<circle cx="386.6" cy="612.0" r="5.4" fill="url(#sph)"/>
<circle cx="422.0" cy="612.0" r="5.4" fill="url(#sph)"/>
<circle cx="457.4" cy="591.2" r="5.4" fill="url(#sph)"/>
<circle cx="492.8" cy="541.2" r="5.4" fill="url(#sph)"/>
<circle cx="563.6" cy="394.5" r="5.4" fill="url(#sph)"/>
</svg></body></html>
